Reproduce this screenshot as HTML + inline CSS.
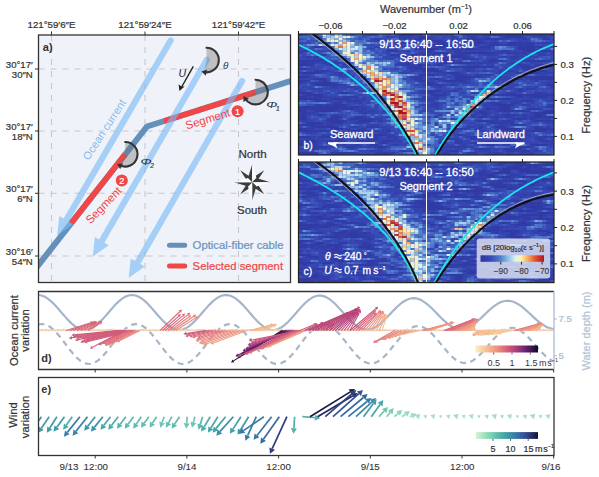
<!DOCTYPE html><html><head><meta charset="utf-8"><style>html,body{margin:0;padding:0;background:#fff;width:599px;height:477px;overflow:hidden}svg{display:block}text{font-family:"Liberation Sans",sans-serif}</style></head><body>
<svg width="599" height="477" viewBox="0 0 599 477">
<defs>
<clipPath id="clipA"><rect x="38.5" y="35.0" width="252.0" height="247.5"/></clipPath>
<clipPath id="clipB"><rect x="298.5" y="34.0" width="255.5" height="121.0"/></clipPath><clipPath id="clipC"><rect x="298.5" y="162.0" width="255.5" height="120.60000000000002"/></clipPath><clipPath id="clipD"><rect x="38.5" y="291.5" width="515.5" height="78.0"/></clipPath><clipPath id="clipE"><rect x="38.5" y="377.5" width="515.5" height="78.0"/></clipPath>
</defs>
<rect width="599" height="477" fill="#fff"/>
<rect x="38.5" y="35.0" width="252.0" height="247.5" fill="#eff2f8"/>
<g clip-path="url(#clipA)">
<line x1="51.5" y1="35.0" x2="51.5" y2="282.5" stroke="#c6c8cd" stroke-width="1.1" stroke-dasharray="6,6"/>
<line x1="145.0" y1="35.0" x2="145.0" y2="282.5" stroke="#c6c8cd" stroke-width="1.1" stroke-dasharray="6,6"/>
<line x1="238.5" y1="35.0" x2="238.5" y2="282.5" stroke="#c6c8cd" stroke-width="1.1" stroke-dasharray="6,6"/>
<line x1="38.5" y1="69.0" x2="290.5" y2="69.0" stroke="#c6c8cd" stroke-width="1.1" stroke-dasharray="6,6"/>
<line x1="38.5" y1="131.0" x2="290.5" y2="131.0" stroke="#c6c8cd" stroke-width="1.1" stroke-dasharray="6,6"/>
<line x1="38.5" y1="193.3" x2="290.5" y2="193.3" stroke="#c6c8cd" stroke-width="1.1" stroke-dasharray="6,6"/>
<line x1="38.5" y1="256.0" x2="290.5" y2="256.0" stroke="#c6c8cd" stroke-width="1.1" stroke-dasharray="6,6"/>
<polyline points="30,275.8 147,126.5 300,78" fill="none" stroke="#6590bb" stroke-width="6" stroke-linejoin="round"/>
<line x1="71" y1="223.3" x2="125.2" y2="154.3" stroke="#f04646" stroke-width="5.6"/>
<line x1="164" y1="121.1" x2="255.5" y2="92.1" stroke="#f04646" stroke-width="5.6"/>
<path d="M167.92,38.94 L63.56,218.58 L59.32,216.12 L57.20,235.70 L73.16,224.15 L68.92,221.69 L173.28,42.06 A3.1,3.1 0 0 0 167.92,38.94 Z" fill="rgba(120,185,245,0.62)"/>
<path d="M204.32,57.95 L99.04,239.57 L94.81,237.12 L92.70,256.70 L108.65,245.14 L104.41,242.68 L209.68,61.05 A3.1,3.1 0 0 0 204.32,57.95 Z" fill="rgba(120,185,245,0.62)"/>
<path d="M239.31,79.45 L134.99,260.85 L130.74,258.41 L128.70,278.00 L144.61,266.38 L140.36,263.94 L244.69,82.55 A3.1,3.1 0 0 0 239.31,79.45 Z" fill="rgba(120,185,245,0.62)"/>
<path d="M206.5,60.0 L206.50,47.70 A12.3,12.3 0 1 1 203.94,72.03 Z" fill="rgba(110,110,110,0.38)"/>
<path d="M206.50,47.70 A12.3,12.3 0 1 1 203.94,72.03" fill="none" stroke="#333" stroke-width="2.1" stroke-linecap="round"/>
<path d="M201.50,71.51 L207.05,69.42 L205.72,75.68 Z" fill="#333"/>
<path d="M255.5,92.1 L255.50,79.80 A12.3,12.3 0 1 1 244.85,98.25 Z" fill="rgba(110,110,110,0.38)"/>
<path d="M255.50,79.80 A12.3,12.3 0 1 1 244.85,98.25" fill="none" stroke="#333" stroke-width="2.1" stroke-linecap="round"/>
<path d="M243.60,96.08 L248.87,98.82 L243.33,102.02 Z" fill="#333"/>
<path d="M125.2,154.3 L125.20,142.00 A12.3,12.3 0 1 1 119.43,165.16 Z" fill="rgba(110,110,110,0.38)"/>
<path d="M125.20,142.00 A12.3,12.3 0 1 1 119.43,165.16" fill="none" stroke="#333" stroke-width="2.1" stroke-linecap="round"/>
<path d="M117.22,163.99 L123.14,163.51 L120.13,169.16 Z" fill="#333"/>
<line x1="193.3" y1="66.4" x2="180.5" y2="89" stroke="#222" stroke-width="1.4"/>
<path d="M179.4,91 L178.6,84.2 L181.3,86.4 L184.6,86.6 Z" fill="#222"/>
<text x="178.60" y="77.00" font-size="10.5" fill="#222" text-anchor="start" font-weight="normal" font-style="italic" stroke-width="0">U</text>
<text x="223.00" y="69.20" font-size="9.8" fill="#333" text-anchor="start" font-weight="normal" font-style="italic" stroke-width="0">θ</text>
<g transform="translate(266.3,108.3) scale(1.4,0.95)">
<text x="0.00" y="0.00" font-size="9.5" fill="#333" text-anchor="start" font-weight="normal" font-style="italic" stroke-width="0">Φ</text>
</g>
<text x="276.00" y="111.20" font-size="6.5" fill="#444" text-anchor="start" font-weight="normal" font-style="italic" stroke="#444" stroke-width="0.22">1</text>
<g transform="translate(140.6,164.6) scale(1.4,0.95)">
<text x="0.00" y="0.00" font-size="9.5" fill="#333" text-anchor="start" font-weight="normal" font-style="italic" stroke-width="0">Φ</text>
</g>
<text x="150.30" y="167.50" font-size="6.5" fill="#444" text-anchor="start" font-weight="normal" font-style="italic" stroke="#444" stroke-width="0.22">2</text>
<g transform="translate(186.8,129.5) rotate(-16.8)">
<text x="0.00" y="0.00" font-size="11.5" fill="#f04646" text-anchor="start" font-weight="normal" font-style="normal" stroke-width="0">Segment</text>
</g>
<circle cx="237.6" cy="111.3" r="6" fill="#f04646"/>
<text x="237.60" y="115.00" font-size="9" fill="#fff" text-anchor="middle" font-weight="normal" font-style="normal" stroke="#fff" stroke-width="0.22">1</text>
<g transform="translate(90.5,224.5) rotate(-46)">
<text x="0.00" y="0.00" font-size="11.5" fill="#f04646" text-anchor="start" font-weight="normal" font-style="normal" stroke-width="0">Segment</text>
</g>
<circle cx="121.8" cy="180.5" r="6" fill="#f04646"/>
<text x="121.80" y="184.20" font-size="9" fill="#fff" text-anchor="middle" font-weight="normal" font-style="normal" stroke="#fff" stroke-width="0.22">2</text>
<g transform="translate(88.5,161) rotate(-57)">
<text x="0.00" y="0.00" font-size="11.0" fill="#86bcef" text-anchor="start" font-weight="normal" font-style="normal" stroke-width="0">Ocean current</text>
</g>
<path d="M252.2,182.2 L254.18,176.75 L264.22,170.18 L257.65,180.22 Z" fill="#3d3d3d"/>
<path d="M252.2,182.2 L257.65,184.18 L264.22,194.22 L254.18,187.65 Z" fill="#3d3d3d"/>
<path d="M252.2,182.2 L250.22,187.65 L240.18,194.22 L246.75,184.18 Z" fill="#3d3d3d"/>
<path d="M252.2,182.2 L246.75,180.22 L240.18,170.18 L250.22,176.75 Z" fill="#3d3d3d"/>
<path d="M252.2,182.2 L247.96,177.96 L252.20,164.20 Z" fill="#3d3d3d"/>
<path d="M252.2,182.2 L256.44,177.96 L252.20,164.20 Z" fill="#ffffff"/>
<path d="M252.2,182.2 L256.44,177.96 L270.20,182.20 Z" fill="#3d3d3d"/>
<path d="M252.2,182.2 L256.44,186.44 L270.20,182.20 Z" fill="#ffffff"/>
<path d="M252.2,182.2 L256.44,186.44 L252.20,200.20 Z" fill="#3d3d3d"/>
<path d="M252.2,182.2 L247.96,186.44 L252.20,200.20 Z" fill="#ffffff"/>
<path d="M252.2,182.2 L247.96,186.44 L234.20,182.20 Z" fill="#3d3d3d"/>
<path d="M252.2,182.2 L247.96,177.96 L234.20,182.20 Z" fill="#ffffff"/>
<text x="252.60" y="158.40" font-size="11.6" fill="#333" text-anchor="middle" font-weight="normal" font-style="normal" stroke="#333" stroke-width="0.22">North</text>
<text x="252.00" y="213.70" font-size="11.4" fill="#333" text-anchor="middle" font-weight="normal" font-style="normal" stroke="#333" stroke-width="0.22">South</text>
<line x1="169.5" y1="245.2" x2="184.7" y2="245.2" stroke="#6590bb" stroke-width="5" stroke-linecap="round"/>
<line x1="169.5" y1="265.9" x2="184.7" y2="265.9" stroke="#f04646" stroke-width="5" stroke-linecap="round"/>
<text x="192.60" y="249.20" font-size="11.3" fill="#6a93bf" text-anchor="start" font-weight="normal" font-style="normal" stroke="#6a93bf" stroke-width="0.22">Optical-fiber cable</text>
<text x="192.60" y="269.80" font-size="11.3" fill="#f04646" text-anchor="start" font-weight="normal" font-style="normal" stroke="#f04646" stroke-width="0.22">Selected segment</text>
<text x="42.80" y="51.20" font-size="11" fill="#333" text-anchor="start" font-weight="bold" font-style="normal" >a)</text>
</g>
<rect x="38.5" y="35.0" width="252.0" height="247.5" fill="none" stroke="#333" stroke-width="1.3"/>
<line x1="51.5" y1="35.0" x2="51.5" y2="31.5" stroke="#333" stroke-width="1"/>
<text x="51.50" y="28.30" font-size="9.7" fill="#333" text-anchor="middle" font-weight="normal" font-style="normal" stroke="#333" stroke-width="0.22">121°59′6″E</text>
<line x1="145.0" y1="35.0" x2="145.0" y2="31.5" stroke="#333" stroke-width="1"/>
<text x="145.00" y="28.30" font-size="9.7" fill="#333" text-anchor="middle" font-weight="normal" font-style="normal" stroke="#333" stroke-width="0.22">121°59′24″E</text>
<line x1="238.5" y1="35.0" x2="238.5" y2="31.5" stroke="#333" stroke-width="1"/>
<text x="238.50" y="28.30" font-size="9.7" fill="#333" text-anchor="middle" font-weight="normal" font-style="normal" stroke="#333" stroke-width="0.22">121°59′42″E</text>
<line x1="38.5" y1="69.0" x2="35.0" y2="69.0" stroke="#333" stroke-width="1"/>
<text x="32.80" y="67.60" font-size="9.6" fill="#333" text-anchor="end" font-weight="normal" font-style="normal" stroke="#333" stroke-width="0.22">30°17′</text>
<text x="32.80" y="77.60" font-size="9.6" fill="#333" text-anchor="end" font-weight="normal" font-style="normal" stroke="#333" stroke-width="0.22">30″N</text>
<line x1="38.5" y1="131.0" x2="35.0" y2="131.0" stroke="#333" stroke-width="1"/>
<text x="32.80" y="129.60" font-size="9.6" fill="#333" text-anchor="end" font-weight="normal" font-style="normal" stroke="#333" stroke-width="0.22">30°17′</text>
<text x="32.80" y="139.60" font-size="9.6" fill="#333" text-anchor="end" font-weight="normal" font-style="normal" stroke="#333" stroke-width="0.22">18″N</text>
<line x1="38.5" y1="193.3" x2="35.0" y2="193.3" stroke="#333" stroke-width="1"/>
<text x="32.80" y="191.90" font-size="9.6" fill="#333" text-anchor="end" font-weight="normal" font-style="normal" stroke="#333" stroke-width="0.22">30°17′</text>
<text x="32.80" y="201.90" font-size="9.6" fill="#333" text-anchor="end" font-weight="normal" font-style="normal" stroke="#333" stroke-width="0.22">6″N</text>
<line x1="38.5" y1="256.0" x2="35.0" y2="256.0" stroke="#333" stroke-width="1"/>
<text x="32.80" y="254.60" font-size="9.6" fill="#333" text-anchor="end" font-weight="normal" font-style="normal" stroke="#333" stroke-width="0.22">30°16′</text>
<text x="32.80" y="264.60" font-size="9.6" fill="#333" text-anchor="end" font-weight="normal" font-style="normal" stroke="#333" stroke-width="0.22">54″N</text>
<g clip-path="url(#clipB)">
<rect x="298.5" y="34.0" width="255.5" height="121.0" fill="rgb(48, 57, 164)"/>
<g transform="translate(298.5,34.0)">
<path fill="#323ca7" d="M0 0m112 0h4v2h-4zm8 0h4v2h-4zm48 0h4v2h-4zm8 0h4v2h-4zm28 0h4v2h-4zm24 0h4v2h-4zm8 0h4v2h-4zm-44 4h4v2h-4zm52 0h4v2h-4zm-116 2h4v2h-4zm4 0h4v2h-4zm4 0h4v2h-4zm4 0h4v2h-4zm36 0h4v2h-4zm4 0h4v2h-4zm-68 2h4v2h-4zm28 0h4v2h-4zm8 0h4v2h-4zm36 0h4v2h-4zm24 0h4v2h-4zm16 0h4v2h-4zm4 0h4v2h-4zm20 0h4v2h-4zm-148 2h4v2h-4zm28 0h4v2h-4zm24 0h4v2h-4zm4 0h4v2h-4zm20 0h4v2h-4zm44 0h4v2h-4zm12 0h4v2h-4zm-212 2h4v2h-4zm68 0h4v2h-4zm4 0h4v2h-4zm52 0h4v2h-4zm36 0h4v2h-4zm-64 2h4v2h-4zm20 0h4v2h-4zm16 0h4v2h-4zm-120 2h4v2h-4zm56 0h4v2h-4zm4 0h4v2h-4zm4 0h4v2h-4zm12 0h4v2h-4zm20 0h4v2h-4zm4 0h4v2h-4zm72 0h4v2h-4zm20 0h4v2h-4zm-224 2h4v2h-4zm128 0h4v2h-4zm28 0h4v2h-4zm4 0h4v2h-4zm32 0h4v2h-4zm20 0h4v2h-4zm4 0h4v2h-4zm8 0h4v2h-4zm-200 2h4v2h-4zm68 0h4v2h-4zm4 0h4v2h-4zm28 0h4v2h-4zm24 0h4v2h-4zm8 0h4v2h-4zm-148 2h4v2h-4zm8 0h4v2h-4zm84 0h4v2h-4zm8 0h4v2h-4zm36 0h4v2h-4zm20 0h4v2h-4zm48 0h4v2h-4zm4 0h4v2h-4zm-196 2h4v2h-4zm88 0h4v2h-4zm8 0h4v2h-4zm16 0h4v2h-4zm4 0h4v2h-4zm28 0h4v2h-4zm4 0h4v2h-4zm-164 2h4v2h-4zm4 0h4v2h-4zm4 0h4v2h-4zm4 0h4v2h-4zm4 0h4v2h-4zm92 0h4v2h-4zm76 0h4v2h-4zm36 0h4v2h-4zm4 0h4v2h-4zm-220 2h4v2h-4zm4 0h4v2h-4zm12 0h4v2h-4zm8 0h4v2h-4zm4 0h4v2h-4zm68 0h4v2h-4zm4 0h4v2h-4zm44 0h4v2h-4zm4 0h4v2h-4zm8 0h4v2h-4zm8 0h4v2h-4zm8 0h4v2h-4zm32 0h4v2h-4zm-204 2h4v2h-4zm36 0h4v2h-4zm60 0h4v2h-4zm4 0h4v2h-4zm28 0h4v2h-4zm84 0h4v2h-4zm4 0h4v2h-4zm16 0h4v2h-4zm4 0h4v2h-4zm-132 2h4v2h-4zm4 0h4v2h-4zm40 0h4v2h-4zm36 0h4v2h-4zm32 0h4v2h-4zm4 0h4v2h-4zm4 0h4v2h-4zm4 0h4v2h-4zm-236 2h4v2h-4zm228 0h4v2h-4zm-208 2h4v2h-4zm4 0h4v2h-4zm88 0h4v2h-4zm28 0h4v2h-4zm60 0h4v2h-4zm4 0h4v2h-4zm8 0h4v2h-4zm28 0h4v2h-4zm-220 2h4v2h-4zm136 0h4v2h-4zm44 0h4v2h-4zm4 0h4v2h-4zm12 0h4v2h-4zm4 0h4v2h-4zm-180 2h4v2h-4zm80 0h4v2h-4zm36 0h4v2h-4zm4 0h4v2h-4zm16 0h4v2h-4zm4 0h4v2h-4zm4 0h4v2h-4zm4 0h4v2h-4zm-180 2h4v2h-4zm108 0h4v2h-4zm4 0h4v2h-4zm36 0h4v2h-4zm16 0h4v2h-4zm4 0h4v2h-4zm4 0h4v2h-4zm20 0h4v2h-4zm20 0h4v2h-4zm32 0h4v2h-4zm-236 2h4v2h-4zm8 0h4v2h-4zm92 0h4v2h-4zm4 0h4v2h-4zm36 0h4v2h-4zm4 0h4v2h-4zm8 0h4v2h-4zm44 0h4v2h-4zm4 0h4v2h-4zm4 0h4v2h-4zm12 0h4v2h-4zm4 0h4v2h-4zm-212 2h4v2h-4zm96 0h4v2h-4zm4 0h4v2h-4zm32 0h4v2h-4zm8 0h4v2h-4zm72 0h4v2h-4zm-204 2h4v2h-4zm132 0h4v2h-4zm4 0h4v2h-4zm-40 2h4v2h-4zm12 0h4v2h-4zm12 0h4v2h-4zm100 2h4v2h-4zm-196 2h4v2h-4zm144 0h4v2h-4zm20 0h4v2h-4zm8 0h4v2h-4zm4 0h4v2h-4zm-104 2h4v2h-4zm4 0h4v2h-4zm8 0h4v2h-4zm12 0h4v2h-4zm-112 2h4v2h-4zm8 0h4v2h-4zm80 0h4v2h-4zm16 0h4v2h-4zm64 0h4v2h-4zm28 0h4v2h-4zm4 0h4v2h-4zm-100 2h4v2h-4zm4 0h4v2h-4zm52 0h4v2h-4zm4 0h4v2h-4zm4 0h4v2h-4zm4 0h4v2h-4zm16 0h4v2h-4zm16 0h4v2h-4zm4 0h4v2h-4zm4 0h4v2h-4zm-244 2h4v2h-4zm44 0h4v2h-4zm4 0h4v2h-4zm84 0h4v2h-4zm96 0h4v2h-4zm12 0h4v2h-4zm-224 2h4v2h-4zm12 0h4v2h-4zm156 0h4v2h-4zm-172 2h4v2h-4zm32 0h4v2h-4zm4 0h4v2h-4zm4 0h4v2h-4zm72 0h4v2h-4zm96 0h4v2h-4zm-188 2h4v2h-4zm156 0h4v2h-4zm4 0h4v2h-4zm20 0h4v2h-4zm-196 2h4v2h-4zm116 0h4v2h-4zm56 0h4v2h-4zm20 0h4v2h-4zm12 0h4v2h-4zm-212 2h4v2h-4zm4 0h4v2h-4zm28 0h4v2h-4zm8 0h4v2h-4zm148 0h4v2h-4zm8 0h4v2h-4zm40 0h4v2h-4zm-240 2h4v2h-4zm8 0h4v2h-4zm48 0h4v2h-4zm128 0h4v2h-4zm8 0h4v2h-4zm28 0h4v2h-4zm-224 2h4v2h-4zm12 0h4v2h-4zm44 0h4v2h-4zm24 0h4v2h-4zm4 0h4v2h-4zm92 0h4v2h-4zm20 0h4v2h-4zm-20 2h4v2h-4zm4 0h4v2h-4zm-148 2h4v2h-4zm136 0h4v2h-4zm12 0h4v2h-4zm28 0h4v2h-4zm-212 2h4v2h-4zm32 0h4v2h-4zm8 0h4v2h-4zm96 0h4v2h-4zm36 0h4v2h-4zm12 0h4v2h-4zm40 0h4v2h-4zm8 0h4v2h-4zm12 0h4v2h-4zm-244 2h4v2h-4zm28 0h4v2h-4zm36 0h4v2h-4zm4 0h4v2h-4zm4 0h4v2h-4zm144 0h4v2h-4zm16 0h4v2h-4zm-188 2h4v2h-4zm28 0h4v2h-4zm8 0h4v2h-4zm112 0h4v2h-4zm12 0h4v2h-4zm40 0h4v2h-4zm8 0h4v2h-4zm-196 2h4v2h-4zm4 0h4v2h-4zm136 0h4v2h-4zm4 0h4v2h-4zm8 0h4v2h-4zm4 0h4v2h-4zm-208 2h4v2h-4zm4 0h4v2h-4zm12 0h4v2h-4zm8 0h4v2h-4zm184 0h4v2h-4zm-200 2h4v2h-4zm4 0h4v2h-4zm20 0h4v2h-4zm32 0h4v2h-4zm4 0h4v2h-4zm108 0h4v2h-4zm24 0h4v2h-4zm-172 2h4v2h-4zm32 0h4v2h-4zm92 0h4v2h-4zm4 0h4v2h-4zm4 0h4v2h-4zm84 0h4v2h-4zm-236 2h4v2h-4zm4 0h4v2h-4zm8 0h4v2h-4zm4 0h4v2h-4zm36 0h4v2h-4zm8 0h4v2h-4zm4 0h4v2h-4zm132 0h4v2h-4zm4 0h4v2h-4zm4 0h4v2h-4zm4 0h4v2h-4zm8 0h4v2h-4zm8 0h4v2h-4zm-200 2h4v2h-4zm12 0h4v2h-4zm16 0h4v2h-4zm4 0h4v2h-4zm128 0h4v2h-4zm20 0h4v2h-4zm-156 2h4v2h-4zm12 0h4v2h-4zm12 0h4v2h-4zm76 0h4v2h-4zm44 0h4v2h-4zm-196 2h4v2h-4zm16 0h4v2h-4zm40 0h4v2h-4zm4 0h4v2h-4zm4 0h4v2h-4zm4 0h4v2h-4zm12 0h4v2h-4zm100 0h4v2h-4zm4 0h4v2h-4zm52 0h4v2h-4zm8 0h4v2h-4zm-212 2h4v2h-4zm32 0h4v2h-4zm84 0h4v2h-4zm52 0h4v2h-4zm32 0h4v2h-4zm-240 2h4v2h-4zm16 0h4v2h-4zm12 0h4v2h-4zm4 0h4v2h-4zm4 0h4v2h-4zm36 0h4v2h-4zm12 0h4v2h-4zm8 0h4v2h-4zm68 0h4v2h-4zm40 0h4v2h-4zm8 0h4v2h-4zm32 0h4v2h-4zm8 0h4v2h-4zm-216 2h4v2h-4zm8 0h4v2h-4zm100 0h4v2h-4zm16 0h4v2h-4zm4 0h4v2h-4zm12 0h4v2h-4zm8 0h4v2h-4zm8 0h4v2h-4zm20 0h4v2h-4zm44 0h4v2h-4zm-244 2h4v2h-4zm4 0h4v2h-4zm4 0h4v2h-4zm28 0h4v2h-4zm12 0h4v2h-4zm20 0h4v2h-4zm20 0h4v2h-4zm96 0h4v2h-4zm12 0h4v2h-4zm28 0h4v2h-4zm-220 2h4v2h-4zm4 0h4v2h-4zm32 0h4v2h-4zm104 0h4v2h-4zm4 0h4v2h-4zm8 0h4v2h-4zm-156 2h4v2h-4zm8 0h4v2h-4zm124 0h4v2h-4zm36 0h4v2h-4zm12 0h4v2h-4zm16 0h4v2h-4zm12 0h4v2h-4zm4 0h4v2h-4zm-116 2h4v2h-4zm44 0h4v2h-4zm60 0h4v2h-4zm12 0h4v2h-4zm8 0h4v2h-4zm-212 2h4v2h-4zm16 0h4v2h-4zm44 0h4v2h-4zm12 0h4v2h-4zm4 0h4v2h-4zm52 0h4v2h-4zm24 0h4v2h-4zm8 0h4v2h-4zm20 0h4v2h-4zm-184 2h4v2h-4zm76 0h4v2h-4zm56 0h4v2h-4zm4 0h4v2h-4zm48 0h4v2h-4zm8 0h4v2h-4z"/>
<path fill="#333faa" d="M0 0m12 0h4v2h-4zm172 0h4v2h-4zm40 0h4v2h-4zm20 0h4v2h-4zm4 0h4v2h-4zm-148 2h4v2h-4zm4 0h4v2h-4zm4 0h4v2h-4zm44 0h4v2h-4zm88 0h4v2h-4zm-164 2h4v2h-4zm28 0h4v2h-4zm76 0h4v2h-4zm4 0h4v2h-4zm16 0h4v2h-4zm-124 2h4v2h-4zm4 0h4v2h-4zm84 0h4v2h-4zm4 0h4v2h-4zm-72 2h4v2h-4zm20 0h4v2h-4zm40 0h4v2h-4zm16 0h4v2h-4zm20 0h4v2h-4zm40 0h4v2h-4zm12 0h4v2h-4zm-244 2h4v2h-4zm172 0h4v2h-4zm16 0h4v2h-4zm12 0h4v2h-4zm4 0h4v2h-4zm12 0h4v2h-4zm8 0h4v2h-4zm-148 2h4v2h-4zm8 0h4v2h-4zm12 0h4v2h-4zm16 0h4v2h-4zm48 0h4v2h-4zm76 0h4v2h-4zm-144 2h4v2h-4zm64 0h4v2h-4zm20 0h4v2h-4zm8 0h4v2h-4zm4 0h4v2h-4zm-188 2h4v2h-4zm4 0h4v2h-4zm152 0h4v2h-4zm4 0h4v2h-4zm20 0h4v2h-4zm28 0h4v2h-4zm44 0h4v2h-4zm-128 2h4v2h-4zm8 0h4v2h-4zm16 0h4v2h-4zm52 0h4v2h-4zm32 0h4v2h-4zm-132 2h4v2h-4zm28 0h4v2h-4zm4 0h4v2h-4zm20 0h4v2h-4zm12 0h4v2h-4zm24 0h4v2h-4zm4 0h4v2h-4zm4 0h4v2h-4zm32 0h4v2h-4zm12 0h4v2h-4zm4 0h4v2h-4zm-132 2h4v2h-4zm56 0h4v2h-4zm36 0h4v2h-4zm32 0h4v2h-4zm-220 2h4v2h-4zm8 0h4v2h-4zm124 0h4v2h-4zm44 0h4v2h-4zm20 0h4v2h-4zm4 0h4v2h-4zm-76 2h4v2h-4zm64 0h4v2h-4zm44 0h4v2h-4zm-248 2h4v2h-4zm40 0h4v2h-4zm8 0h4v2h-4zm52 0h4v2h-4zm40 0h4v2h-4zm44 0h4v2h-4zm4 0h4v2h-4zm4 0h4v2h-4zm-180 2h4v2h-4zm16 0h4v2h-4zm68 0h4v2h-4zm4 0h4v2h-4zm16 0h4v2h-4zm8 0h4v2h-4zm4 0h4v2h-4zm84 0h4v2h-4zm24 0h4v2h-4zm-128 2h4v2h-4zm52 0h4v2h-4zm60 0h4v2h-4zm20 0h4v2h-4zm-128 2h4v2h-4zm24 0h4v2h-4zm32 0h4v2h-4zm4 0h4v2h-4zm36 0h4v2h-4zm16 0h4v2h-4zm-196 2h4v2h-4zm140 0h4v2h-4zm4 0h4v2h-4zm12 0h4v2h-4zm24 0h4v2h-4zm24 0h4v2h-4zm-232 2h4v2h-4zm36 0h4v2h-4zm4 0h4v2h-4zm8 0h4v2h-4zm92 0h4v2h-4zm4 0h4v2h-4zm16 0h4v2h-4zm80 0h4v2h-4zm4 0h4v2h-4zm4 0h4v2h-4zm-112 2h4v2h-4zm28 0h4v2h-4zm-52 2h4v2h-4zm20 2h4v2h-4zm8 0h4v2h-4zm60 0h4v2h-4zm28 0h4v2h-4zm-220 2h4v2h-4zm132 0h4v2h-4zm-128 2h4v2h-4zm176 0h4v2h-4zm60 0h4v2h-4zm-208 2h4v2h-4zm4 0h4v2h-4zm80 0h4v2h-4zm20 0h4v2h-4zm64 0h4v2h-4zm8 0h4v2h-4zm-184 2h4v2h-4zm16 0h4v2h-4zm4 0h4v2h-4zm88 0h4v2h-4zm96 0h4v2h-4zm-224 2h4v2h-4zm148 0h4v2h-4zm20 0h4v2h-4zm-160 2h4v2h-4zm40 0h4v2h-4zm8 0h4v2h-4zm56 0h4v2h-4zm32 0h4v2h-4zm60 0h4v2h-4zm8 0h4v2h-4zm-100 2h4v2h-4zm48 0h4v2h-4zm4 0h4v2h-4zm36 0h4v2h-4zm-208 2h4v2h-4zm128 0h4v2h-4zm60 0h4v2h-4zm-184 2h4v2h-4zm16 0h4v2h-4zm20 0h4v2h-4zm12 0h4v2h-4zm68 0h4v2h-4zm28 0h4v2h-4zm64 0h4v2h-4zm-168 2h4v2h-4zm8 0h4v2h-4zm8 0h4v2h-4zm60 0h4v2h-4zm4 0h4v2h-4zm4 0h4v2h-4zm80 0h4v2h-4zm40 0h4v2h-4zm-212 2h4v2h-4zm20 0h4v2h-4zm156 0h4v2h-4zm4 0h4v2h-4zm28 0h4v2h-4zm-208 2h4v2h-4zm20 0h4v2h-4zm76 0h4v2h-4zm52 0h4v2h-4zm12 0h4v2h-4zm12 0h4v2h-4zm-196 2h4v2h-4zm12 0h4v2h-4zm4 0h4v2h-4zm100 0h4v2h-4zm52 0h4v2h-4zm44 0h4v2h-4zm-180 2h4v2h-4zm12 0h4v2h-4zm76 0h4v2h-4zm52 0h4v2h-4zm-148 2h4v2h-4zm16 0h4v2h-4zm140 0h4v2h-4zm44 0h4v2h-4zm-204 2h4v2h-4zm32 0h4v2h-4zm4 0h4v2h-4zm112 0h4v2h-4zm12 0h4v2h-4zm32 0h4v2h-4zm16 0h4v2h-4zm-244 2h4v2h-4zm8 0h4v2h-4zm4 0h4v2h-4zm52 0h4v2h-4zm112 0h4v2h-4zm12 0h4v2h-4zm44 0h4v2h-4zm-232 2h4v2h-4zm140 0h4v2h-4zm36 0h4v2h-4zm40 0h4v2h-4zm8 0h4v2h-4zm-160 2h4v2h-4zm128 0h4v2h-4zm8 0h4v2h-4zm4 0h4v2h-4zm8 0h4v2h-4zm16 0h4v2h-4zm-152 2h4v2h-4zm4 0h4v2h-4zm72 0h4v2h-4zm44 0h4v2h-4zm16 0h4v2h-4zm-208 2h4v2h-4zm172 0h4v2h-4zm20 0h4v2h-4zm16 0h4v2h-4zm20 0h4v2h-4zm-44 2h4v2h-4zm16 0h4v2h-4zm44 0h4v2h-4zm-248 2h4v2h-4zm16 0h4v2h-4zm16 0h4v2h-4zm40 0h4v2h-4zm4 0h4v2h-4zm124 0h4v2h-4zm4 0h4v2h-4zm20 0h4v2h-4zm-172 2h4v2h-4zm4 0h4v2h-4zm20 0h4v2h-4zm8 0h4v2h-4zm88 0h4v2h-4zm68 0h4v2h-4zm8 0h4v2h-4zm-240 2h4v2h-4zm4 0h4v2h-4zm32 0h4v2h-4zm16 0h4v2h-4zm28 0h4v2h-4zm88 0h4v2h-4zm4 0h4v2h-4zm-112 2h4v2h-4zm16 0h4v2h-4zm96 0h4v2h-4zm4 0h4v2h-4zm68 0h4v2h-4zm-244 2h4v2h-4zm4 0h4v2h-4zm68 0h4v2h-4zm4 0h4v2h-4zm64 0h4v2h-4zm60 0h4v2h-4zm4 0h4v2h-4zm12 0h4v2h-4zm-200 2h4v2h-4zm4 0h4v2h-4zm4 0h4v2h-4zm56 0h4v2h-4zm4 0h4v2h-4zm64 0h4v2h-4zm32 0h4v2h-4zm40 0h4v2h-4zm-208 2h4v2h-4zm16 0h4v2h-4zm56 0h4v2h-4zm76 0h4v2h-4zm16 0h4v2h-4zm52 0h4v2h-4zm4 0h4v2h-4zm8 0h4v2h-4zm-240 2h4v2h-4zm28 0h4v2h-4zm20 0h4v2h-4zm12 0h4v2h-4zm28 0h4v2h-4zm52 0h4v2h-4zm4 0h4v2h-4zm52 0h4v2h-4zm8 0h4v2h-4zm4 0h4v2h-4zm8 0h4v2h-4zm12 0h4v2h-4zm-212 2h4v2h-4zm32 0h4v2h-4zm24 0h4v2h-4zm20 0h4v2h-4zm56 0h4v2h-4zm48 0h4v2h-4zm16 0h4v2h-4zm-204 2h4v2h-4zm64 0h4v2h-4zm28 0h4v2h-4zm-76 2h4v2h-4zm132 0h4v2h-4zm20 0h4v2h-4zm24 0h4v2h-4zm40 0h4v2h-4zm-220 2h4v2h-4zm28 0h4v2h-4zm4 0h4v2h-4zm8 0h4v2h-4zm8 0h4v2h-4zm68 0h4v2h-4zm4 0h4v2h-4zm12 0h4v2h-4zm12 0h4v2h-4zm-120 2h4v2h-4zm84 0h4v2h-4zm24 0h4v2h-4zm-88 2h4v2h-4zm8 0h4v2h-4zm100 0h4v2h-4zm4 0h4v2h-4zm4 0h4v2h-4zm28 0h4v2h-4zm20 0h4v2h-4zm-180 2h4v2h-4zm92 0h4v2h-4zm40 0h4v2h-4zm12 0h4v2h-4zm8 0h4v2h-4zm12 0h4v2h-4zm4 0h4v2h-4zm4 0h4v2h-4zm4 0h4v2h-4zm-212 2h4v2h-4zm8 0h4v2h-4zm16 0h4v2h-4zm120 0h4v2h-4zm28 0h4v2h-4zm8 0h4v2h-4zm8 0h4v2h-4zm12 0h4v2h-4zm4 0h4v2h-4zm4 0h4v2h-4zm4 0h4v2h-4z"/>
<path fill="#3443ae" d="M0 0m0 0h4v2h-4zm68 0h4v2h-4zm4 0h4v2h-4zm44 0h4v2h-4zm24 0h4v2h-4zm24 0h4v2h-4zm8 0h4v2h-4zm60 0h4v2h-4zm-144 2h4v2h-4zm4 0h4v2h-4zm20 0h4v2h-4zm16 0h4v2h-4zm4 0h4v2h-4zm36 0h4v2h-4zm8 0h4v2h-4zm8 0h4v2h-4zm4 0h4v2h-4zm48 0h4v2h-4zm-164 2h4v2h-4zm8 0h4v2h-4zm32 0h4v2h-4zm20 0h4v2h-4zm20 0h4v2h-4zm52 0h4v2h-4zm4 0h4v2h-4zm12 0h4v2h-4zm8 0h4v2h-4zm-32 2h4v2h-4zm24 0h4v2h-4zm4 0h4v2h-4zm-88 2h4v2h-4zm52 0h4v2h-4zm12 0h4v2h-4zm40 0h4v2h-4zm12 0h4v2h-4zm-240 4h4v2h-4zm16 0h4v2h-4zm52 0h4v2h-4zm36 0h4v2h-4zm20 0h4v2h-4zm80 0h4v2h-4zm-144 2h4v2h-4zm24 0h4v2h-4zm48 0h4v2h-4zm4 0h4v2h-4zm32 0h4v2h-4zm36 0h4v2h-4zm20 0h4v2h-4zm-132 2h4v2h-4zm68 0h4v2h-4zm24 0h4v2h-4zm4 0h4v2h-4zm-184 2h4v2h-4zm104 0h4v2h-4zm76 0h4v2h-4zm8 0h4v2h-4zm16 0h4v2h-4zm8 0h4v2h-4zm12 0h4v2h-4zm4 0h4v2h-4zm8 0h4v2h-4zm-116 2h4v2h-4zm80 0h4v2h-4zm8 0h4v2h-4zm-220 2h4v2h-4zm92 0h4v2h-4zm104 0h4v2h-4zm8 0h4v2h-4zm12 0h4v2h-4zm4 0h4v2h-4zm4 0h4v2h-4zm-220 2h4v2h-4zm4 0h4v2h-4zm80 0h4v2h-4zm12 0h4v2h-4zm20 0h4v2h-4zm52 0h4v2h-4zm12 0h4v2h-4zm8 0h4v2h-4zm28 0h4v2h-4zm4 0h4v2h-4zm-192 2h4v2h-4zm80 0h4v2h-4zm8 0h4v2h-4zm8 0h4v2h-4zm24 0h4v2h-4zm-128 2h4v2h-4zm148 0h4v2h-4zm32 0h4v2h-4zm8 0h4v2h-4zm16 0h4v2h-4zm-120 2h4v2h-4zm64 0h4v2h-4zm12 0h4v2h-4zm4 0h4v2h-4zm24 0h4v2h-4zm12 0h4v2h-4zm20 0h4v2h-4zm-100 2h4v2h-4zm48 0h4v2h-4zm20 0h4v2h-4zm-208 2h4v2h-4zm28 0h4v2h-4zm60 0h4v2h-4zm68 0h4v2h-4zm68 0h4v2h-4zm-44 2h4v2h-4zm4 0h4v2h-4zm36 0h4v2h-4zm8 0h4v2h-4zm12 0h4v2h-4zm-144 2h4v2h-4zm20 0h4v2h-4zm72 0h4v2h-4zm12 0h4v2h-4zm44 0h4v2h-4zm-216 2h4v2h-4zm8 0h4v2h-4zm100 0h4v2h-4zm8 0h4v2h-4zm40 0h4v2h-4zm48 0h4v2h-4zm4 0h4v2h-4zm-204 2h4v2h-4zm108 0h4v2h-4zm56 0h4v2h-4zm4 0h4v2h-4zm-208 2h4v2h-4zm12 0h4v2h-4zm100 0h4v2h-4zm92 0h4v2h-4zm4 0h4v2h-4zm-188 2h4v2h-4zm96 0h4v2h-4zm12 0h4v2h-4zm4 0h4v2h-4zm36 0h4v2h-4zm64 0h4v2h-4zm20 0h4v2h-4zm-100 2h4v2h-4zm52 0h4v2h-4zm40 0h4v2h-4zm-128 2h4v2h-4zm40 0h4v2h-4zm48 0h4v2h-4zm8 0h4v2h-4zm-176 2h4v2h-4zm4 0h4v2h-4zm4 0h4v2h-4zm12 0h4v2h-4zm4 0h4v2h-4zm76 0h4v2h-4zm76 0h4v2h-4zm-196 2h4v2h-4zm20 0h4v2h-4zm148 0h4v2h-4zm20 0h4v2h-4zm4 0h4v2h-4zm4 0h4v2h-4zm12 0h4v2h-4zm-224 2h4v2h-4zm120 0h4v2h-4zm28 0h4v2h-4zm-136 2h4v2h-4zm108 0h4v2h-4zm28 0h4v2h-4zm16 0h4v2h-4zm80 0h4v2h-4zm-220 2h4v2h-4zm-12 2h4v2h-4zm16 0h4v2h-4zm8 0h4v2h-4zm136 0h4v2h-4zm52 0h4v2h-4zm4 0h4v2h-4zm20 0h4v2h-4zm-220 2h4v2h-4zm32 0h4v2h-4zm12 0h4v2h-4zm8 0h4v2h-4zm36 0h4v2h-4zm20 0h4v2h-4zm80 0h4v2h-4zm12 0h4v2h-4zm16 0h4v2h-4zm-216 2h4v2h-4zm36 0h4v2h-4zm60 0h4v2h-4zm8 0h4v2h-4zm36 0h4v2h-4zm44 0h4v2h-4zm40 0h4v2h-4zm-196 2h4v2h-4zm12 0h4v2h-4zm64 0h4v2h-4zm8 0h4v2h-4zm64 0h4v2h-4zm16 0h4v2h-4zm12 0h4v2h-4zm-208 2h4v2h-4zm100 0h4v2h-4zm4 0h4v2h-4zm120 0h4v2h-4zm-172 2h4v2h-4zm52 0h4v2h-4zm4 0h4v2h-4zm60 0h4v2h-4zm4 0h4v2h-4zm-12 2h4v2h-4zm-128 2h4v2h-4zm8 0h4v2h-4zm64 0h4v2h-4zm48 0h4v2h-4zm12 0h4v2h-4zm-172 2h4v2h-4zm44 0h4v2h-4zm8 0h4v2h-4zm4 0h4v2h-4zm4 0h4v2h-4zm-68 2h4v2h-4zm8 0h4v2h-4zm8 0h4v2h-4zm8 0h4v2h-4zm156 0h4v2h-4zm12 0h4v2h-4zm20 0h4v2h-4zm12 0h4v2h-4zm12 0h4v2h-4zm-160 2h4v2h-4zm44 0h4v2h-4zm48 0h4v2h-4zm-168 2h4v2h-4zm220 0h4v2h-4zm8 0h4v2h-4zm8 0h4v2h-4zm4 0h4v2h-4zm-248 2h4v2h-4zm52 0h4v2h-4zm32 0h4v2h-4zm116 0h4v2h-4zm-176 2h4v2h-4zm4 0h4v2h-4zm16 0h4v2h-4zm20 0h4v2h-4zm108 0h4v2h-4zm80 0h4v2h-4zm-76 2h4v2h-4zm32 0h4v2h-4zm-128 2h4v2h-4zm88 0h4v2h-4zm64 0h4v2h-4zm-184 2h4v2h-4zm36 0h4v2h-4zm84 0h4v2h-4zm32 0h4v2h-4zm20 0h4v2h-4zm12 0h4v2h-4zm-152 2h4v2h-4zm124 0h4v2h-4zm44 0h4v2h-4zm-188 2h4v2h-4zm92 0h4v2h-4zm76 0h4v2h-4zm20 0h4v2h-4zm-84 2h4v2h-4zm20 0h4v2h-4zm28 0h4v2h-4zm12 0h4v2h-4zm-212 2h4v2h-4zm28 0h4v2h-4zm8 0h4v2h-4zm48 0h4v2h-4zm100 0h4v2h-4zm32 0h4v2h-4zm-216 2h4v2h-4zm8 0h4v2h-4zm24 0h4v2h-4zm8 0h4v2h-4zm32 0h4v2h-4zm4 0h4v2h-4zm156 0h4v2h-4zm8 0h4v2h-4zm-232 2h4v2h-4zm24 0h4v2h-4zm52 0h4v2h-4zm44 0h4v2h-4zm28 0h4v2h-4zm16 0h4v2h-4zm44 0h4v2h-4zm-200 2h4v2h-4zm20 0h4v2h-4zm20 0h4v2h-4zm76 0h4v2h-4zm20 0h4v2h-4zm4 0h4v2h-4zm16 0h4v2h-4zm48 0h4v2h-4zm4 0h4v2h-4zm12 0h4v2h-4zm-208 2h4v2h-4zm12 0h4v2h-4zm8 0h4v2h-4zm8 0h4v2h-4zm24 0h4v2h-4zm12 0h4v2h-4zm44 0h4v2h-4zm48 0h4v2h-4zm-188 2h4v2h-4zm24 0h4v2h-4zm32 0h4v2h-4zm8 0h4v2h-4zm96 0h4v2h-4zm44 0h4v2h-4zm20 0h4v2h-4zm20 0h4v2h-4zm-228 2h4v2h-4zm56 0h4v2h-4zm64 0h4v2h-4zm12 0h4v2h-4zm40 0h4v2h-4zm40 0h4v2h-4zm-160 2h4v2h-4zm24 0h4v2h-4zm12 0h4v2h-4zm28 0h4v2h-4zm4 0h4v2h-4zm32 0h4v2h-4zm64 0h4v2h-4zm-48 2h4v2h-4zm-160 2h4v2h-4zm8 0h4v2h-4zm16 0h4v2h-4zm84 0h4v2h-4zm12 0h4v2h-4zm60 0h4v2h-4z"/>
<path fill="#3546b1" d="M0 0m64 0h4v2h-4zm68 0h4v2h-4zm4 0h4v2h-4zm12 0h4v2h-4zm4 0h4v2h-4zm28 0h4v2h-4zm-64 2h4v2h-4zm28 0h4v2h-4zm12 0h4v2h-4zm68 0h4v2h-4zm8 0h4v2h-4zm16 0h4v2h-4zm-148 2h4v2h-4zm8 0h4v2h-4zm28 0h4v2h-4zm4 0h4v2h-4zm16 0h4v2h-4zm8 0h4v2h-4zm52 0h4v2h-4zm-144 2h4v2h-4zm12 0h4v2h-4zm32 0h4v2h-4zm4 0h4v2h-4zm4 0h4v2h-4zm20 0h4v2h-4zm12 0h4v2h-4zm16 0h4v2h-4zm12 0h4v2h-4zm8 0h4v2h-4zm36 0h4v2h-4zm-228 2h4v2h-4zm8 0h4v2h-4zm228 0h4v2h-4zm-68 2h4v2h-4zm76 0h4v2h-4zm-244 2h4v2h-4zm104 0h4v2h-4zm4 0h4v2h-4zm12 0h4v2h-4zm12 0h4v2h-4zm60 0h4v2h-4zm52 0h4v2h-4zm8 0h4v2h-4zm-252 2h4v2h-4zm140 0h4v2h-4zm52 0h4v2h-4zm-180 2h4v2h-4zm8 0h4v2h-4zm8 0h4v2h-4zm72 0h4v2h-4zm52 0h4v2h-4zm16 0h4v2h-4zm8 0h4v2h-4zm8 0h4v2h-4zm4 0h4v2h-4zm28 0h4v2h-4zm4 0h4v2h-4zm-132 2h4v2h-4zm16 0h4v2h-4zm-84 2h4v2h-4zm68 0h4v2h-4zm16 0h4v2h-4zm4 0h4v2h-4zm32 0h4v2h-4zm4 0h4v2h-4zm24 0h4v2h-4zm16 0h4v2h-4zm36 0h4v2h-4zm32 0h4v2h-4zm-240 2h4v2h-4zm72 0h4v2h-4zm4 0h4v2h-4zm4 0h4v2h-4zm48 0h4v2h-4zm92 0h4v2h-4zm-188 2h4v2h-4zm44 0h4v2h-4zm32 0h4v2h-4zm40 0h4v2h-4zm60 0h4v2h-4zm32 0h4v2h-4zm-228 2h4v2h-4zm8 0h4v2h-4zm104 0h4v2h-4zm24 0h4v2h-4zm24 0h4v2h-4zm28 0h4v2h-4zm-196 2h4v2h-4zm4 0h4v2h-4zm92 0h4v2h-4zm24 0h4v2h-4zm84 0h4v2h-4zm16 0h4v2h-4zm4 0h4v2h-4zm-204 2h4v2h-4zm108 0h4v2h-4zm24 0h4v2h-4zm12 0h4v2h-4zm28 0h4v2h-4zm44 0h4v2h-4zm-240 2h4v2h-4zm32 0h4v2h-4zm8 0h4v2h-4zm152 0h4v2h-4zm40 0h4v2h-4zm4 0h4v2h-4zm-236 2h4v2h-4zm96 0h4v2h-4zm88 0h4v2h-4zm8 0h4v2h-4zm12 0h4v2h-4zm-204 2h4v2h-4zm20 0h4v2h-4zm16 0h4v2h-4zm56 0h4v2h-4zm4 0h4v2h-4zm8 0h4v2h-4zm48 0h4v2h-4zm12 0h4v2h-4zm40 0h4v2h-4zm-192 2h4v2h-4zm8 0h4v2h-4zm68 0h4v2h-4zm8 0h4v2h-4zm28 0h4v2h-4zm-132 2h4v2h-4zm4 0h4v2h-4zm24 0h4v2h-4zm16 0h4v2h-4zm120 0h4v2h-4zm36 0h4v2h-4zm8 0h4v2h-4zm-168 2h4v2h-4zm4 0h4v2h-4zm12 0h4v2h-4zm64 0h4v2h-4zm60 0h4v2h-4zm-180 2h4v2h-4zm48 0h4v2h-4zm72 0h4v2h-4zm4 0h4v2h-4zm16 0h4v2h-4zm52 0h4v2h-4zm28 0h4v2h-4zm-196 2h4v2h-4zm168 0h4v2h-4zm8 0h4v2h-4zm4 0h4v2h-4zm16 0h4v2h-4zm24 0h4v2h-4zm-244 2h4v2h-4zm32 0h4v2h-4zm88 0h4v2h-4zm32 0h4v2h-4zm4 0h4v2h-4zm36 0h4v2h-4zm12 0h4v2h-4zm4 0h4v2h-4zm16 0h4v2h-4zm24 0h4v2h-4zm-240 2h4v2h-4zm136 0h4v2h-4zm96 0h4v2h-4zm-240 2h4v2h-4zm4 0h4v2h-4zm200 0h4v2h-4zm20 0h4v2h-4zm-228 2h4v2h-4zm8 0h4v2h-4zm12 0h4v2h-4zm4 0h4v2h-4zm4 0h4v2h-4zm4 0h4v2h-4zm12 0h4v2h-4zm16 0h4v2h-4zm80 0h4v2h-4zm4 0h4v2h-4zm12 0h4v2h-4zm60 0h4v2h-4zm20 0h4v2h-4zm12 0h4v2h-4zm4 0h4v2h-4zm-248 2h4v2h-4zm140 0h4v2h-4zm-116 2h4v2h-4zm24 0h4v2h-4zm64 0h4v2h-4zm20 0h4v2h-4zm68 0h4v2h-4zm12 0h4v2h-4zm4 0h4v2h-4zm32 0h4v2h-4zm-192 2h4v2h-4zm-28 2h4v2h-4zm32 0h4v2h-4zm8 0h4v2h-4zm56 0h4v2h-4zm4 0h4v2h-4zm8 0h4v2h-4zm4 0h4v2h-4zm20 0h4v2h-4zm88 0h4v2h-4zm-228 2h4v2h-4zm96 0h4v2h-4zm104 0h4v2h-4zm8 0h4v2h-4zm4 0h4v2h-4zm-204 2h4v2h-4zm4 0h4v2h-4zm8 0h4v2h-4zm108 0h4v2h-4zm-120 2h4v2h-4zm16 0h4v2h-4zm96 0h4v2h-4zm-96 2h4v2h-4zm28 0h4v2h-4zm64 0h4v2h-4zm48 0h4v2h-4zm28 0h4v2h-4zm4 0h4v2h-4zm-156 2h4v2h-4zm4 0h4v2h-4zm116 0h4v2h-4zm28 0h4v2h-4zm20 0h4v2h-4zm-172 2h4v2h-4zm12 0h4v2h-4zm64 0h4v2h-4zm4 0h4v2h-4zm8 0h4v2h-4zm-140 2h4v2h-4zm4 0h4v2h-4zm28 0h4v2h-4zm36 0h4v2h-4zm48 0h4v2h-4zm8 0h4v2h-4zm-48 2h4v2h-4zm64 0h4v2h-4zm44 0h4v2h-4zm4 0h4v2h-4zm12 0h4v2h-4zm-168 2h4v2h-4zm156 0h4v2h-4zm32 0h4v2h-4zm-152 2h4v2h-4zm4 0h4v2h-4zm8 0h4v2h-4zm100 0h4v2h-4zm32 0h4v2h-4zm-180 2h4v2h-4zm8 0h4v2h-4zm192 0h4v2h-4zm-232 2h4v2h-4zm4 0h4v2h-4zm12 0h4v2h-4zm24 0h4v2h-4zm8 0h4v2h-4zm20 0h4v2h-4zm88 0h4v2h-4zm-112 2h4v2h-4zm16 0h4v2h-4zm60 0h4v2h-4zm8 0h4v2h-4zm92 0h4v2h-4zm16 0h4v2h-4zm-220 2h4v2h-4zm12 0h4v2h-4zm4 0h4v2h-4zm28 0h4v2h-4zm68 0h4v2h-4zm12 0h4v2h-4zm20 0h4v2h-4zm12 0h4v2h-4zm-180 2h4v2h-4zm8 0h4v2h-4zm40 0h4v2h-4zm12 0h4v2h-4zm28 0h4v2h-4zm4 0h4v2h-4zm84 0h4v2h-4zm8 0h4v2h-4zm60 0h4v2h-4zm8 0h4v2h-4zm-232 2h4v2h-4zm4 0h4v2h-4zm124 0h4v2h-4zm48 0h4v2h-4zm32 0h4v2h-4zm-136 2h4v2h-4zm64 0h4v2h-4zm-152 2h4v2h-4zm12 0h4v2h-4zm16 0h4v2h-4zm20 0h4v2h-4zm20 0h4v2h-4zm16 0h4v2h-4zm8 0h4v2h-4zm96 0h4v2h-4zm-60 2h4v2h-4zm68 0h4v2h-4zm8 0h4v2h-4zm-192 2h4v2h-4zm28 0h4v2h-4zm36 0h4v2h-4zm56 0h4v2h-4zm20 0h4v2h-4zm52 0h4v2h-4zm12 0h4v2h-4zm-220 2h4v2h-4zm4 0h4v2h-4zm76 0h4v2h-4zm12 0h4v2h-4zm68 0h4v2h-4zm32 0h4v2h-4zm8 0h4v2h-4zm-124 2h4v2h-4zm88 0h4v2h-4zm16 0h4v2h-4zm44 0h4v2h-4zm28 0h4v2h-4zm-232 2h4v2h-4zm16 0h4v2h-4zm8 0h4v2h-4zm20 0h4v2h-4zm24 0h4v2h-4zm8 0h4v2h-4zm4 0h4v2h-4zm128 0h4v2h-4zm16 0h4v2h-4zm-196 2h4v2h-4zm52 0h4v2h-4zm52 0h4v2h-4zm8 0h4v2h-4zm16 0h4v2h-4zm76 0h4v2h-4zm-208 2h4v2h-4zm44 0h4v2h-4zm52 0h4v2h-4zm-140 2h4v2h-4zm148 0h4v2h-4zm44 0h4v2h-4zm32 0h4v2h-4zm8 0h4v2h-4zm-172 2h4v2h-4zm4 0h4v2h-4zm4 0h4v2h-4zm40 0h4v2h-4zm84 0h4v2h-4zm4 0h4v2h-4zm8 0h4v2h-4zm28 0h4v2h-4zm-164 2h4v2h-4zm28 0h4v2h-4zm44 0h4v2h-4zm16 0h4v2h-4zm28 0h4v2h-4zm28 0h4v2h-4zm-188 2h4v2h-4zm144 0h4v2h-4zm20 0h4v2h-4z"/>
<path fill="#364ab5" d="M0 0m4 0h4v2h-4zm72 0h4v2h-4zm68 0h4v2h-4zm-124 2h4v2h-4zm44 0h4v2h-4zm20 0h4v2h-4zm116 0h4v2h-4zm-200 2h4v2h-4zm20 0h4v2h-4zm64 0h4v2h-4zm4 0h4v2h-4zm56 0h4v2h-4zm16 0h4v2h-4zm92 0h4v2h-4zm-184 2h4v2h-4zm80 0h4v2h-4zm104 0h4v2h-4zm-248 2h4v2h-4zm24 0h4v2h-4zm64 0h4v2h-4zm32 0h4v2h-4zm36 0h4v2h-4zm44 0h4v2h-4zm-132 2h4v2h-4zm24 0h4v2h-4zm8 0h4v2h-4zm76 0h4v2h-4zm4 0h4v2h-4zm-84 2h4v2h-4zm24 0h4v2h-4zm4 0h4v2h-4zm36 0h4v2h-4zm-160 2h4v2h-4zm4 0h4v2h-4zm4 0h4v2h-4zm76 0h4v2h-4zm152 0h4v2h-4zm-224 2h4v2h-4zm8 0h4v2h-4zm96 0h4v2h-4zm4 0h4v2h-4zm24 0h4v2h-4zm16 0h4v2h-4zm48 0h4v2h-4zm-208 2h4v2h-4zm8 0h4v2h-4zm72 0h4v2h-4zm16 0h4v2h-4zm8 0h4v2h-4zm44 0h4v2h-4zm-148 2h4v2h-4zm176 0h4v2h-4zm68 0h4v2h-4zm-60 2h4v2h-4zm4 0h4v2h-4zm60 0h4v2h-4zm-252 2h4v2h-4zm4 0h4v2h-4zm148 0h4v2h-4zm28 0h4v2h-4zm52 0h4v2h-4zm-124 2h4v2h-4zm12 0h4v2h-4zm56 0h4v2h-4zm32 0h4v2h-4zm8 0h4v2h-4zm4 0h4v2h-4zm32 0h4v2h-4zm-208 2h4v2h-4zm72 0h4v2h-4zm8 0h4v2h-4zm72 0h4v2h-4zm-172 2h4v2h-4zm108 0h4v2h-4zm40 0h4v2h-4zm32 0h4v2h-4zm-204 2h4v2h-4zm20 0h4v2h-4zm16 0h4v2h-4zm12 0h4v2h-4zm160 0h4v2h-4zm44 0h4v2h-4zm-236 2h4v2h-4zm24 0h4v2h-4zm44 0h4v2h-4zm8 0h4v2h-4zm52 0h4v2h-4zm4 0h4v2h-4zm-140 2h4v2h-4zm112 0h4v2h-4zm40 0h4v2h-4zm20 0h4v2h-4zm16 0h4v2h-4zm28 0h4v2h-4zm-180 2h4v2h-4zm84 0h4v2h-4zm36 0h4v2h-4zm48 0h4v2h-4zm-200 2h4v2h-4zm40 0h4v2h-4zm88 0h4v2h-4zm68 0h4v2h-4zm-196 2h4v2h-4zm52 0h4v2h-4zm88 0h4v2h-4zm-144 2h4v2h-4zm96 0h4v2h-4zm48 0h4v2h-4zm20 0h4v2h-4zm-36 2h4v2h-4zm64 0h4v2h-4zm40 0h4v2h-4zm-104 2h4v2h-4zm12 0h4v2h-4zm24 0h4v2h-4zm20 0h4v2h-4zm-128 2h4v2h-4zm108 0h4v2h-4zm4 0h4v2h-4zm24 0h4v2h-4zm40 0h4v2h-4zm-228 2h4v2h-4zm16 0h4v2h-4zm116 0h4v2h-4zm88 0h4v2h-4zm-192 2h4v2h-4zm12 0h4v2h-4zm120 0h4v2h-4zm68 0h4v2h-4zm-224 2h4v2h-4zm16 0h4v2h-4zm8 0h4v2h-4zm156 0h4v2h-4zm40 0h4v2h-4zm8 0h4v2h-4zm8 0h4v2h-4zm-228 2h4v2h-4zm12 0h4v2h-4zm76 0h4v2h-4zm28 0h4v2h-4zm20 0h4v2h-4zm72 0h4v2h-4zm16 0h4v2h-4zm-216 2h4v2h-4zm4 0h4v2h-4zm20 0h4v2h-4zm20 0h4v2h-4zm72 0h4v2h-4zm-108 2h4v2h-4zm40 0h4v2h-4zm88 0h4v2h-4zm-116 2h4v2h-4zm16 0h4v2h-4zm104 0h4v2h-4zm48 0h4v2h-4zm28 0h4v2h-4zm-236 2h4v2h-4zm56 0h4v2h-4zm136 0h4v2h-4zm4 0h4v2h-4zm-156 2h4v2h-4zm132 0h4v2h-4zm44 0h4v2h-4zm-164 2h4v2h-4zm56 0h4v2h-4zm36 0h4v2h-4zm80 0h4v2h-4zm-120 2h4v2h-4zm24 0h4v2h-4zm76 0h4v2h-4zm12 0h4v2h-4zm12 0h4v2h-4zm4 0h4v2h-4zm-176 2h4v2h-4zm8 0h4v2h-4zm52 0h4v2h-4zm24 0h4v2h-4zm60 0h4v2h-4zm40 0h4v2h-4zm-80 2h4v2h-4zm20 0h4v2h-4zm-112 2h4v2h-4zm52 0h4v2h-4zm4 0h4v2h-4zm68 0h4v2h-4zm24 0h4v2h-4zm-216 2h4v2h-4zm32 0h4v2h-4zm108 0h4v2h-4zm28 0h4v2h-4zm-172 2h4v2h-4zm12 0h4v2h-4zm4 0h4v2h-4zm20 0h4v2h-4zm8 0h4v2h-4zm16 0h4v2h-4zm24 0h4v2h-4zm124 0h4v2h-4zm-200 2h4v2h-4zm128 0h4v2h-4zm12 0h4v2h-4zm24 0h4v2h-4zm12 0h4v2h-4zm16 0h4v2h-4zm-120 2h4v2h-4zm80 0h4v2h-4zm52 0h4v2h-4zm-216 2h4v2h-4zm44 0h4v2h-4zm32 0h4v2h-4zm84 0h4v2h-4zm4 0h4v2h-4zm64 0h4v2h-4zm-152 2h4v2h-4zm8 0h4v2h-4zm96 0h4v2h-4zm4 0h4v2h-4zm8 0h4v2h-4zm52 0h4v2h-4zm4 0h4v2h-4zm-188 2h4v2h-4zm76 0h4v2h-4zm24 0h4v2h-4zm28 0h4v2h-4zm16 0h4v2h-4zm-192 2h4v2h-4zm36 0h4v2h-4zm4 0h4v2h-4zm44 0h4v2h-4zm124 0h4v2h-4zm-180 2h4v2h-4zm56 0h4v2h-4zm76 0h4v2h-4zm48 0h4v2h-4zm-68 2h4v2h-4zm12 0h4v2h-4zm16 0h4v2h-4zm16 0h4v2h-4zm4 0h4v2h-4zm48 0h4v2h-4zm-204 2h4v2h-4zm48 0h4v2h-4zm72 0h4v2h-4zm64 0h4v2h-4zm-68 2h4v2h-4zm36 0h4v2h-4zm4 0h4v2h-4zm28 0h4v2h-4zm-216 2h4v2h-4zm8 0h4v2h-4zm8 0h4v2h-4zm16 0h4v2h-4zm96 0h4v2h-4zm40 0h4v2h-4zm44 0h4v2h-4zm8 2h4v2h-4zm-184 2h4v2h-4zm20 0h4v2h-4zm20 0h4v2h-4zm120 0h4v2h-4zm4 0h4v2h-4zm4 0h4v2h-4zm4 0h4v2h-4zm-204 2h4v2h-4zm60 0h4v2h-4zm8 0h4v2h-4zm40 0h4v2h-4zm40 0h4v2h-4zm12 0h4v2h-4zm20 0h4v2h-4zm-180 4h4v2h-4zm8 0h4v2h-4zm20 0h4v2h-4zm28 0h4v2h-4zm8 0h4v2h-4zm80 0h4v2h-4zm8 0h4v2h-4zm28 0h4v2h-4zm-200 2h4v2h-4zm4 0h4v2h-4zm4 0h4v2h-4zm4 0h4v2h-4zm24 0h4v2h-4zm48 0h4v2h-4zm4 0h4v2h-4zm-24 2h4v2h-4zm8 0h4v2h-4zm64 0h4v2h-4zm16 0h4v2h-4zm28 0h4v2h-4zm24 0h4v2h-4zm32 0h4v2h-4zm-200 2h4v2h-4zm120 0h4v2h-4zm4 0h4v2h-4zm84 0h4v2h-4z"/>
<path fill="#384db8" d="M0 0m16 0h4v2h-4zm72 0h4v2h-4zm8 0h4v2h-4zm0 2h4v2h-4zm40 0h4v2h-4zm12 0h4v2h-4zm16 0h4v2h-4zm16 0h4v2h-4zm72 0h4v2h-4zm-192 2h4v2h-4zm152 0h4v2h-4zm-204 2h4v2h-4zm4 0h4v2h-4zm4 0h4v2h-4zm136 0h4v2h-4zm8 0h4v2h-4zm28 0h4v2h-4zm28 0h4v2h-4zm-196 2h4v2h-4zm68 0h4v2h-4zm76 0h4v2h-4zm-100 2h4v2h-4zm4 0h4v2h-4zm12 0h4v2h-4zm44 0h4v2h-4zm36 0h4v2h-4zm76 0h4v2h-4zm4 0h4v2h-4zm8 0h4v2h-4zm4 0h4v2h-4zm-228 2h4v2h-4zm44 0h4v2h-4zm4 0h4v2h-4zm104 0h4v2h-4zm72 0h4v2h-4zm-180 2h4v2h-4zm12 0h4v2h-4zm168 0h4v2h-4zm-164 2h4v2h-4zm32 0h4v2h-4zm76 0h4v2h-4zm-172 2h4v2h-4zm16 0h4v2h-4zm40 0h4v2h-4zm40 0h4v2h-4zm132 0h4v2h-4zm-168 2h4v2h-4zm128 0h4v2h-4zm4 0h4v2h-4zm20 0h4v2h-4zm4 0h4v2h-4zm-236 2h4v2h-4zm172 0h4v2h-4zm8 0h4v2h-4zm16 0h4v2h-4zm44 0h4v2h-4zm-164 2h4v2h-4zm4 0h4v2h-4zm4 0h4v2h-4zm16 0h4v2h-4zm108 0h4v2h-4zm40 0h4v2h-4zm-220 2h4v2h-4zm76 0h4v2h-4zm-8 2h4v2h-4zm132 0h4v2h-4zm16 0h4v2h-4zm4 0h4v2h-4zm-228 2h4v2h-4zm28 0h4v2h-4zm152 0h4v2h-4zm32 0h4v2h-4zm-216 2h4v2h-4zm16 0h4v2h-4zm8 0h4v2h-4zm84 0h4v2h-4zm88 0h4v2h-4zm-192 2h4v2h-4zm8 0h4v2h-4zm128 0h4v2h-4zm20 0h4v2h-4zm8 0h4v2h-4zm16 0h4v2h-4zm12 0h4v2h-4zm8 0h4v2h-4zm32 0h4v2h-4zm-252 2h4v2h-4zm52 0h4v2h-4zm92 0h4v2h-4zm12 0h4v2h-4zm96 0h4v2h-4zm-224 2h4v2h-4zm28 0h4v2h-4zm56 0h4v2h-4zm8 0h4v2h-4zm12 0h4v2h-4zm-132 2h4v2h-4zm28 0h4v2h-4zm144 0h4v2h-4zm28 0h4v2h-4zm36 0h4v2h-4zm12 0h4v2h-4zm4 0h4v2h-4zm-236 2h4v2h-4zm92 0h4v2h-4zm36 0h4v2h-4zm44 0h4v2h-4zm8 0h4v2h-4zm-168 2h4v2h-4zm80 0h4v2h-4zm-56 2h4v2h-4zm56 0h4v2h-4zm4 0h4v2h-4zm60 0h4v2h-4zm20 0h4v2h-4zm20 0h4v2h-4zm4 0h4v2h-4zm4 0h4v2h-4zm8 0h4v2h-4zm16 0h4v2h-4zm-236 2h4v2h-4zm48 0h4v2h-4zm4 0h4v2h-4zm60 0h4v2h-4zm56 0h4v2h-4zm8 0h4v2h-4zm16 0h4v2h-4zm32 0h4v2h-4zm8 0h4v2h-4zm-240 2h4v2h-4zm4 0h4v2h-4zm116 0h4v2h-4zm44 0h4v2h-4zm20 0h4v2h-4zm-184 2h4v2h-4zm24 0h4v2h-4zm96 0h4v2h-4zm4 0h4v2h-4zm8 0h4v2h-4zm92 0h4v2h-4zm24 0h4v2h-4zm-244 2h4v2h-4zm60 0h4v2h-4zm72 0h4v2h-4zm12 0h4v2h-4zm20 0h4v2h-4zm76 0h4v2h-4zm-232 2h4v2h-4zm24 0h4v2h-4zm16 0h4v2h-4zm108 0h4v2h-4zm4 0h4v2h-4zm40 0h4v2h-4zm8 0h4v2h-4zm16 0h4v2h-4zm-208 2h4v2h-4zm36 0h4v2h-4zm144 0h4v2h-4zm28 0h4v2h-4zm-228 2h4v2h-4zm28 0h4v2h-4zm36 0h4v2h-4zm8 0h4v2h-4zm88 0h4v2h-4zm4 0h4v2h-4zm-96 2h4v2h-4zm144 0h4v2h-4zm-72 2h4v2h-4zm4 0h4v2h-4zm16 0h4v2h-4zm80 0h4v2h-4zm-240 2h4v2h-4zm4 0h4v2h-4zm116 0h4v2h-4zm80 0h4v2h-4zm36 0h4v2h-4zm8 0h4v2h-4zm-180 2h4v2h-4zm64 0h4v2h-4zm28 0h4v2h-4zm52 0h4v2h-4zm28 0h4v2h-4zm4 0h4v2h-4zm-232 2h4v2h-4zm4 0h4v2h-4zm40 0h4v2h-4zm8 0h4v2h-4zm172 0h4v2h-4zm4 2h4v2h-4zm-112 2h4v2h-4zm8 0h4v2h-4zm-52 2h4v2h-4zm40 0h4v2h-4zm120 0h4v2h-4zm-200 2h4v2h-4zm8 0h4v2h-4zm72 0h4v2h-4zm20 0h4v2h-4zm84 0h4v2h-4zm-160 2h4v2h-4zm8 0h4v2h-4zm64 0h4v2h-4zm-124 4h4v2h-4zm72 0h4v2h-4zm56 0h4v2h-4zm36 0h4v2h-4zm76 0h4v2h-4zm-236 2h4v2h-4zm160 2h4v2h-4zm60 0h4v2h-4zm-188 2h4v2h-4zm12 0h4v2h-4zm112 0h4v2h-4zm56 0h4v2h-4zm0 2h4v2h-4zm-160 2h4v2h-4zm24 0h4v2h-4zm92 0h4v2h-4zm4 0h4v2h-4zm-156 2h4v2h-4zm64 0h4v2h-4zm56 0h4v2h-4zm8 0h4v2h-4zm28 0h4v2h-4zm8 0h4v2h-4zm4 0h4v2h-4zm-172 2h4v2h-4zm28 0h4v2h-4zm20 0h4v2h-4zm56 0h4v2h-4zm40 0h4v2h-4zm60 0h4v2h-4zm12 0h4v2h-4zm-232 2h4v2h-4zm4 0h4v2h-4zm4 0h4v2h-4zm36 0h4v2h-4zm88 0h4v2h-4zm8 0h4v2h-4zm20 0h4v2h-4zm20 0h4v2h-4zm4 0h4v2h-4zm20 0h4v2h-4zm4 0h4v2h-4zm16 0h4v2h-4zm-152 2h4v2h-4zm16 0h4v2h-4zm40 0h4v2h-4zm76 0h4v2h-4zm8 0h4v2h-4zm-196 2h4v2h-4zm36 0h4v2h-4zm36 0h4v2h-4zm4 0h4v2h-4zm36 0h4v2h-4zm28 0h4v2h-4zm64 0h4v2h-4zm-180 2h4v2h-4zm180 0h4v2h-4zm-128 2h4v2h-4zm44 0h4v2h-4zm4 0h4v2h-4zm88 0h4v2h-4zm-96 2h4v2h-4zm84 0h4v2h-4zm-228 2h4v2h-4zm192 0h4v2h-4zm56 0h4v2h-4zm-192 2h4v2h-4zm96 0h4v2h-4zm96 0h4v2h-4zm-216 2h4v2h-4zm60 0h4v2h-4zm68 0h4v2h-4zm88 0h4v2h-4zm-188 2h4v2h-4zm104 0h4v2h-4zm52 0h4v2h-4zm24 0h4v2h-4zm4 0h4v2h-4zm-192 2h4v2h-4zm84 0h4v2h-4zm80 0h4v2h-4zm20 0h4v2h-4zm4 0h4v2h-4zm8 0h4v2h-4z"/>
<path fill="#3b55bc" d="M0 0m8 0h4v2h-4zm44 0h4v2h-4zm72 0h4v2h-4zm4 0h4v2h-4zm-68 2h4v2h-4zm80 0h4v2h-4zm88 0h4v2h-4zm-224 2h4v2h-4zm8 0h4v2h-4zm136 0h4v2h-4zm92 0h4v2h-4zm-152 2h4v2h-4zm4 0h4v2h-4zm20 0h4v2h-4zm92 0h4v2h-4zm8 0h4v2h-4zm36 0h4v2h-4zm-236 2h4v2h-4zm108 0h4v2h-4zm12 0h4v2h-4zm-56 2h4v2h-4zm12 0h4v2h-4zm-84 2h4v2h-4zm208 0h4v2h-4zm-188 2h4v2h-4zm4 0h4v2h-4zm56 0h4v2h-4zm28 0h4v2h-4zm132 0h4v2h-4zm-172 2h4v2h-4zm4 0h4v2h-4zm36 0h4v2h-4zm-32 2h4v2h-4zm16 0h4v2h-4zm-96 2h4v2h-4zm28 0h4v2h-4zm44 0h4v2h-4zm104 0h4v2h-4zm24 0h4v2h-4zm-180 2h4v2h-4zm8 0h4v2h-4zm88 0h4v2h-4zm4 0h4v2h-4zm4 0h4v2h-4zm4 0h4v2h-4zm8 0h4v2h-4zm108 0h4v2h-4zm-60 2h4v2h-4zm60 0h4v2h-4zm-148 2h4v2h-4zm76 0h4v2h-4zm8 0h4v2h-4zm-52 2h4v2h-4zm4 0h4v2h-4zm92 0h4v2h-4zm-208 2h4v2h-4zm24 0h4v2h-4zm108 0h4v2h-4zm16 0h4v2h-4zm20 0h4v2h-4zm-176 2h4v2h-4zm16 0h4v2h-4zm4 0h4v2h-4zm76 0h4v2h-4zm40 0h4v2h-4zm-112 2h4v2h-4zm56 0h4v2h-4zm12 0h4v2h-4zm40 0h4v2h-4zm12 0h4v2h-4zm8 0h4v2h-4zm20 0h4v2h-4zm12 0h4v2h-4zm56 0h4v2h-4zm-212 2h4v2h-4zm56 0h4v2h-4zm4 0h4v2h-4zm-44 2h4v2h-4zm64 0h4v2h-4zm56 0h4v2h-4zm4 0h4v2h-4zm16 0h4v2h-4zm-136 2h4v2h-4zm92 0h4v2h-4zm-124 2h4v2h-4zm4 0h4v2h-4zm188 0h4v2h-4zm-172 2h4v2h-4zm12 0h4v2h-4zm136 0h4v2h-4zm-176 2h4v2h-4zm40 0h4v2h-4zm4 0h4v2h-4zm48 2h4v2h-4zm4 0h4v2h-4zm32 0h4v2h-4zm72 0h4v2h-4zm8 0h4v2h-4zm-176 2h4v2h-4zm64 0h4v2h-4zm48 0h4v2h-4zm8 0h4v2h-4zm28 0h4v2h-4zm24 0h4v2h-4zm12 0h4v2h-4zm4 0h4v2h-4zm-120 2h4v2h-4zm40 0h4v2h-4zm4 0h4v2h-4zm44 0h4v2h-4zm-156 2h4v2h-4zm20 0h4v2h-4zm44 0h4v2h-4zm40 0h4v2h-4zm12 0h4v2h-4zm24 0h4v2h-4zm8 0h4v2h-4zm-172 2h4v2h-4zm24 0h4v2h-4zm24 0h4v2h-4zm44 0h4v2h-4zm84 0h4v2h-4zm32 0h4v2h-4zm8 0h4v2h-4zm8 0h4v2h-4zm-232 2h4v2h-4zm52 2h4v2h-4zm40 0h4v2h-4zm12 0h4v2h-4zm4 0h4v2h-4zm4 0h4v2h-4zm40 0h4v2h-4zm20 0h4v2h-4zm-128 2h4v2h-4zm16 0h4v2h-4zm132 0h4v2h-4zm-124 2h4v2h-4zm28 0h4v2h-4zm-32 2h4v2h-4zm56 0h4v2h-4zm-92 2h4v2h-4zm28 0h4v2h-4zm12 0h4v2h-4zm84 0h4v2h-4zm12 0h4v2h-4zm68 0h4v2h-4zm4 0h4v2h-4zm-196 2h4v2h-4zm88 0h4v2h-4zm36 0h4v2h-4zm60 0h4v2h-4zm-120 2h4v2h-4zm4 0h4v2h-4zm20 0h4v2h-4zm-64 2h4v2h-4zm96 0h4v2h-4zm4 0h4v2h-4zm44 0h4v2h-4zm20 0h4v2h-4zm4 0h4v2h-4zm-196 2h4v2h-4zm-32 2h4v2h-4zm4 0h4v2h-4zm20 0h4v2h-4zm12 0h4v2h-4zm32 0h4v2h-4zm40 0h4v2h-4zm16 0h4v2h-4zm12 0h4v2h-4zm16 0h4v2h-4zm28 0h4v2h-4zm16 0h4v2h-4zm-188 2h4v2h-4zm20 0h4v2h-4zm32 0h4v2h-4zm112 0h4v2h-4zm-176 2h4v2h-4zm12 0h4v2h-4zm20 0h4v2h-4zm84 0h4v2h-4zm-108 2h4v2h-4zm104 0h4v2h-4zm72 0h4v2h-4zm-180 2h4v2h-4zm152 0h4v2h-4zm44 0h4v2h-4zm12 0h4v2h-4zm-152 2h4v2h-4zm8 0h4v2h-4zm40 0h4v2h-4zm56 0h4v2h-4zm36 0h4v2h-4zm8 0h4v2h-4zm-180 2h4v2h-4zm40 0h4v2h-4zm-44 2h4v2h-4zm108 0h4v2h-4zm-120 2h4v2h-4zm44 0h4v2h-4zm8 0h4v2h-4zm16 0h4v2h-4zm76 0h4v2h-4zm20 0h4v2h-4zm-152 2h4v2h-4zm-20 2h4v2h-4zm80 0h4v2h-4zm-92 2h4v2h-4zm128 0h4v2h-4zm108 0h4v2h-4zm-136 2h4v2h-4zm36 0h4v2h-4zm4 0h4v2h-4zm4 0h4v2h-4zm-92 2h4v2h-4zm128 0h4v2h-4zm8 0h4v2h-4zm52 0h4v2h-4zm-200 2h4v2h-4zm56 0h4v2h-4zm72 0h4v2h-4zm-152 2h4v2h-4zm36 0h4v2h-4zm16 0h4v2h-4zm-48 2h4v2h-4zm36 0h4v2h-4zm108 0h4v2h-4zm-136 2h4v2h-4zm100 0h4v2h-4zm40 0h4v2h-4zm12 0h4v2h-4zm-156 2h4v2h-4zm56 0h4v2h-4zm20 0h4v2h-4zm144 0h4v2h-4zm-156 2h4v2h-4zm40 0h4v2h-4zm64 0h4v2h-4zm52 0h4v2h-4zm-224 2h4v2h-4zm72 0h4v2h-4zm152 0h4v2h-4zm-204 2h4v2h-4zm44 0h4v2h-4zm80 0h4v2h-4zm4 0h4v2h-4zm8 0h4v2h-4z"/>
<path fill="#405fbf" d="M0 0m84 0h4v2h-4zm-72 2h4v2h-4zm56 0h4v2h-4zm8 0h4v2h-4zm-20 2h4v2h-4zm12 0h4v2h-4zm-68 2h4v2h-4zm52 0h4v2h-4zm180 0h4v2h-4zm12 0h4v2h-4zm-220 2h4v2h-4zm56 0h4v2h-4zm4 0h4v2h-4zm84 0h4v2h-4zm-164 2h4v2h-4zm88 0h4v2h-4zm72 0h4v2h-4zm-156 2h4v2h-4zm200 0h4v2h-4zm-176 2h4v2h-4zm32 0h4v2h-4zm12 0h4v2h-4zm4 2h4v2h-4zm56 0h4v2h-4zm8 0h4v2h-4zm-52 2h4v2h-4zm-84 2h4v2h-4zm76 0h4v2h-4zm88 0h4v2h-4zm-148 2h4v2h-4zm8 0h4v2h-4zm4 0h4v2h-4zm96 0h4v2h-4zm44 0h4v2h-4zm8 0h4v2h-4zm64 0h4v2h-4zm-220 2h4v2h-4zm12 0h4v2h-4zm56 0h4v2h-4zm60 0h4v2h-4zm80 0h4v2h-4zm-156 2h4v2h-4zm20 0h4v2h-4zm28 0h4v2h-4zm-76 2h4v2h-4zm68 0h4v2h-4zm84 0h4v2h-4zm-44 2h4v2h-4zm-64 2h4v2h-4zm36 0h4v2h-4zm8 0h4v2h-4zm60 0h4v2h-4zm-176 2h4v2h-4zm80 0h4v2h-4zm-4 2h4v2h-4zm52 0h4v2h-4zm68 0h4v2h-4zm-40 2h4v2h-4zm4 0h4v2h-4zm-160 2h4v2h-4zm92 0h4v2h-4zm100 0h4v2h-4zm-196 2h4v2h-4zm36 0h4v2h-4zm72 0h4v2h-4zm4 0h4v2h-4zm60 0h4v2h-4zm20 0h4v2h-4zm-172 2h4v2h-4zm28 0h4v2h-4zm80 0h4v2h-4zm36 0h4v2h-4zm-172 2h4v2h-4zm164 0h4v2h-4zm-136 2h4v2h-4zm-32 2h4v2h-4zm60 0h4v2h-4zm160 0h4v2h-4zm-164 2h4v2h-4zm48 0h4v2h-4zm36 0h4v2h-4zm68 0h4v2h-4zm24 0h4v2h-4zm-168 2h4v2h-4zm28 0h4v2h-4zm4 0h4v2h-4zm20 0h4v2h-4zm68 0h4v2h-4zm-184 2h4v2h-4zm20 0h4v2h-4zm16 0h4v2h-4zm-12 2h4v2h-4zm28 0h4v2h-4zm48 0h4v2h-4zm72 0h4v2h-4zm16 0h4v2h-4zm-144 2h4v2h-4zm68 2h4v2h-4zm28 0h4v2h-4zm8 0h4v2h-4zm32 0h4v2h-4zm16 0h4v2h-4zm-128 2h4v2h-4zm76 0h4v2h-4zm-144 2h4v2h-4zm76 0h4v2h-4zm108 0h4v2h-4zm-164 2h4v2h-4zm196 0h4v2h-4zm-224 2h4v2h-4zm4 0h4v2h-4zm64 0h4v2h-4zm12 0h4v2h-4zm72 0h4v2h-4zm-80 2h4v2h-4zm8 0h4v2h-4zm144 0h4v2h-4zm-80 2h4v2h-4zm-100 2h4v2h-4zm188 0h4v2h-4zm-204 2h4v2h-4zm24 0h4v2h-4zm160 0h4v2h-4zm-152 2h4v2h-4zm84 0h4v2h-4zm-132 2h4v2h-4zm112 0h4v2h-4zm16 0h4v2h-4zm28 0h4v2h-4zm-4 2h4v2h-4zm4 0h4v2h-4zm20 0h4v2h-4zm16 0h4v2h-4zm-76 2h4v2h-4zm96 0h4v2h-4zm-152 2h4v2h-4zm112 0h4v2h-4zm56 0h4v2h-4zm-184 2h4v2h-4zm8 0h4v2h-4zm92 0h4v2h-4zm8 0h4v2h-4zm28 0h4v2h-4zm40 0h4v2h-4zm4 0h4v2h-4zm8 0h4v2h-4zm-32 2h4v2h-4zm-60 2h4v2h-4zm-152 4h4v2h-4zm24 0h4v2h-4zm120 0h4v2h-4zm16 0h4v2h-4zm4 0h4v2h-4zm16 0h4v2h-4zm8 0h4v2h-4zm52 0h4v2h-4zm-188 2h4v2h-4zm96 0h4v2h-4zm32 0h4v2h-4zm68 0h4v2h-4zm-88 2h4v2h-4zm4 2h4v2h-4zm-28 2h4v2h-4zm16 0h4v2h-4zm20 0h4v2h-4zm-36 2h4v2h-4zm0 2h4v2h-4zm20 0h4v2h-4zm-152 2h4v2h-4zm36 0h4v2h-4zm52 0h4v2h-4zm4 0h4v2h-4zm4 0h4v2h-4zm4 0h4v2h-4zm104 0h4v2h-4zm28 0h4v2h-4zm-200 2h4v2h-4zm32 0h4v2h-4zm4 0h4v2h-4zm156 0h4v2h-4zm16 0h4v2h-4zm-216 2h4v2h-4zm28 0h4v2h-4zm116 0h4v2h-4zm-152 2h4v2h-4zm228 0h4v2h-4zm-148 2h4v2h-4zm4 0h4v2h-4zm8 0h4v2h-4zm4 0h4v2h-4zm16 0h4v2h-4z"/>
<path fill="#4468c3" d="M0 0m56 0h4v2h-4zm4 0h4v2h-4zm32 0h4v2h-4zm68 0h4v2h-4zm-160 2h4v2h-4zm4 0h4v2h-4zm4 0h4v2h-4zm8 0h4v2h-4zm64 0h4v2h-4zm116 0h4v2h-4zm-144 2h4v2h-4zm12 0h4v2h-4zm28 0h4v2h-4zm4 0h4v2h-4zm-92 2h4v2h-4zm56 0h4v2h-4zm48 0h4v2h-4zm92 0h4v2h-4zm-116 4h4v2h-4zm28 0h4v2h-4zm8 0h4v2h-4zm-88 2h4v2h-4zm-12 2h4v2h-4zm80 0h4v2h-4zm-36 2h4v2h-4zm-40 2h4v2h-4zm88 0h4v2h-4zm-96 2h4v2h-4zm60 0h4v2h-4zm128 0h4v2h-4zm-164 2h4v2h-4zm36 0h4v2h-4zm-44 2h4v2h-4zm4 0h4v2h-4zm12 0h4v2h-4zm16 4h4v2h-4zm132 2h4v2h-4zm-192 2h4v2h-4zm52 0h4v2h-4zm28 0h4v2h-4zm4 0h4v2h-4zm4 0h4v2h-4zm36 0h4v2h-4zm-72 2h4v2h-4zm4 0h4v2h-4zm128 0h4v2h-4zm48 0h4v2h-4zm8 0h4v2h-4zm-240 2h4v2h-4zm164 2h4v2h-4zm28 2h4v2h-4zm32 0h4v2h-4zm-192 2h4v2h-4zm104 0h4v2h-4zm-92 2h4v2h-4zm12 0h4v2h-4zm4 0h4v2h-4zm116 0h4v2h-4zm-40 4h4v2h-4zm40 0h4v2h-4zm56 0h4v2h-4zm-176 2h4v2h-4zm120 0h4v2h-4zm-160 2h4v2h-4zm48 0h4v2h-4zm96 0h4v2h-4zm12 0h4v2h-4zm4 0h4v2h-4zm-72 2h4v2h-4zm8 0h4v2h-4zm4 0h4v2h-4zm8 0h4v2h-4zm4 0h4v2h-4zm-76 2h4v2h-4zm124 0h4v2h-4zm12 0h4v2h-4zm-36 2h4v2h-4zm12 0h4v2h-4zm24 0h4v2h-4zm-148 2h4v2h-4zm68 0h4v2h-4zm60 0h4v2h-4zm20 2h4v2h-4zm8 0h4v2h-4zm-52 4h4v2h-4zm92 0h4v2h-4zm-232 2h4v2h-4zm68 0h4v2h-4zm48 0h4v2h-4zm36 0h4v2h-4zm0 2h4v2h-4zm84 0h4v2h-4zm-128 4h4v2h-4zm4 0h4v2h-4zm44 2h4v2h-4zm72 0h4v2h-4zm-200 2h4v2h-4zm184 0h4v2h-4zm-164 2h4v2h-4zm12 0h4v2h-4zm60 0h4v2h-4zm4 0h4v2h-4zm-12 2h4v2h-4zm-100 2h4v2h-4zm24 0h4v2h-4zm52 2h4v2h-4zm20 0h4v2h-4zm44 0h4v2h-4zm-160 2h4v2h-4zm4 4h4v2h-4zm40 0h4v2h-4zm116 0h4v2h-4zm-36 4h4v2h-4zm68 0h4v2h-4zm-100 2h4v2h-4zm48 0h4v2h-4zm36 0h4v2h-4zm-172 2h4v2h-4zm100 2h4v2h-4zm-80 8h4v2h-4zm60 0h4v2h-4zm24 0h4v2h-4zm24 0h4v2h-4zm80 0h4v2h-4zm4 0h4v2h-4zm-84 2h4v2h-4zm52 0h4v2h-4zm16 0h4v2h-4zm4 0h4v2h-4zm-36 2h4v2h-4zm-128 2h4v2h-4zm204 0h4v2h-4zm-140 2h4v2h-4zm56 0h4v2h-4zm-64 2h4v2h-4z"/>
<path fill="#4871c7" d="M0 0m48 0h4v2h-4zm32 0h4v2h-4zm76 0h4v2h-4zm-100 2h4v2h-4zm16 0h4v2h-4zm88 0h4v2h-4zm32 0h4v2h-4zm-184 2h4v2h-4zm228 0h4v2h-4zm-136 2h4v2h-4zm108 0h4v2h-4zm28 0h4v2h-4zm4 0h4v2h-4zm-224 2h4v2h-4zm60 0h4v2h-4zm52 0h4v2h-4zm-20 2h4v2h-4zm64 2h4v2h-4zm-156 2h4v2h-4zm180 0h4v2h-4zm8 0h4v2h-4zm4 0h4v2h-4zm4 0h4v2h-4zm-72 2h4v2h-4zm-132 2h4v2h-4zm24 0h4v2h-4zm32 0h4v2h-4zm4 0h4v2h-4zm-24 4h4v2h-4zm36 0h4v2h-4zm-8 2h4v2h-4zm128 0h4v2h-4zm40 0h4v2h-4zm-200 2h4v2h-4zm8 0h4v2h-4zm36 0h4v2h-4zm8 0h4v2h-4zm72 0h4v2h-4zm88 2h4v2h-4zm-96 2h4v2h-4zm-20 2h4v2h-4zm-88 2h4v2h-4zm4 0h4v2h-4zm-12 2h4v2h-4zm40 0h4v2h-4zm4 0h4v2h-4zm4 0h4v2h-4zm100 2h4v2h-4zm-172 2h4v2h-4zm4 0h4v2h-4zm212 0h4v2h-4zm-196 4h4v2h-4zm8 2h4v2h-4zm4 0h4v2h-4zm56 0h4v2h-4zm116 2h4v2h-4zm-32 2h4v2h-4zm4 0h4v2h-4zm-40 2h4v2h-4zm32 0h4v2h-4zm36 0h4v2h-4zm24 0h4v2h-4zm-60 4h4v2h-4zm24 0h4v2h-4zm-56 2h4v2h-4zm72 0h4v2h-4zm-176 2h4v2h-4zm68 0h4v2h-4zm40 0h4v2h-4zm20 0h4v2h-4zm-16 2h4v2h-4zm8 2h4v2h-4zm-92 2h4v2h-4zm40 0h4v2h-4zm44 0h4v2h-4zm36 0h4v2h-4zm-184 2h4v2h-4zm4 0h4v2h-4zm64 0h4v2h-4zm40 0h4v2h-4zm-48 2h4v2h-4zm76 0h4v2h-4zm-60 2h4v2h-4zm64 0h4v2h-4zm68 0h4v2h-4zm-136 2h4v2h-4zm-36 2h4v2h-4zm44 0h4v2h-4zm-60 2h4v2h-4zm92 0h4v2h-4zm-72 2h4v2h-4zm24 0h4v2h-4zm-4 2h4v2h-4zm16 2h4v2h-4zm72 0h4v2h-4zm12 0h4v2h-4zm12 0h4v2h-4zm-24 4h4v2h-4zm-68 2h4v2h-4zm96 2h4v2h-4zm-152 4h4v2h-4zm112 0h4v2h-4zm16 0h4v2h-4zm8 0h4v2h-4zm-44 4h4v2h-4zm124 0h4v2h-4zm-40 2h4v2h-4zm-104 2h4v2h-4zm40 2h4v2h-4zm-24 4h4v2h-4zm16 0h4v2h-4zm104 2h4v2h-4zm-200 2h4v2h-4zm16 0h4v2h-4zm32 0h4v2h-4zm20 0h4v2h-4zm128 0h4v2h-4zm-224 2h4v2h-4zm8 0h4v2h-4zm92 2h4v2h-4zm16 0h4v2h-4z"/>
<path fill="#4d7bca" d="M0 0m20 0h4v2h-4zm24 0h4v2h-4zm-28 4h4v2h-4zm8 0h4v2h-4zm24 0h4v2h-4zm184 0h4v2h-4zm-176 2h4v2h-4zm8 0h4v2h-4zm32 0h4v2h-4zm-60 2h4v2h-4zm20 0h4v2h-4zm4 0h4v2h-4zm4 0h4v2h-4zm8 0h4v2h-4zm-56 2h4v2h-4zm100 0h4v2h-4zm80 2h4v2h-4zm-160 4h4v2h-4zm16 2h4v2h-4zm-40 2h4v2h-4zm192 4h4v2h-4zm-160 2h4v2h-4zm24 0h4v2h-4zm4 0h4v2h-4zm16 0h4v2h-4zm80 0h4v2h-4zm-76 2h4v2h-4zm108 0h4v2h-4zm-124 2h4v2h-4zm16 0h4v2h-4zm-12 2h4v2h-4zm20 0h4v2h-4zm140 2h4v2h-4zm-196 2h4v2h-4zm12 0h4v2h-4zm92 0h4v2h-4zm-56 2h4v2h-4zm4 0h4v2h-4zm-36 2h4v2h-4zm164 0h4v2h-4zm-120 2h4v2h-4zm32 0h4v2h-4zm-104 2h4v2h-4zm144 0h4v2h-4zm-144 2h4v2h-4zm4 0h4v2h-4zm32 0h4v2h-4zm-24 2h4v2h-4zm20 0h4v2h-4zm8 0h4v2h-4zm44 0h4v2h-4zm-60 2h4v2h-4zm168 0h4v2h-4zm-116 2h4v2h-4zm20 0h4v2h-4zm44 0h4v2h-4zm4 2h4v2h-4zm-64 2h4v2h-4zm-72 4h4v2h-4zm112 0h4v2h-4zm-4 4h4v2h-4zm8 0h4v2h-4zm-16 2h4v2h-4zm4 0h4v2h-4zm44 0h4v2h-4zm-184 2h4v2h-4zm144 0h4v2h-4zm16 0h4v2h-4zm80 0h4v2h-4zm-132 2h4v2h-4zm-28 2h4v2h-4zm96 0h4v2h-4zm-20 2h4v2h-4zm-4 2h4v2h-4zm-72 4h4v2h-4zm4 0h4v2h-4zm4 0h4v2h-4zm156 0h4v2h-4zm-96 2h4v2h-4zm12 0h4v2h-4zm-40 2h4v2h-4zm8 0h4v2h-4zm16 0h4v2h-4zm-24 2h4v2h-4zm-36 2h4v2h-4zm20 0h4v2h-4zm-56 2h4v2h-4zm72 0h4v2h-4zm4 0h4v2h-4zm12 0h4v2h-4zm20 0h4v2h-4zm80 0h4v2h-4zm-112 2h4v2h-4zm4 0h4v2h-4zm92 0h4v2h-4zm-148 2h4v2h-4zm52 0h4v2h-4zm8 0h4v2h-4zm100 4h4v2h-4zm-236 2h4v2h-4zm140 0h4v2h-4zm36 0h4v2h-4zm64 0h4v2h-4zm-132 6h4v2h-4zm-52 2h4v2h-4zm164 2h4v2h-4zm4 0h4v2h-4zm-96 2h4v2h-4zm52 0h4v2h-4zm16 0h4v2h-4zm-132 2h4v2h-4zm32 0h4v2h-4zm4 0h4v2h-4zm-80 2h4v2h-4zm24 0h4v2h-4zm-20 2h4v2h-4zm84 0h4v2h-4zm4 0h4v2h-4zm-4 2h4v2h-4zm72 0h4v2h-4z"/>
<path fill="#5385ce" d="M0 0m104 6h4v2h-4zm-48 4h4v2h-4zm148 2h4v2h-4zm-96 2h4v2h-4zm92 0h4v2h-4zm52 0h4v2h-4zm-184 2h4v2h-4zm-28 2h4v2h-4zm32 0h4v2h-4zm-40 2h4v2h-4zm44 6h4v2h-4zm-24 4h4v2h-4zm36 0h4v2h-4zm0 12h4v2h-4zm12 2h4v2h-4zm88 0h4v2h-4zm-148 2h4v2h-4zm24 0h4v2h-4zm124 0h4v2h-4zm-136 2h4v2h-4zm48 0h4v2h-4zm8 2h4v2h-4zm-92 2h4v2h-4zm56 0h4v2h-4zm32 0h4v2h-4zm-28 4h4v2h-4zm92 0h4v2h-4zm-84 6h4v2h-4zm32 0h4v2h-4zm80 0h4v2h-4zm-88 2h4v2h-4zm56 0h4v2h-4zm-92 2h4v2h-4zm40 0h4v2h-4zm44 0h4v2h-4zm8 0h4v2h-4zm20 0h4v2h-4zm-184 2h4v2h-4zm20 0h4v2h-4zm4 0h4v2h-4zm128 0h4v2h-4zm-68 2h4v2h-4zm32 0h4v2h-4zm-28 4h4v2h-4zm132 0h4v2h-4zm-84 2h4v2h-4zm-20 2h4v2h-4zm52 2h4v2h-4zm84 0h4v2h-4zm-140 2h4v2h-4zm4 0h4v2h-4zm40 0h4v2h-4zm-64 4h4v2h-4zm28 0h4v2h-4zm12 0h4v2h-4zm4 0h4v2h-4zm-4 2h4v2h-4zm12 0h4v2h-4zm76 0h4v2h-4zm-124 2h4v2h-4zm20 4h4v2h-4zm12 2h4v2h-4zm40 0h4v2h-4zm-48 2h4v2h-4zm16 0h4v2h-4zm-8 4h4v2h-4zm4 0h4v2h-4zm4 2h4v2h-4zm-8 4h4v2h-4zm4 0h4v2h-4zm108 4h4v2h-4zm-200 2h4v2h-4zm92 0h4v2h-4zm-84 2h4v2h-4zm4 0h4v2h-4zm80 0h4v2h-4zm32 0h4v2h-4zm4 0h4v2h-4zm84 4h4v2h-4z"/>
<path fill="#6092d3" d="M0 0m32 0h4v2h-4zm-8 6h4v2h-4zm-16 4h4v2h-4zm20 0h4v2h-4zm172 2h4v2h-4zm-160 4h4v2h-4zm16 0h4v2h-4zm-28 2h4v2h-4zm36 2h4v2h-4zm4 4h4v2h-4zm-4 2h4v2h-4zm-4 2h4v2h-4zm20 2h4v2h-4zm72 0h4v2h-4zm-72 4h4v2h-4zm24 6h4v2h-4zm8 0h4v2h-4zm108 0h4v2h-4zm-188 2h4v2h-4zm68 4h4v2h-4zm4 2h4v2h-4zm-32 2h4v2h-4zm32 0h4v2h-4zm64 2h4v2h-4zm24 0h4v2h-4zm-8 6h4v2h-4zm-4 2h4v2h-4zm-68 2h4v2h-4zm72 2h4v2h-4zm-68 4h4v2h-4zm56 0h4v2h-4zm-8 2h4v2h-4zm-8 2h4v2h-4zm4 0h4v2h-4zm56 2h4v2h-4zm-100 2h4v2h-4zm24 0h4v2h-4zm4 0h4v2h-4zm4 0h4v2h-4zm-24 4h4v2h-4zm20 2h4v2h-4zm-52 2h4v2h-4zm56 4h4v2h-4zm-28 2h4v2h-4zm12 0h4v2h-4zm20 0h4v2h-4zm-52 2h4v2h-4zm52 0h4v2h-4zm64 0h4v2h-4zm4 0h4v2h-4zm-100 2h4v2h-4zm24 0h4v2h-4zm-20 4h4v2h-4zm4 0h4v2h-4zm-28 2h4v2h-4zm32 4h4v2h-4zm-12 2h4v2h-4zm8 0h4v2h-4zm4 0h4v2h-4zm12 0h4v2h-4zm-40 8h4v2h-4z"/>
<path fill="#6ea0d8" d="M0 0m44 4h4v2h-4zm-24 2h4v2h-4zm28 0h4v2h-4zm-16 2h4v2h-4zm36 0h4v2h-4zm-56 2h4v2h-4zm48 0h4v2h-4zm108 2h4v2h-4zm-64 2h4v2h-4zm-68 6h4v2h-4zm36 8h4v2h-4zm-8 12h4v2h-4zm36 0h4v2h-4zm-52 8h4v2h-4zm20 0h4v2h-4zm132 4h4v2h-4zm-96 4h4v2h-4zm4 0h4v2h-4zm-44 2h4v2h-4zm112 4h4v2h-4zm-68 4h4v2h-4zm64 8h4v2h-4zm-12 6h4v2h-4zm-12 2h4v2h-4zm-12 2h4v2h-4zm20 2h4v2h-4zm-64 2h4v2h-4zm28 0h4v2h-4zm20 0h4v2h-4zm-44 4h4v2h-4zm24 0h4v2h-4zm-16 2h4v2h-4zm36 0h4v2h-4zm-28 14h4v2h-4zm16 10h4v2h-4z"/>
<path fill="#7badde" d="M0 0m52 2h4v2h-4zm-16 2h4v2h-4zm-12 6h4v2h-4zm28 2h4v2h-4zm12 0h4v2h-4zm-28 2h4v2h-4zm8 20h4v2h-4zm32 0h4v2h-4zm12 6h4v2h-4zm20 0h4v2h-4zm-16 2h4v2h-4zm92 4h4v2h-4zm-92 2h4v2h-4zm-40 2h4v2h-4zm136 2h4v2h-4zm-112 2h4v2h-4zm28 4h4v2h-4zm44 14h4v2h-4zm-36 2h4v2h-4zm56 2h4v2h-4zm-72 6h4v2h-4zm56 4h4v2h-4zm-56 2h4v2h-4zm20 2h4v2h-4zm0 2h4v2h-4zm-12 4h4v2h-4zm16 0h4v2h-4zm-16 4h4v2h-4zm20 2h4v2h-4zm0 2h4v2h-4zm0 4h4v2h-4zm0 4h4v2h-4zm-8 4h4v2h-4zm12 0h4v2h-4zm-8 2h4v2h-4z"/>
<path fill="#89bbe3" d="M0 0m28 0h4v2h-4zm0 2h4v2h-4zm12 4h4v2h-4zm0 4h4v2h-4zm12 6h4v2h-4zm8 2h4v2h-4zm-20 2h4v2h-4zm28 0h4v2h-4zm-20 2h4v2h-4zm24 0h4v2h-4zm8 6h4v2h-4zm-16 2h4v2h-4zm20 0h4v2h-4zm-24 6h4v2h-4zm40 6h4v2h-4zm-8 2h4v2h-4zm0 2h4v2h-4zm88 0h4v2h-4zm-92 6h4v2h-4zm12 0h4v2h-4zm0 4h4v2h-4zm-4 2h4v2h-4zm84 8h4v2h-4zm-68 6h4v2h-4zm56 0h4v2h-4zm-8 4h4v2h-4zm-8 2h4v2h-4zm8 4h4v2h-4zm-64 2h4v2h-4zm60 8h4v2h-4zm-32 2h4v2h-4zm8 0h4v2h-4zm4 2h4v2h-4zm-12 4h4v2h-4zm-12 2h4v2h-4zm0 2h4v2h-4zm4 0h4v2h-4zm4 0h4v2h-4zm4 10h4v2h-4z"/>
<path fill="#96c8e8" d="M0 0m40 0h4v2h-4zm-16 2h4v2h-4zm8 0h4v2h-4zm12 4h4v2h-4zm8 4h4v2h-4zm8 2h4v2h-4zm0 2h4v2h-4zm0 2h4v2h-4zm16 12h4v2h-4zm8 0h4v2h-4zm-16 2h4v2h-4zm16 10h4v2h-4zm12 0h4v2h-4zm-20 2h4v2h-4zm-4 16h4v2h-4zm36 4h4v2h-4zm-4 4h4v2h-4zm8 2h4v2h-4zm-24 2h4v2h-4zm12 0h4v2h-4zm76 0h4v2h-4zm-12 2h4v2h-4zm-8 2h4v2h-4zm-4 2h4v2h-4zm-40 4h4v2h-4zm4 0h4v2h-4zm48 0h4v2h-4zm-44 4h4v2h-4zm24 6h4v2h-4zm-32 2h4v2h-4zm12 0h4v2h-4zm20 0h4v2h-4zm-12 4h4v2h-4zm-28 2h4v2h-4zm8 8h4v2h-4zm12 0h4v2h-4zm-12 4h4v2h-4zm-4 2h4v2h-4zm20 2h4v2h-4zm-8 6h4v2h-4zm8 0h4v2h-4z"/>
<path fill="#a7d2ea" d="M0 0m40 2h4v2h-4zm-8 2h4v2h-4zm12 12h4v2h-4zm0 4h4v2h-4zm12 2h4v2h-4zm8 2h4v2h-4zm4 4h4v2h-4zm20 0h4v2h-4zm-4 10h4v2h-4zm12 6h4v2h-4zm0 4h4v2h-4zm0 2h4v2h-4zm100 2h4v2h-4zm-104 2h4v2h-4zm84 2h4v2h-4zm-100 2h4v2h-4zm4 2h4v2h-4zm8 4h4v2h-4zm20 10h4v2h-4zm4 2h4v2h-4zm-20 2h4v2h-4zm76 0h4v2h-4zm-48 2h4v2h-4zm28 0h4v2h-4zm8 0h4v2h-4zm-56 6h4v2h-4zm44 0h4v2h-4zm-32 26h4v2h-4z"/>
<path fill="#b8dcec" d="M0 0m36 0h4v2h-4zm-16 10h4v2h-4zm24 4h4v2h-4zm12 4h4v2h-4zm12 4h4v2h-4zm-8 4h4v2h-4zm-4 4h4v2h-4zm16 0h4v2h-4zm0 6h4v2h-4zm4 0h4v2h-4zm-16 2h4v2h-4zm32 2h4v2h-4zm-24 2h4v2h-4zm28 0h4v2h-4zm0 4h4v2h-4zm-20 6h4v2h-4zm96 4h4v2h-4zm0 10h4v2h-4zm-60 12h4v2h-4zm48 0h4v2h-4zm4 0h4v2h-4zm-60 8h4v2h-4zm32 6h4v2h-4zm-28 2h4v2h-4zm20 10h4v2h-4zm-8 12h4v2h-4z"/>
<path fill="#c9e5ed" d="M0 0m24 0h4v2h-4zm4 4h4v2h-4zm8 6h4v2h-4zm16 4h4v2h-4zm4 0h4v2h-4zm20 18h4v2h-4zm-12 2h4v2h-4zm24 4h4v2h-4zm-20 2h4v2h-4zm12 0h4v2h-4zm-4 10h4v2h-4zm24 0h4v2h-4zm-4 2h4v2h-4zm92 4h4v2h-4zm-120 2h4v2h-4zm36 2h4v2h-4zm0 4h4v2h-4zm76 0h4v2h-4zm-4 2h4v2h-4zm-68 2h4v2h-4zm68 0h4v2h-4zm-8 2h4v2h-4zm-76 2h4v2h-4zm20 12h4v2h-4zm36 2h4v2h-4zm-48 2h4v2h-4zm16 0h4v2h-4zm-8 2h4v2h-4zm-4 2h4v2h-4zm36 4h4v2h-4zm-20 4h4v2h-4zm0 2h4v2h-4z"/>
<path fill="#daefef" d="M0 0m44 2h4v2h-4zm-12 8h4v2h-4zm16 2h4v2h-4zm-8 2h4v2h-4zm8 0h4v2h-4zm4 8h4v2h-4zm8 10h4v2h-4zm24 10h4v2h-4zm-4 6h4v2h-4zm12 4h4v2h-4zm8 8h4v2h-4zm76 4h4v2h-4zm-84 10h4v2h-4zm16 10h4v2h-4zm8 0h4v2h-4zm24 2h4v2h-4zm4 10h4v2h-4zm-28 4h4v2h-4zm0 10h4v2h-4z"/>
<path fill="#e6f2e3" d="M0 0m48 2h4v2h-4zm-8 2h4v2h-4zm12 4h4v2h-4zm-4 2h4v2h-4zm8 2h4v2h-4zm-4 14h4v2h-4zm16 10h4v2h-4zm8 2h4v2h-4zm-4 8h4v2h-4zm24 8h4v2h-4zm-8 8h4v2h-4zm92 0h4v2h-4zm4 0h4v2h-4zm-76 10h4v2h-4zm68 0h4v2h-4zm-80 2h4v2h-4zm56 14h4v2h-4zm4 0h4v2h-4zm-36 22h4v2h-4zm4 8h4v2h-4zm0 2h4v2h-4z"/>
<path fill="#eff2cd" d="M0 0m36 2h4v2h-4zm-4 4h4v2h-4zm8 2h4v2h-4zm8 8h4v2h-4zm-4 2h4v2h-4zm4 0h4v2h-4zm12 2h4v2h-4zm4 2h4v2h-4zm-8 4h4v2h-4zm0 2h4v2h-4zm16 4h4v2h-4zm12 18h4v2h-4zm8 6h4v2h-4zm-12 2h4v2h-4zm24 4h4v2h-4zm-16 4h4v2h-4zm24 20h4v2h-4zm-12 4h4v2h-4zm16 8h4v2h-4zm0 8h4v2h-4zm0 6h4v2h-4zm0 2h4v2h-4z"/>
<path fill="#f9f1b7" d="M0 0m36 6h4v2h-4zm12 2h4v2h-4zm12 14h4v2h-4zm-8 2h4v2h-4zm12 8h4v2h-4zm8 2h4v2h-4zm12 12h4v2h-4zm8 4h4v2h-4zm-12 2h4v2h-4zm8 2h4v2h-4zm-8 2h4v2h-4zm28 14h4v2h-4zm-12 8h4v2h-4zm8 10h4v2h-4zm8 0h4v2h-4zm0 2h4v2h-4z"/>
<path fill="#feeaa2" d="M0 0m28 6h4v2h-4zm16 4h4v2h-4zm4 10h4v2h-4zm4 0h4v2h-4zm8 4h4v2h-4zm0 6h4v2h-4zm24 18h4v2h-4zm16 10h4v2h-4zm-8 4h4v2h-4zm-4 6h4v2h-4zm76 6h4v2h-4zm-56 6h4v2h-4zm0 18h4v2h-4z"/>
<path fill="#fdd990" d="M0 0m80 38h4v2h-4zm-8 4h4v2h-4zm16 6h4v2h-4zm12 16h4v2h-4zm0 10h4v2h-4zm8 18h4v2h-4zm4 2h4v2h-4zm4 2h4v2h-4zm-4 2h4v2h-4z"/>
<path fill="#fcc97d" d="M0 0m36 12h4v2h-4zm8 0h4v2h-4zm20 26h4v2h-4zm24 8h4v2h-4zm-12 2h4v2h-4zm4 6h4v2h-4zm8 2h4v2h-4zm20 44h4v2h-4zm12 12h4v2h-4zm4 4h4v2h-4z"/>
<path fill="#fbb96a" d="M0 0m56 20h4v2h-4zm12 18h4v2h-4zm8 2h4v2h-4zm4 2h4v2h-4zm16 14h4v2h-4zm92 2h4v2h-4zm-4 2h4v2h-4zm-88 6h4v2h-4zm4 2h4v2h-4zm4 4h4v2h-4zm4 6h4v2h-4zm-12 2h4v2h-4zm12 2h4v2h-4zm0 4h4v2h-4zm12 22h4v2h-4z"/>
<path fill="#f8a75b" d="M0 0m56 24h4v2h-4zm8 12h4v2h-4zm8 2h4v2h-4zm0 2h4v2h-4zm0 4h4v2h-4zm8 0h4v2h-4zm0 6h4v2h-4zm8 0h4v2h-4zm-4 4h4v2h-4zm12 10h4v2h-4zm8 12h4v2h-4z"/>
<path fill="#f49352" d="M0 0m44 8h4v2h-4zm44 36h4v2h-4zm-4 8h4v2h-4zm4 8h4v2h-4zm4 10h4v2h-4zm80 0h4v2h-4zm-64 6h4v2h-4zm-4 14h4v2h-4zm12 12h4v2h-4z"/>
<path fill="#f07f48" d="M0 0m68 32h4v2h-4zm0 2h4v2h-4zm16 10h4v2h-4zm12 16h4v2h-4zm72 14h4v2h-4zm-68 6h4v2h-4zm0 4h4v2h-4z"/>
<path fill="#ec6c3f" d="M0 0m40 12h4v2h-4zm52 46h4v2h-4zm12 12h4v2h-4zm-8 6h4v2h-4zm4 6h4v2h-4zm12 18h4v2h-4zm4 8h4v2h-4z"/>
<path fill="#e85836" d="M0 0m76 44h4v2h-4zm8 14h4v2h-4zm12 4h4v2h-4zm-4 4h4v2h-4zm12 14h4v2h-4z"/>
<path fill="#e04a30" d="M0 0m104 74h4v2h-4zm0 8h4v2h-4zm4 14h4v2h-4zm4 0h4v2h-4z"/>
<path fill="#d63f2e" d="M0 0m80 46h4v2h-4zm4 14h4v2h-4zm16 6h4v2h-4zm4 2h4v2h-4zm16 46h4v2h-4z"/>
<path fill="#cc342b" d="M0 0m96 72h4v2h-4zm8 12h4v2h-4z"/>
<path fill="#c32928" d="M0 0m88 58h4v2h-4zm8 12h4v2h-4z"/>
<path fill="#b91f26" d="M0 0m100 62h4v2h-4zm-8 2h4v2h-4zm80 8h4v2h-4z"/>
<path fill="#af1423" d="M0 0m76 46h4v2h-4zm8 10h4v2h-4zm8 4h4v2h-4zm0 8h4v2h-4zm4 0h4v2h-4zm4 4h4v2h-4zm0 4h4v2h-4zm0 2h4v2h-4zm4 0h4v2h-4z"/>
</g>
<line x1="426.5" y1="34.0" x2="426.5" y2="155.0" stroke="#fff" stroke-width="1"/>
<polyline points="562.0,60.6 559.9,61.1 557.7,61.6 555.6,62.1 553.5,62.6 551.4,63.2 549.3,63.8 547.2,64.4 545.1,65.0 543.1,65.6 541.0,66.3 539.0,67.0 536.9,67.7 534.9,68.5 532.9,69.2 530.9,70.0 528.9,70.8 526.9,71.7 524.9,72.5 523.0,73.4 521.0,74.3 519.1,75.2 517.1,76.2 515.2,77.1 513.3,78.1 511.4,79.1 509.6,80.1 507.7,81.2 505.9,82.3 504.0,83.4 502.2,84.5 500.4,85.6 498.6,86.7 496.8,87.9 495.0,89.1 493.3,90.3 491.5,91.6 489.8,92.8 488.1,94.1 486.4,95.4 484.7,96.7 483.0,98.0 481.4,99.4 479.7,100.7 478.1,102.1 476.5,103.5 474.9,104.9 473.3,106.4 471.8,107.8 470.2,109.3 468.7,110.8 467.2,112.3 465.7,113.8 464.2,115.4 462.7,116.9 461.3,118.5 459.8,120.1 458.4,121.7 457.0,123.3 455.6,125.0 454.3,126.6 452.9,128.3 451.6,130.0 450.3,131.7 449.0,133.4 447.7,135.2 446.5,136.9 445.2,138.7 444.0,140.5 442.8,142.3 441.7,144.1 440.5,145.9 439.4,147.8 438.2,149.6 437.1,151.5 436.1,153.4 435.0,155.3 434.0,157.2 432.9,159.1 431.9,161.1" fill="none" stroke="#a8a8b8" stroke-width="1.0" stroke-linejoin="round"/>
<polyline points="304.3,29.9 306.1,31.2 308.0,32.6 309.9,33.9 311.7,35.3 313.5,36.6 315.4,38.0 317.2,39.4 319.0,40.8 320.8,42.2 322.6,43.6 324.4,45.0 326.2,46.4 328.0,47.8 329.8,49.2 331.5,50.7 333.3,52.1 335.0,53.6 336.8,55.1 338.5,56.5 340.2,58.0 341.9,59.5 343.6,61.0 345.3,62.5 347.0,64.1 348.7,65.6 350.3,67.2 352.0,68.7 353.6,70.3 355.2,71.8 356.8,73.4 358.4,75.0 360.0,76.6 361.6,78.3 363.2,79.9 364.7,81.5 366.3,83.2 367.8,84.8 369.3,86.5 370.8,88.2 372.3,89.9 373.8,91.6 375.2,93.3 376.7,95.0 378.1,96.8 379.5,98.5 380.9,100.3 382.3,102.1 383.7,103.8 385.1,105.6 386.4,107.4 387.8,109.3 389.1,111.1 390.4,112.9 391.7,114.8 393.0,116.6 394.3,118.5 395.5,120.4 396.8,122.3 398.0,124.2 399.2,126.1 400.4,128.0 401.6,129.9 402.8,131.9 404.0,133.8 405.2,135.8 406.3,137.7 407.5,139.7 408.6,141.7 409.7,143.7 410.8,145.7 411.9,147.7 413.0,149.7 414.1,151.7 415.1,153.8 416.2,155.8 417.2,157.8 418.2,159.9 419.3,162.0 420.3,164.0" fill="none" stroke="#a8a8b8" stroke-width="1.0" stroke-linejoin="round"/>
<polyline points="290.1,41.0 292.3,41.9 294.4,42.9 296.5,43.9 298.7,44.8 300.8,45.8 302.9,46.9 305.0,47.9 307.1,48.9 309.1,50.0 311.2,51.1 313.3,52.2 315.3,53.3 317.3,54.4 319.3,55.6 321.4,56.8 323.4,57.9 325.3,59.1 327.3,60.4 329.3,61.6 331.2,62.8 333.2,64.1 335.1,65.4 337.0,66.7 338.9,68.0 340.8,69.3 342.7,70.7 344.5,72.0 346.4,73.4 348.2,74.8 350.1,76.2 351.9,77.6 353.7,79.0 355.5,80.5 357.2,82.0 359.0,83.5 360.7,85.0 362.5,86.5 364.2,88.0 365.9,89.5 367.6,91.1 369.3,92.7 370.9,94.3 372.6,95.9 374.2,97.5 375.8,99.1 377.4,100.8 379.0,102.5 380.6,104.1 382.1,105.8 383.7,107.6 385.2,109.3 386.7,111.0 388.2,112.8 389.7,114.5 391.1,116.3 392.6,118.1 394.0,119.9 395.4,121.8 396.8,123.6 398.2,125.5 399.6,127.3 400.9,129.2 402.2,131.1 403.6,133.0 404.9,135.0 406.1,136.9 407.4,138.9 408.6,140.8 409.9,142.8 411.1,144.8 412.3,146.8 413.4,148.9 414.6,150.9 415.7,153.0 416.8,155.0 417.9,157.1 419.0,159.2 420.1,161.3 421.1,163.4" fill="none" stroke="#16e6ee" stroke-width="1.8" stroke-linejoin="round"/>
<polyline points="562.3,41.4 560.0,42.1 557.7,42.9 555.5,43.6 553.3,44.4 551.1,45.2 548.9,46.1 546.7,47.0 544.6,47.9 542.4,48.8 540.3,49.8 538.2,50.8 536.1,51.8 534.0,52.9 532.0,53.9 529.9,55.0 527.9,56.2 525.9,57.3 523.9,58.5 521.9,59.7 520.0,60.9 518.0,62.2 516.1,63.4 514.2,64.7 512.3,66.1 510.4,67.4 508.5,68.8 506.7,70.2 504.8,71.6 503.0,73.0 501.2,74.4 499.4,75.9 497.6,77.4 495.9,78.9 494.1,80.4 492.4,82.0 490.7,83.5 489.0,85.1 487.3,86.7 485.6,88.3 484.0,90.0 482.3,91.6 480.7,93.3 479.1,95.0 477.5,96.7 475.9,98.4 474.3,100.1 472.8,101.9 471.3,103.6 469.7,105.4 468.2,107.2 466.7,109.0 465.2,110.8 463.8,112.6 462.3,114.4 460.9,116.3 459.5,118.1 458.1,120.0 456.7,121.9 455.3,123.7 453.9,125.6 452.6,127.5 451.2,129.4 449.9,131.4 448.6,133.3 447.3,135.2 446.0,137.2 444.8,139.1 443.5,141.1 442.3,143.0 441.0,145.0 439.8,146.9 438.6,148.9 437.4,150.9 436.3,152.9 435.1,154.9 434.0,156.9 432.8,158.9 431.7,160.9 430.6,162.9" fill="none" stroke="#16e6ee" stroke-width="1.8" stroke-linejoin="round"/>
<polyline points="306.3,29.3 308.1,30.6 310.0,32.0 311.9,33.3 313.7,34.7 315.5,36.0 317.4,37.4 319.2,38.8 321.0,40.2 322.8,41.6 324.6,43.0 326.4,44.4 328.2,45.8 330.0,47.2 331.8,48.6 333.5,50.1 335.3,51.5 337.0,53.0 338.8,54.5 340.5,55.9 342.2,57.4 343.9,58.9 345.6,60.4 347.3,61.9 349.0,63.5 350.7,65.0 352.3,66.6 354.0,68.1 355.6,69.7 357.2,71.2 358.8,72.8 360.4,74.4 362.0,76.0 363.6,77.7 365.2,79.3 366.7,80.9 368.3,82.6 369.8,84.2 371.3,85.9 372.8,87.6 374.3,89.3 375.8,91.0 377.2,92.7 378.7,94.4 380.1,96.2 381.5,97.9 382.9,99.7 384.3,101.5 385.7,103.2 387.1,105.0 388.4,106.8 389.8,108.7 391.1,110.5 392.4,112.3 393.7,114.2 395.0,116.0 396.3,117.9 397.5,119.8 398.8,121.7 400.0,123.6 401.2,125.5 402.4,127.4 403.6,129.3 404.8,131.3 406.0,133.2 407.2,135.2 408.3,137.1 409.5,139.1 410.6,141.1 411.7,143.1 412.8,145.1 413.9,147.1 415.0,149.1 416.1,151.1 417.1,153.2 418.2,155.2 419.2,157.2 420.2,159.3 421.3,161.4 422.3,163.4" fill="none" stroke="#111" stroke-width="2.0" stroke-linejoin="round"/>
<polyline points="562.6,62.6 560.5,63.1 558.3,63.6 556.2,64.1 554.1,64.6 552.0,65.2 549.9,65.8 547.8,66.4 545.7,67.0 543.7,67.6 541.6,68.3 539.6,69.0 537.5,69.7 535.5,70.5 533.5,71.2 531.5,72.0 529.5,72.8 527.5,73.7 525.5,74.5 523.6,75.4 521.6,76.3 519.7,77.2 517.7,78.2 515.8,79.1 513.9,80.1 512.0,81.1 510.2,82.1 508.3,83.2 506.5,84.3 504.6,85.4 502.8,86.5 501.0,87.6 499.2,88.7 497.4,89.9 495.6,91.1 493.9,92.3 492.1,93.6 490.4,94.8 488.7,96.1 487.0,97.4 485.3,98.7 483.6,100.0 482.0,101.4 480.3,102.7 478.7,104.1 477.1,105.5 475.5,106.9 473.9,108.4 472.4,109.8 470.8,111.3 469.3,112.8 467.8,114.3 466.3,115.8 464.8,117.4 463.3,118.9 461.9,120.5 460.4,122.1 459.0,123.7 457.6,125.3 456.2,127.0 454.9,128.6 453.5,130.3 452.2,132.0 450.9,133.7 449.6,135.4 448.3,137.2 447.1,138.9 445.8,140.7 444.6,142.5 443.4,144.3 442.3,146.1 441.1,147.9 440.0,149.8 438.8,151.6 437.7,153.5 436.7,155.4 435.6,157.3 434.6,159.2 433.5,161.1 432.5,163.1" fill="none" stroke="#111" stroke-width="2.0" stroke-linejoin="round"/>
<text x="426.50" y="48.40" font-size="11.2" fill="#fff" text-anchor="middle" font-weight="normal" font-style="normal" stroke="#fff" stroke-width="0.3">9/13 16:40 -- 16:50</text>
<text x="426.00" y="62.00" font-size="11" fill="#fff" text-anchor="middle" font-weight="normal" font-style="normal" stroke="#fff" stroke-width="0.3">Segment 1</text>
<text x="303.50" y="148.80" font-size="10.5" fill="#fff" text-anchor="start" font-weight="normal" font-style="normal" stroke="#fff" stroke-width="0.3">b)</text>
<text x="330.00" y="138.00" font-size="11" fill="#fff" text-anchor="start" font-weight="normal" font-style="normal" stroke="#fff" stroke-width="0.3">Seaward</text>
<line x1="334" y1="143" x2="375" y2="143" stroke="#fff" stroke-width="1.7"/>
<path d="M328,142.2 L338,142.2 L336.2,144.1 Q336,146 337.6,148.4 Q333,145.2 328,143.9 Z" fill="#fff"/>
<text x="476.50" y="138.40" font-size="11" fill="#fff" text-anchor="start" font-weight="normal" font-style="normal" stroke="#fff" stroke-width="0.3">Landward</text>
<line x1="477" y1="143" x2="518" y2="143" stroke="#fff" stroke-width="1.7"/>
<path d="M524.5,142.2 L514.5,142.2 L516.3,144.1 Q516.5,146 514.9,148.4 Q519.5,145.2 524.5,143.9 Z" fill="#fff"/>
</g>
<g clip-path="url(#clipC)">
<rect x="298.5" y="162.0" width="255.5" height="120.60000000000002" fill="rgb(48, 57, 164)"/>
<g transform="translate(298.5,162.0)">
<path fill="#323ca7" d="M0 0m76 0h4v2h-4zm4 0h4v2h-4zm4 0h4v2h-4zm32 0h4v2h-4zm4 0h4v2h-4zm80 0h4v2h-4zm24 0h4v2h-4zm-136 2h4v2h-4zm8 0h4v2h-4zm12 0h4v2h-4zm92 0h4v2h-4zm-184 2h4v2h-4zm68 0h4v2h-4zm4 0h4v2h-4zm56 0h4v2h-4zm64 0h4v2h-4zm12 0h4v2h-4zm12 0h4v2h-4zm-144 2h4v2h-4zm68 0h4v2h-4zm80 0h4v2h-4zm8 0h4v2h-4zm-144 2h4v2h-4zm4 0h4v2h-4zm8 0h4v2h-4zm12 0h4v2h-4zm24 0h4v2h-4zm8 0h4v2h-4zm-140 2h4v2h-4zm68 0h4v2h-4zm12 0h4v2h-4zm16 0h4v2h-4zm72 0h4v2h-4zm20 0h4v2h-4zm36 0h4v2h-4zm-96 2h4v2h-4zm4 0h4v2h-4zm20 0h4v2h-4zm4 0h4v2h-4zm8 0h4v2h-4zm4 0h4v2h-4zm28 0h4v2h-4zm4 0h4v2h-4zm-108 2h4v2h-4zm8 0h4v2h-4zm64 0h4v2h-4zm40 0h4v2h-4zm8 0h4v2h-4zm-208 2h4v2h-4zm72 0h4v2h-4zm32 0h4v2h-4zm60 0h4v2h-4zm60 0h4v2h-4zm-244 2h4v2h-4zm4 0h4v2h-4zm4 0h4v2h-4zm100 0h4v2h-4zm12 0h4v2h-4zm48 0h4v2h-4zm4 0h4v2h-4zm12 0h4v2h-4zm16 0h4v2h-4zm4 0h4v2h-4zm20 0h4v2h-4zm8 0h4v2h-4zm12 0h4v2h-4zm-144 2h4v2h-4zm4 0h4v2h-4zm4 0h4v2h-4zm28 0h4v2h-4zm56 0h4v2h-4zm8 0h4v2h-4zm24 0h4v2h-4zm12 0h4v2h-4zm-236 2h4v2h-4zm4 0h4v2h-4zm96 0h4v2h-4zm88 0h4v2h-4zm16 0h4v2h-4zm20 0h4v2h-4zm-208 2h4v2h-4zm8 0h4v2h-4zm20 0h4v2h-4zm56 0h4v2h-4zm48 0h4v2h-4zm8 0h4v2h-4zm56 0h4v2h-4zm12 0h4v2h-4zm24 0h4v2h-4zm4 0h4v2h-4zm-248 2h4v2h-4zm16 0h4v2h-4zm4 0h4v2h-4zm24 0h4v2h-4zm92 0h4v2h-4zm72 0h4v2h-4zm8 0h4v2h-4zm28 0h4v2h-4zm-224 2h4v2h-4zm96 0h4v2h-4zm40 0h4v2h-4zm-148 2h4v2h-4zm20 0h4v2h-4zm72 0h4v2h-4zm4 0h4v2h-4zm20 0h4v2h-4zm40 0h4v2h-4zm12 0h4v2h-4zm52 0h4v2h-4zm-224 2h4v2h-4zm4 0h4v2h-4zm4 0h4v2h-4zm148 0h4v2h-4zm12 0h4v2h-4zm48 0h4v2h-4zm8 0h4v2h-4zm4 0h4v2h-4zm4 0h4v2h-4zm4 0h4v2h-4zm-124 2h4v2h-4zm24 0h4v2h-4zm4 0h4v2h-4zm8 0h4v2h-4zm24 0h4v2h-4zm4 0h4v2h-4zm52 0h4v2h-4zm12 0h4v2h-4zm4 0h4v2h-4zm-72 2h4v2h-4zm52 0h4v2h-4zm8 0h4v2h-4zm12 0h4v2h-4zm-224 2h4v2h-4zm24 0h4v2h-4zm68 0h4v2h-4zm48 0h4v2h-4zm28 0h4v2h-4zm4 0h4v2h-4zm16 0h4v2h-4zm-100 2h4v2h-4zm4 0h4v2h-4zm28 0h4v2h-4zm76 0h4v2h-4zm4 0h4v2h-4zm-196 2h4v2h-4zm16 0h4v2h-4zm72 0h4v2h-4zm100 0h4v2h-4zm16 0h4v2h-4zm8 0h4v2h-4zm-244 2h4v2h-4zm28 0h4v2h-4zm8 0h4v2h-4zm80 0h4v2h-4zm4 0h4v2h-4zm52 0h4v2h-4zm4 0h4v2h-4zm40 0h4v2h-4zm-80 2h4v2h-4zm8 0h4v2h-4zm68 0h4v2h-4zm4 0h4v2h-4zm-92 2h4v2h-4zm88 0h4v2h-4zm4 0h4v2h-4zm-160 2h4v2h-4zm76 0h4v2h-4zm120 0h4v2h-4zm-228 2h4v2h-4zm132 0h4v2h-4zm12 0h4v2h-4zm32 0h4v2h-4zm4 0h4v2h-4zm4 0h4v2h-4zm20 0h4v2h-4zm8 0h4v2h-4zm8 0h4v2h-4zm-244 2h4v2h-4zm36 0h4v2h-4zm4 0h4v2h-4zm84 0h4v2h-4zm4 0h4v2h-4zm4 0h4v2h-4zm4 0h4v2h-4zm4 0h4v2h-4zm64 0h4v2h-4zm4 0h4v2h-4zm16 0h4v2h-4zm-224 2h4v2h-4zm16 0h4v2h-4zm16 0h4v2h-4zm104 0h4v2h-4zm4 0h4v2h-4zm4 0h4v2h-4zm52 0h4v2h-4zm4 0h4v2h-4zm4 0h4v2h-4zm8 0h4v2h-4zm4 0h4v2h-4zm8 0h4v2h-4zm16 0h4v2h-4zm4 0h4v2h-4zm-232 2h4v2h-4zm32 0h4v2h-4zm28 0h4v2h-4zm180 0h4v2h-4zm-224 2h4v2h-4zm16 0h4v2h-4zm4 0h4v2h-4zm4 0h4v2h-4zm4 0h4v2h-4zm148 0h4v2h-4zm-180 2h4v2h-4zm12 0h4v2h-4zm24 0h4v2h-4zm4 0h4v2h-4zm76 0h4v2h-4zm76 0h4v2h-4zm-216 2h4v2h-4zm4 0h4v2h-4zm4 0h4v2h-4zm4 0h4v2h-4zm16 0h4v2h-4zm12 0h4v2h-4zm8 0h4v2h-4zm148 0h4v2h-4zm-188 2h4v2h-4zm52 0h4v2h-4zm132 0h4v2h-4zm4 0h4v2h-4zm-144 2h4v2h-4zm4 0h4v2h-4zm128 0h4v2h-4zm8 0h4v2h-4zm4 0h4v2h-4zm52 0h4v2h-4zm-236 2h4v2h-4zm4 0h4v2h-4zm32 0h4v2h-4zm8 0h4v2h-4zm12 0h4v2h-4zm12 0h4v2h-4zm156 0h4v2h-4zm16 0h4v2h-4zm-212 2h4v2h-4zm20 0h4v2h-4zm4 0h4v2h-4zm-28 2h4v2h-4zm4 0h4v2h-4zm4 0h4v2h-4zm8 0h4v2h-4zm4 0h4v2h-4zm4 0h4v2h-4zm4 0h4v2h-4zm4 0h4v2h-4zm140 0h4v2h-4zm12 0h4v2h-4zm-152 2h4v2h-4zm4 0h4v2h-4zm128 0h4v2h-4zm44 0h4v2h-4zm-240 2h4v2h-4zm4 0h4v2h-4zm224 0h4v2h-4zm-232 2h4v2h-4zm40 0h4v2h-4zm24 0h4v2h-4zm116 0h4v2h-4zm32 0h4v2h-4zm-208 2h4v2h-4zm8 0h4v2h-4zm4 0h4v2h-4zm16 0h4v2h-4zm36 0h4v2h-4zm132 0h4v2h-4zm4 0h4v2h-4zm-200 2h4v2h-4zm8 0h4v2h-4zm8 0h4v2h-4zm4 0h4v2h-4zm4 0h4v2h-4zm12 0h4v2h-4zm132 0h4v2h-4zm4 0h4v2h-4zm32 0h4v2h-4zm4 0h4v2h-4zm4 0h4v2h-4zm12 0h4v2h-4zm-196 2h4v2h-4zm176 0h4v2h-4zm-208 2h4v2h-4zm48 0h4v2h-4zm172 0h4v2h-4zm8 0h4v2h-4zm4 0h4v2h-4zm4 0h4v2h-4zm12 0h4v2h-4zm-180 2h4v2h-4zm104 0h4v2h-4zm4 0h4v2h-4zm40 0h4v2h-4zm20 0h4v2h-4zm-180 2h4v2h-4zm8 0h4v2h-4zm4 0h4v2h-4zm32 0h4v2h-4zm128 0h4v2h-4zm8 0h4v2h-4zm12 0h4v2h-4zm-192 2h4v2h-4zm12 0h4v2h-4zm96 0h4v2h-4zm20 0h4v2h-4zm24 0h4v2h-4zm20 0h4v2h-4zm20 0h4v2h-4zm4 0h4v2h-4zm-252 2h4v2h-4zm84 0h4v2h-4zm76 0h4v2h-4zm8 0h4v2h-4zm44 0h4v2h-4zm8 0h4v2h-4zm4 0h4v2h-4zm-224 2h4v2h-4zm36 0h4v2h-4zm40 0h4v2h-4zm4 0h4v2h-4zm4 0h4v2h-4zm72 0h4v2h-4zm20 0h4v2h-4zm8 0h4v2h-4zm16 0h4v2h-4zm-200 2h4v2h-4zm12 0h4v2h-4zm56 0h4v2h-4zm96 0h4v2h-4zm4 0h4v2h-4zm36 0h4v2h-4zm36 0h4v2h-4zm-164 2h4v2h-4zm72 0h4v2h-4zm4 0h4v2h-4zm4 0h4v2h-4zm4 0h4v2h-4zm4 0h4v2h-4zm4 0h4v2h-4zm4 0h4v2h-4zm8 0h4v2h-4zm-140 2h4v2h-4zm52 0h4v2h-4zm60 0h4v2h-4zm84 0h4v2h-4zm8 0h4v2h-4zm-244 2h4v2h-4zm16 0h4v2h-4zm36 0h4v2h-4zm12 0h4v2h-4zm120 0h4v2h-4zm60 0h4v2h-4zm-240 2h4v2h-4zm20 0h4v2h-4zm4 0h4v2h-4zm4 0h4v2h-4zm40 0h4v2h-4zm8 0h4v2h-4zm84 0h4v2h-4zm12 0h4v2h-4zm12 0h4v2h-4zm28 0h4v2h-4zm-212 2h4v2h-4zm52 0h4v2h-4zm124 0h4v2h-4zm20 0h4v2h-4zm-140 2h4v2h-4zm4 0h4v2h-4zm16 0h4v2h-4zm16 0h4v2h-4zm88 0h4v2h-4zm4 0h4v2h-4zm4 0h4v2h-4zm4 0h4v2h-4zm16 0h4v2h-4zm4 0h4v2h-4zm8 0h4v2h-4zm20 0h4v2h-4zm4 0h4v2h-4zm4 0h4v2h-4zm-232 2h4v2h-4zm4 0h4v2h-4zm192 0h4v2h-4zm24 0h4v2h-4zm8 0h4v2h-4zm-248 2h4v2h-4zm4 0h4v2h-4zm4 0h4v2h-4zm20 0h4v2h-4zm112 0h4v2h-4zm-140 2h4v2h-4zm20 0h4v2h-4zm4 0h4v2h-4zm8 0h4v2h-4zm8 0h4v2h-4zm40 0h4v2h-4zm8 0h4v2h-4zm8 0h4v2h-4zm52 0h4v2h-4zm48 0h4v2h-4zm40 0h4v2h-4zm4 0h4v2h-4zm4 0h4v2h-4zm-8 2h4v2h-4z"/>
<path fill="#333faa" d="M0 0m124 0h4v2h-4zm48 0h4v2h-4zm40 0h4v2h-4zm36 0h4v2h-4zm-236 2h4v2h-4zm4 0h4v2h-4zm68 0h4v2h-4zm20 0h4v2h-4zm60 0h4v2h-4zm4 0h4v2h-4zm28 0h4v2h-4zm-124 2h4v2h-4zm4 0h4v2h-4zm4 0h4v2h-4zm56 0h4v2h-4zm4 0h4v2h-4zm16 0h4v2h-4zm84 0h4v2h-4zm-112 2h4v2h-4zm32 0h4v2h-4zm36 0h4v2h-4zm36 0h4v2h-4zm-224 2h4v2h-4zm4 0h4v2h-4zm84 0h4v2h-4zm56 0h4v2h-4zm32 0h4v2h-4zm16 0h4v2h-4zm-196 2h4v2h-4zm24 0h4v2h-4zm72 0h4v2h-4zm16 0h4v2h-4zm8 0h4v2h-4zm28 0h4v2h-4zm24 0h4v2h-4zm16 0h4v2h-4zm28 0h4v2h-4zm-80 2h4v2h-4zm-40 2h4v2h-4zm28 0h4v2h-4zm44 0h4v2h-4zm24 0h4v2h-4zm4 0h4v2h-4zm12 0h4v2h-4zm28 0h4v2h-4zm-224 2h4v2h-4zm128 0h4v2h-4zm36 0h4v2h-4zm-76 2h4v2h-4zm20 0h4v2h-4zm24 0h4v2h-4zm48 0h4v2h-4zm12 0h4v2h-4zm28 0h4v2h-4zm4 0h4v2h-4zm12 0h4v2h-4zm-216 2h4v2h-4zm52 0h4v2h-4zm56 0h4v2h-4zm52 0h4v2h-4zm32 0h4v2h-4zm-136 2h4v2h-4zm20 0h4v2h-4zm96 0h4v2h-4zm32 0h4v2h-4zm-228 2h4v2h-4zm8 0h4v2h-4zm16 0h4v2h-4zm60 0h4v2h-4zm8 0h4v2h-4zm24 0h4v2h-4zm4 0h4v2h-4zm4 0h4v2h-4zm16 0h4v2h-4zm56 0h4v2h-4zm8 0h4v2h-4zm4 0h4v2h-4zm-176 2h4v2h-4zm44 0h4v2h-4zm48 0h4v2h-4zm80 0h4v2h-4zm8 0h4v2h-4zm20 0h4v2h-4zm-236 2h4v2h-4zm12 0h4v2h-4zm124 0h4v2h-4zm52 0h4v2h-4zm-160 2h4v2h-4zm60 0h4v2h-4zm60 0h4v2h-4zm16 0h4v2h-4zm44 0h4v2h-4zm36 0h4v2h-4zm-116 2h4v2h-4zm16 0h4v2h-4zm64 0h4v2h-4zm-208 2h4v2h-4zm104 0h4v2h-4zm16 0h4v2h-4zm12 0h4v2h-4zm12 0h4v2h-4zm8 0h4v2h-4zm60 0h4v2h-4zm4 0h4v2h-4zm-180 2h4v2h-4zm132 0h4v2h-4zm12 0h4v2h-4zm48 0h4v2h-4zm8 0h4v2h-4zm-224 2h4v2h-4zm4 0h4v2h-4zm92 0h4v2h-4zm8 0h4v2h-4zm36 0h4v2h-4zm52 0h4v2h-4zm8 0h4v2h-4zm4 0h4v2h-4zm16 0h4v2h-4zm-200 2h4v2h-4zm8 0h4v2h-4zm64 0h4v2h-4zm28 0h4v2h-4zm28 0h4v2h-4zm4 0h4v2h-4zm8 0h4v2h-4zm24 0h4v2h-4zm16 0h4v2h-4zm-196 2h4v2h-4zm12 0h4v2h-4zm24 0h4v2h-4zm76 0h4v2h-4zm4 0h4v2h-4zm88 0h4v2h-4zm12 0h4v2h-4zm8 0h4v2h-4zm-208 2h4v2h-4zm72 0h4v2h-4zm32 0h4v2h-4zm20 0h4v2h-4zm4 0h4v2h-4zm44 0h4v2h-4zm-200 2h4v2h-4zm8 0h4v2h-4zm44 0h4v2h-4zm60 0h4v2h-4zm96 0h4v2h-4zm12 0h4v2h-4zm-232 2h4v2h-4zm8 0h4v2h-4zm108 0h4v2h-4zm16 0h4v2h-4zm104 0h4v2h-4zm-192 2h4v2h-4zm4 0h4v2h-4zm88 0h4v2h-4zm48 0h4v2h-4zm52 0h4v2h-4zm-192 2h4v2h-4zm104 0h4v2h-4zm4 0h4v2h-4zm68 0h4v2h-4zm-212 2h4v2h-4zm16 0h4v2h-4zm8 0h4v2h-4zm112 0h4v2h-4zm56 0h4v2h-4zm28 0h4v2h-4zm-216 2h4v2h-4zm136 0h4v2h-4zm84 0h4v2h-4zm4 0h4v2h-4zm-228 2h4v2h-4zm8 0h4v2h-4zm208 0h4v2h-4zm-192 2h4v2h-4zm28 0h4v2h-4zm4 0h4v2h-4zm64 0h4v2h-4zm72 0h4v2h-4zm8 0h4v2h-4zm20 0h4v2h-4zm16 0h4v2h-4zm-224 2h4v2h-4zm192 0h4v2h-4zm-196 2h4v2h-4zm28 0h4v2h-4zm148 0h4v2h-4zm8 0h4v2h-4zm4 0h4v2h-4zm12 0h4v2h-4zm-200 2h4v2h-4zm168 0h4v2h-4zm4 0h4v2h-4zm12 0h4v2h-4zm-152 2h4v2h-4zm108 0h4v2h-4zm64 0h4v2h-4zm12 0h4v2h-4zm4 0h4v2h-4zm-204 2h4v2h-4zm28 0h4v2h-4zm-16 2h4v2h-4zm164 0h4v2h-4zm36 0h4v2h-4zm-224 2h4v2h-4zm28 0h4v2h-4zm-8 2h4v2h-4zm140 0h4v2h-4zm72 0h4v2h-4zm-240 2h4v2h-4zm16 0h4v2h-4zm28 0h4v2h-4zm24 0h4v2h-4zm100 0h4v2h-4zm12 0h4v2h-4zm-168 2h4v2h-4zm44 0h4v2h-4zm124 0h4v2h-4zm36 0h4v2h-4zm-228 2h4v2h-4zm8 0h4v2h-4zm12 0h4v2h-4zm20 0h4v2h-4zm32 0h4v2h-4zm64 0h4v2h-4zm-128 2h4v2h-4zm64 0h4v2h-4zm64 0h4v2h-4zm32 0h4v2h-4zm24 0h4v2h-4zm4 0h4v2h-4zm8 0h4v2h-4zm40 0h4v2h-4zm4 0h4v2h-4zm-232 2h4v2h-4zm8 0h4v2h-4zm52 0h4v2h-4zm108 0h4v2h-4zm8 0h4v2h-4zm32 0h4v2h-4zm20 0h4v2h-4zm8 0h4v2h-4zm-244 2h4v2h-4zm24 0h4v2h-4zm176 0h4v2h-4zm-164 2h4v2h-4zm124 0h4v2h-4zm-96 2h4v2h-4zm-28 2h4v2h-4zm28 0h4v2h-4zm4 0h4v2h-4zm84 0h4v2h-4zm8 0h4v2h-4zm20 0h4v2h-4zm8 0h4v2h-4zm4 0h4v2h-4zm-196 2h4v2h-4zm12 0h4v2h-4zm8 0h4v2h-4zm56 0h4v2h-4zm84 0h4v2h-4zm52 0h4v2h-4zm24 0h4v2h-4zm-208 2h4v2h-4zm20 0h4v2h-4zm36 0h4v2h-4zm60 0h4v2h-4zm56 0h4v2h-4zm4 0h4v2h-4zm8 0h4v2h-4zm4 0h4v2h-4zm20 0h4v2h-4zm8 0h4v2h-4zm4 0h4v2h-4zm-220 2h4v2h-4zm8 0h4v2h-4zm36 0h4v2h-4zm104 0h4v2h-4zm4 0h4v2h-4zm4 0h4v2h-4zm4 0h4v2h-4zm20 0h4v2h-4zm-128 2h4v2h-4zm112 0h4v2h-4zm36 0h4v2h-4zm4 0h4v2h-4zm-204 2h4v2h-4zm132 0h4v2h-4zm-152 2h4v2h-4zm16 0h4v2h-4zm16 0h4v2h-4zm48 0h4v2h-4zm4 0h4v2h-4zm72 0h4v2h-4zm36 0h4v2h-4zm4 0h4v2h-4zm20 0h4v2h-4zm20 0h4v2h-4zm-184 2h4v2h-4zm4 0h4v2h-4zm100 0h4v2h-4zm12 0h4v2h-4zm4 0h4v2h-4zm16 0h4v2h-4zm52 0h4v2h-4zm-244 2h4v2h-4zm4 0h4v2h-4zm4 0h4v2h-4zm28 0h4v2h-4zm28 0h4v2h-4zm8 0h4v2h-4zm20 0h4v2h-4zm92 0h4v2h-4zm20 0h4v2h-4zm40 0h4v2h-4zm-232 2h4v2h-4zm32 0h4v2h-4zm4 0h4v2h-4zm88 0h4v2h-4zm4 0h4v2h-4zm16 0h4v2h-4zm44 0h4v2h-4zm-200 2h4v2h-4zm20 0h4v2h-4zm32 0h4v2h-4zm120 0h4v2h-4zm20 0h4v2h-4zm24 0h4v2h-4zm-212 2h4v2h-4zm4 0h4v2h-4zm4 0h4v2h-4zm20 0h4v2h-4zm8 0h4v2h-4zm4 0h4v2h-4zm12 0h4v2h-4zm8 0h4v2h-4zm8 0h4v2h-4zm144 0h4v2h-4zm16 0h4v2h-4zm-224 2h4v2h-4zm12 0h4v2h-4zm24 0h4v2h-4zm152 0h4v2h-4zm4 0h4v2h-4zm40 0h4v2h-4zm-212 2h4v2h-4zm4 0h4v2h-4zm28 0h4v2h-4zm4 0h4v2h-4zm72 0h4v2h-4zm4 0h4v2h-4zm8 0h4v2h-4zm20 0h4v2h-4zm8 0h4v2h-4zm16 0h4v2h-4zm32 0h4v2h-4zm20 0h4v2h-4z"/>
<path fill="#3443ae" d="M0 0m72 0h4v2h-4zm60 0h4v2h-4zm16 0h4v2h-4zm28 0h4v2h-4zm4 0h4v2h-4zm28 0h4v2h-4zm-208 2h4v2h-4zm112 0h4v2h-4zm40 0h4v2h-4zm60 0h4v2h-4zm-120 2h4v2h-4zm16 0h4v2h-4zm-108 2h4v2h-4zm8 0h4v2h-4zm92 0h4v2h-4zm20 0h4v2h-4zm48 0h4v2h-4zm-168 2h4v2h-4zm4 0h4v2h-4zm72 0h4v2h-4zm4 0h4v2h-4zm100 0h4v2h-4zm8 0h4v2h-4zm-180 2h4v2h-4zm84 0h4v2h-4zm12 0h4v2h-4zm4 0h4v2h-4zm12 0h4v2h-4zm12 0h4v2h-4zm56 0h4v2h-4zm24 0h4v2h-4zm12 0h4v2h-4zm-224 2h4v2h-4zm4 0h4v2h-4zm84 0h4v2h-4zm4 0h4v2h-4zm68 0h4v2h-4zm16 0h4v2h-4zm44 0h4v2h-4zm-220 2h4v2h-4zm96 0h4v2h-4zm16 0h4v2h-4zm36 0h4v2h-4zm4 0h4v2h-4zm4 0h4v2h-4zm28 0h4v2h-4zm-180 2h4v2h-4zm92 0h4v2h-4zm4 0h4v2h-4zm28 0h4v2h-4zm8 0h4v2h-4zm4 0h4v2h-4zm24 0h4v2h-4zm40 0h4v2h-4zm4 0h4v2h-4zm24 0h4v2h-4zm8 0h4v2h-4zm-144 2h4v2h-4zm64 0h4v2h-4zm20 0h4v2h-4zm12 0h4v2h-4zm56 0h4v2h-4zm-156 2h4v2h-4zm4 0h4v2h-4zm44 0h4v2h-4zm32 0h4v2h-4zm60 0h4v2h-4zm-224 2h4v2h-4zm88 0h4v2h-4zm8 0h4v2h-4zm28 0h4v2h-4zm52 0h4v2h-4zm28 0h4v2h-4zm4 0h4v2h-4zm20 0h4v2h-4zm-232 2h4v2h-4zm24 0h4v2h-4zm92 0h4v2h-4zm60 0h4v2h-4zm48 0h4v2h-4zm-196 2h4v2h-4zm4 0h4v2h-4zm4 0h4v2h-4zm52 0h4v2h-4zm4 0h4v2h-4zm12 0h4v2h-4zm16 0h4v2h-4zm20 0h4v2h-4zm4 0h4v2h-4zm52 0h4v2h-4zm36 0h4v2h-4zm-208 2h4v2h-4zm56 0h4v2h-4zm8 0h4v2h-4zm4 0h4v2h-4zm28 0h4v2h-4zm-124 2h4v2h-4zm16 0h4v2h-4zm24 0h4v2h-4zm60 0h4v2h-4zm44 0h4v2h-4zm8 0h4v2h-4zm12 0h4v2h-4zm60 0h4v2h-4zm12 0h4v2h-4zm4 0h4v2h-4zm-212 2h4v2h-4zm8 0h4v2h-4zm4 0h4v2h-4zm4 0h4v2h-4zm48 0h4v2h-4zm28 0h4v2h-4zm60 0h4v2h-4zm32 0h4v2h-4zm8 0h4v2h-4zm8 0h4v2h-4zm-228 2h4v2h-4zm12 0h4v2h-4zm188 0h4v2h-4zm12 2h4v2h-4zm4 0h4v2h-4zm-156 2h4v2h-4zm92 0h4v2h-4zm4 0h4v2h-4zm36 0h4v2h-4zm16 0h4v2h-4zm-184 2h4v2h-4zm12 0h4v2h-4zm72 0h4v2h-4zm36 0h4v2h-4zm16 0h4v2h-4zm56 0h4v2h-4zm-204 2h4v2h-4zm28 0h4v2h-4zm16 0h4v2h-4zm60 0h4v2h-4zm72 0h4v2h-4zm-80 2h4v2h-4zm52 0h4v2h-4zm48 0h4v2h-4zm12 0h4v2h-4zm-220 2h4v2h-4zm24 0h4v2h-4zm92 0h4v2h-4zm36 0h4v2h-4zm-24 2h4v2h-4zm80 0h4v2h-4zm44 0h4v2h-4zm-224 2h4v2h-4zm24 0h4v2h-4zm16 0h4v2h-4zm40 0h4v2h-4zm20 0h4v2h-4zm-108 2h4v2h-4zm192 0h4v2h-4zm40 0h4v2h-4zm-248 2h4v2h-4zm64 0h4v2h-4zm52 0h4v2h-4zm116 0h4v2h-4zm8 0h4v2h-4zm-240 2h4v2h-4zm4 0h4v2h-4zm52 0h4v2h-4zm4 0h4v2h-4zm4 0h4v2h-4zm152 0h4v2h-4zm-152 2h4v2h-4zm56 0h4v2h-4zm52 0h4v2h-4zm44 0h4v2h-4zm-216 2h4v2h-4zm12 0h4v2h-4zm108 0h4v2h-4zm8 0h4v2h-4zm100 0h4v2h-4zm-192 2h4v2h-4zm96 0h4v2h-4zm116 0h4v2h-4zm-112 2h4v2h-4zm68 0h4v2h-4zm44 0h4v2h-4zm-200 2h4v2h-4zm12 0h4v2h-4zm12 0h4v2h-4zm148 0h4v2h-4zm16 0h4v2h-4zm12 0h4v2h-4zm-232 2h4v2h-4zm12 0h4v2h-4zm8 0h4v2h-4zm20 0h4v2h-4zm72 0h4v2h-4zm32 0h4v2h-4zm36 0h4v2h-4zm24 0h4v2h-4zm-224 2h4v2h-4zm24 0h4v2h-4zm120 0h4v2h-4zm48 0h4v2h-4zm8 0h4v2h-4zm4 0h4v2h-4zm16 0h4v2h-4zm20 0h4v2h-4zm4 0h4v2h-4zm-176 2h4v2h-4zm16 0h4v2h-4zm132 0h4v2h-4zm32 0h4v2h-4zm-240 2h4v2h-4zm64 0h4v2h-4zm60 0h4v2h-4zm92 0h4v2h-4zm4 0h4v2h-4zm-208 2h4v2h-4zm156 0h4v2h-4zm8 0h4v2h-4zm12 0h4v2h-4zm20 0h4v2h-4zm-156 2h4v2h-4zm8 0h4v2h-4zm120 0h4v2h-4zm8 0h4v2h-4zm8 0h4v2h-4zm32 0h4v2h-4zm-176 2h4v2h-4zm24 0h4v2h-4zm92 0h4v2h-4zm32 0h4v2h-4zm32 0h4v2h-4zm4 0h4v2h-4zm-184 2h4v2h-4zm176 0h4v2h-4zm-220 2h4v2h-4zm16 0h4v2h-4zm208 0h4v2h-4zm-228 2h4v2h-4zm8 0h4v2h-4zm20 0h4v2h-4zm20 0h4v2h-4zm4 0h4v2h-4zm124 0h4v2h-4zm28 0h4v2h-4zm16 0h4v2h-4zm8 0h4v2h-4zm-220 2h4v2h-4zm4 0h4v2h-4zm136 0h4v2h-4zm12 0h4v2h-4zm4 0h4v2h-4zm4 0h4v2h-4zm24 0h4v2h-4zm8 0h4v2h-4zm-192 2h4v2h-4zm32 0h4v2h-4zm12 0h4v2h-4zm32 0h4v2h-4zm84 0h4v2h-4zm4 0h4v2h-4zm16 0h4v2h-4zm12 0h4v2h-4zm28 0h4v2h-4zm4 0h4v2h-4zm-224 2h4v2h-4zm12 0h4v2h-4zm64 0h4v2h-4zm80 0h4v2h-4zm36 0h4v2h-4zm-192 2h4v2h-4zm16 0h4v2h-4zm4 0h4v2h-4zm56 0h4v2h-4zm56 0h4v2h-4zm4 0h4v2h-4zm-144 2h4v2h-4zm8 0h4v2h-4zm20 0h4v2h-4zm36 0h4v2h-4zm24 0h4v2h-4zm80 0h4v2h-4zm-176 2h4v2h-4zm56 0h4v2h-4zm4 0h4v2h-4zm104 0h4v2h-4zm-8 2h4v2h-4zm12 0h4v2h-4zm36 0h4v2h-4zm-208 2h4v2h-4zm8 0h4v2h-4zm32 0h4v2h-4zm12 0h4v2h-4zm88 0h4v2h-4zm108 0h4v2h-4zm-160 2h4v2h-4zm60 0h4v2h-4zm8 0h4v2h-4zm32 0h4v2h-4zm-184 2h4v2h-4zm4 0h4v2h-4zm24 0h4v2h-4zm16 0h4v2h-4zm92 0h4v2h-4zm36 0h4v2h-4zm12 0h4v2h-4zm24 0h4v2h-4zm12 0h4v2h-4zm28 0h4v2h-4zm-252 2h4v2h-4zm16 0h4v2h-4zm204 0h4v2h-4zm16 0h4v2h-4zm-176 2h4v2h-4zm144 0h4v2h-4zm-200 2h4v2h-4zm24 0h4v2h-4zm4 0h4v2h-4zm12 0h4v2h-4zm32 0h4v2h-4zm96 0h4v2h-4zm8 0h4v2h-4zm52 0h4v2h-4zm-168 2h4v2h-4zm8 0h4v2h-4zm92 0h4v2h-4zm12 0h4v2h-4zm8 0h4v2h-4zm-48 2h4v2h-4zm16 0h4v2h-4zm12 0h4v2h-4zm56 0h4v2h-4zm-172 2h4v2h-4zm8 0h4v2h-4zm20 0h4v2h-4zm24 0h4v2h-4zm80 0h4v2h-4zm4 0h4v2h-4zm28 0h4v2h-4zm-208 2h4v2h-4zm28 0h4v2h-4zm32 0h4v2h-4zm76 0h4v2h-4zm20 0h4v2h-4zm8 0h4v2h-4zm4 0h4v2h-4zm40 0h4v2h-4zm12 0h4v2h-4z"/>
<path fill="#3546b1" d="M0 0m12 0h4v2h-4zm116 0h4v2h-4zm8 0h4v2h-4zm4 0h4v2h-4zm12 0h4v2h-4zm92 0h4v2h-4zm-188 2h4v2h-4zm12 0h4v2h-4zm4 0h4v2h-4zm48 0h4v2h-4zm4 0h4v2h-4zm32 0h4v2h-4zm16 0h4v2h-4zm8 0h4v2h-4zm24 0h4v2h-4zm4 0h4v2h-4zm-140 2h4v2h-4zm28 0h4v2h-4zm4 0h4v2h-4zm12 0h4v2h-4zm4 0h4v2h-4zm68 0h4v2h-4zm40 0h4v2h-4zm-220 2h4v2h-4zm144 0h4v2h-4zm4 0h4v2h-4zm12 0h4v2h-4zm8 0h4v2h-4zm12 0h4v2h-4zm8 0h4v2h-4zm8 0h4v2h-4zm-184 2h4v2h-4zm124 0h4v2h-4zm-128 2h4v2h-4zm128 0h4v2h-4zm4 0h4v2h-4zm24 0h4v2h-4zm-144 2h4v2h-4zm140 0h4v2h-4zm32 0h4v2h-4zm12 0h4v2h-4zm40 0h4v2h-4zm-160 2h4v2h-4zm80 0h4v2h-4zm8 0h4v2h-4zm40 0h4v2h-4zm36 0h4v2h-4zm-244 2h4v2h-4zm68 0h4v2h-4zm56 0h4v2h-4zm24 0h4v2h-4zm56 0h4v2h-4zm-128 2h4v2h-4zm16 0h4v2h-4zm36 0h4v2h-4zm40 0h4v2h-4zm12 0h4v2h-4zm40 0h4v2h-4zm-216 2h4v2h-4zm4 0h4v2h-4zm172 0h4v2h-4zm56 0h4v2h-4zm8 0h4v2h-4zm-252 4h4v2h-4zm192 0h4v2h-4zm40 0h4v2h-4zm12 0h4v2h-4zm-164 2h4v2h-4zm108 0h4v2h-4zm8 0h4v2h-4zm32 0h4v2h-4zm4 0h4v2h-4zm-220 2h4v2h-4zm88 0h4v2h-4zm100 0h4v2h-4zm24 0h4v2h-4zm24 0h4v2h-4zm4 0h4v2h-4zm-40 2h4v2h-4zm8 0h4v2h-4zm8 0h4v2h-4zm20 0h4v2h-4zm-228 2h4v2h-4zm12 0h4v2h-4zm64 0h4v2h-4zm152 0h4v2h-4zm-232 2h4v2h-4zm76 0h4v2h-4zm16 0h4v2h-4zm24 0h4v2h-4zm112 0h4v2h-4zm-240 2h4v2h-4zm12 0h4v2h-4zm40 0h4v2h-4zm72 0h4v2h-4zm56 0h4v2h-4zm44 0h4v2h-4zm-220 2h4v2h-4zm8 0h4v2h-4zm220 0h4v2h-4zm-180 2h4v2h-4zm144 0h4v2h-4zm-36 2h4v2h-4zm48 0h4v2h-4zm-192 2h4v2h-4zm24 0h4v2h-4zm60 0h4v2h-4zm44 0h4v2h-4zm76 0h4v2h-4zm20 0h4v2h-4zm-216 2h4v2h-4zm92 0h4v2h-4zm36 0h4v2h-4zm72 0h4v2h-4zm-224 2h4v2h-4zm116 0h4v2h-4zm16 0h4v2h-4zm-116 2h4v2h-4zm4 0h4v2h-4zm96 0h4v2h-4zm44 0h4v2h-4zm40 0h4v2h-4zm24 0h4v2h-4zm4 0h4v2h-4zm-220 2h4v2h-4zm16 0h4v2h-4zm8 0h4v2h-4zm16 0h4v2h-4zm4 0h4v2h-4zm8 0h4v2h-4zm184 0h4v2h-4zm-220 2h4v2h-4zm24 0h4v2h-4zm180 0h4v2h-4zm-180 2h4v2h-4zm4 0h4v2h-4zm60 0h4v2h-4zm36 0h4v2h-4zm-120 2h4v2h-4zm20 0h4v2h-4zm8 0h4v2h-4zm20 0h4v2h-4zm168 0h4v2h-4zm-224 2h4v2h-4zm32 2h4v2h-4zm88 0h4v2h-4zm104 0h4v2h-4zm-216 2h4v2h-4zm4 0h4v2h-4zm176 0h4v2h-4zm-200 2h4v2h-4zm8 0h4v2h-4zm36 0h4v2h-4zm12 0h4v2h-4zm140 0h4v2h-4zm4 0h4v2h-4zm36 0h4v2h-4zm-224 2h4v2h-4zm4 0h4v2h-4zm124 0h4v2h-4zm100 0h4v2h-4zm-248 2h4v2h-4zm204 0h4v2h-4zm24 0h4v2h-4zm-200 2h4v2h-4zm40 0h4v2h-4zm168 0h4v2h-4zm-236 2h4v2h-4zm8 0h4v2h-4zm68 0h4v2h-4zm80 0h4v2h-4zm20 0h4v2h-4zm20 0h4v2h-4zm4 0h4v2h-4zm-168 2h4v2h-4zm28 0h4v2h-4zm92 0h4v2h-4zm36 0h4v2h-4zm48 0h4v2h-4zm-208 2h4v2h-4zm4 0h4v2h-4zm28 0h4v2h-4zm8 0h4v2h-4zm4 0h4v2h-4zm108 0h4v2h-4zm24 0h4v2h-4zm-196 2h4v2h-4zm36 0h4v2h-4zm4 0h4v2h-4zm4 0h4v2h-4zm144 0h4v2h-4zm-176 2h4v2h-4zm52 0h4v2h-4zm176 0h4v2h-4zm-208 2h4v2h-4zm12 0h4v2h-4zm144 0h4v2h-4zm32 0h4v2h-4zm-232 2h4v2h-4zm4 0h4v2h-4zm24 0h4v2h-4zm104 0h4v2h-4zm104 0h4v2h-4zm-152 2h4v2h-4zm84 0h4v2h-4zm24 0h4v2h-4zm24 0h4v2h-4zm-216 2h4v2h-4zm48 0h4v2h-4zm88 0h4v2h-4zm8 0h4v2h-4zm20 0h4v2h-4zm40 0h4v2h-4zm-192 2h4v2h-4zm16 0h4v2h-4zm152 0h4v2h-4zm20 0h4v2h-4zm24 0h4v2h-4zm-200 2h4v2h-4zm8 0h4v2h-4zm20 0h4v2h-4zm140 0h4v2h-4zm52 0h4v2h-4zm-236 2h4v2h-4zm236 0h4v2h-4zm-236 2h4v2h-4zm16 0h4v2h-4zm120 0h4v2h-4zm8 0h4v2h-4zm36 0h4v2h-4zm8 0h4v2h-4zm-180 2h4v2h-4zm4 0h4v2h-4zm72 0h4v2h-4zm64 0h4v2h-4zm76 0h4v2h-4zm-216 2h4v2h-4zm8 0h4v2h-4zm24 0h4v2h-4zm8 0h4v2h-4zm24 0h4v2h-4zm-80 2h4v2h-4zm4 0h4v2h-4zm8 0h4v2h-4zm4 0h4v2h-4zm20 0h4v2h-4zm12 0h4v2h-4zm20 0h4v2h-4zm76 0h4v2h-4zm16 0h4v2h-4zm8 0h4v2h-4zm64 0h4v2h-4zm-196 2h4v2h-4zm44 0h4v2h-4zm24 0h4v2h-4zm112 0h4v2h-4zm4 0h4v2h-4zm16 0h4v2h-4zm4 0h4v2h-4zm-192 2h4v2h-4zm112 0h4v2h-4zm44 0h4v2h-4zm4 0h4v2h-4zm16 0h4v2h-4zm8 0h4v2h-4zm-212 2h4v2h-4zm84 0h4v2h-4zm32 0h4v2h-4zm28 0h4v2h-4zm32 0h4v2h-4zm44 0h4v2h-4zm-240 2h4v2h-4zm200 0h4v2h-4zm28 0h4v2h-4zm-180 2h4v2h-4zm40 0h4v2h-4zm64 0h4v2h-4zm100 0h4v2h-4zm-192 2h4v2h-4zm8 0h4v2h-4zm16 0h4v2h-4zm132 0h4v2h-4zm12 0h4v2h-4zm4 0h4v2h-4zm-124 2h4v2h-4zm56 0h4v2h-4zm28 0h4v2h-4zm-192 2h4v2h-4zm80 0h4v2h-4zm72 0h4v2h-4zm12 0h4v2h-4zm16 0h4v2h-4zm24 0h4v2h-4zm16 0h4v2h-4z"/>
<path fill="#364ab5" d="M0 0m0 0h4v2h-4zm4 0h4v2h-4zm4 0h4v2h-4zm60 0h4v2h-4zm76 0h4v2h-4zm24 0h4v2h-4zm28 0h4v2h-4zm-132 2h4v2h-4zm12 0h4v2h-4zm4 0h4v2h-4zm20 0h4v2h-4zm16 0h4v2h-4zm16 0h4v2h-4zm4 0h4v2h-4zm56 0h4v2h-4zm-132 2h4v2h-4zm4 0h4v2h-4zm60 0h4v2h-4zm80 0h4v2h-4zm-124 2h4v2h-4zm4 0h4v2h-4zm60 0h4v2h-4zm108 0h4v2h-4zm-180 2h4v2h-4zm140 0h4v2h-4zm4 0h4v2h-4zm-216 2h4v2h-4zm80 0h4v2h-4zm8 0h4v2h-4zm48 0h4v2h-4zm80 0h4v2h-4zm-208 2h4v2h-4zm24 0h4v2h-4zm72 0h4v2h-4zm8 0h4v2h-4zm4 0h4v2h-4zm4 0h4v2h-4zm32 0h4v2h-4zm4 0h4v2h-4zm88 0h4v2h-4zm-240 2h4v2h-4zm156 0h4v2h-4zm4 0h4v2h-4zm-76 2h4v2h-4zm60 0h4v2h-4zm88 0h4v2h-4zm-200 2h4v2h-4zm4 0h4v2h-4zm48 0h4v2h-4zm44 0h4v2h-4zm-128 2h4v2h-4zm4 0h4v2h-4zm160 0h4v2h-4zm36 0h4v2h-4zm16 0h4v2h-4zm20 0h4v2h-4zm-196 2h4v2h-4zm72 0h4v2h-4zm8 0h4v2h-4zm120 0h4v2h-4zm4 0h4v2h-4zm4 0h4v2h-4zm-244 2h4v2h-4zm32 0h4v2h-4zm76 0h4v2h-4zm8 0h4v2h-4zm-96 2h4v2h-4zm48 0h4v2h-4zm24 0h4v2h-4zm4 0h4v2h-4zm12 0h4v2h-4zm12 0h4v2h-4zm24 0h4v2h-4zm4 0h4v2h-4zm48 0h4v2h-4zm36 0h4v2h-4zm-236 2h4v2h-4zm12 0h4v2h-4zm72 0h4v2h-4zm28 0h4v2h-4zm88 0h4v2h-4zm12 0h4v2h-4zm-188 2h4v2h-4zm16 0h4v2h-4zm48 0h4v2h-4zm32 0h4v2h-4zm60 0h4v2h-4zm60 0h4v2h-4zm-196 2h4v2h-4zm8 0h4v2h-4zm60 0h4v2h-4zm52 0h4v2h-4zm4 0h4v2h-4zm28 0h4v2h-4zm4 0h4v2h-4zm-164 2h4v2h-4zm8 0h4v2h-4zm140 0h4v2h-4zm40 0h4v2h-4zm4 0h4v2h-4zm8 0h4v2h-4zm-232 2h4v2h-4zm28 0h4v2h-4zm24 0h4v2h-4zm40 0h4v2h-4zm40 0h4v2h-4zm52 0h4v2h-4zm4 0h4v2h-4zm8 0h4v2h-4zm44 0h4v2h-4zm-216 2h4v2h-4zm24 0h4v2h-4zm40 0h4v2h-4zm4 0h4v2h-4zm32 0h4v2h-4zm40 0h4v2h-4zm32 0h4v2h-4zm24 0h4v2h-4zm-208 2h4v2h-4zm84 0h4v2h-4zm48 0h4v2h-4zm12 0h4v2h-4zm80 0h4v2h-4zm-224 2h4v2h-4zm92 0h4v2h-4zm36 0h4v2h-4zm20 0h4v2h-4zm12 0h4v2h-4zm72 0h4v2h-4zm-56 2h4v2h-4zm4 0h4v2h-4zm4 0h4v2h-4zm-196 2h4v2h-4zm32 0h4v2h-4zm20 0h4v2h-4zm-32 2h4v2h-4zm8 0h4v2h-4zm4 0h4v2h-4zm200 0h4v2h-4zm-236 2h4v2h-4zm56 0h4v2h-4zm52 0h4v2h-4zm88 0h4v2h-4zm8 0h4v2h-4zm12 0h4v2h-4zm-204 2h4v2h-4zm28 2h4v2h-4zm4 0h4v2h-4zm200 0h4v2h-4zm-176 2h4v2h-4zm40 0h4v2h-4zm-56 2h4v2h-4zm8 0h4v2h-4zm64 0h4v2h-4zm16 0h4v2h-4zm48 0h4v2h-4zm-184 2h4v2h-4zm4 0h4v2h-4zm8 0h4v2h-4zm20 0h4v2h-4zm176 0h4v2h-4zm20 0h4v2h-4zm-108 2h4v2h-4zm68 0h4v2h-4zm12 0h4v2h-4zm24 0h4v2h-4zm-160 2h4v2h-4zm60 0h4v2h-4zm32 0h4v2h-4zm24 0h4v2h-4zm36 0h4v2h-4zm24 0h4v2h-4zm-220 2h4v2h-4zm8 0h4v2h-4zm100 0h4v2h-4zm8 0h4v2h-4zm76 0h4v2h-4zm16 0h4v2h-4zm-236 2h4v2h-4zm16 0h4v2h-4zm132 0h4v2h-4zm80 0h4v2h-4zm-220 2h4v2h-4zm216 0h4v2h-4zm-80 2h4v2h-4zm60 0h4v2h-4zm16 0h4v2h-4zm12 0h4v2h-4zm-156 2h4v2h-4zm-60 2h4v2h-4zm136 0h4v2h-4zm-128 2h4v2h-4zm16 0h4v2h-4zm4 0h4v2h-4zm8 0h4v2h-4zm100 0h4v2h-4zm24 0h4v2h-4zm24 0h4v2h-4zm28 0h4v2h-4zm-224 2h4v2h-4zm24 0h4v2h-4zm44 0h4v2h-4zm100 0h4v2h-4zm64 0h4v2h-4zm12 0h4v2h-4zm-168 2h4v2h-4zm8 0h4v2h-4zm88 0h4v2h-4zm-128 2h4v2h-4zm116 0h4v2h-4zm-84 2h4v2h-4zm8 0h4v2h-4zm40 0h4v2h-4zm52 0h4v2h-4zm32 0h4v2h-4zm-208 2h4v2h-4zm12 0h4v2h-4zm60 0h4v2h-4zm112 0h4v2h-4zm12 0h4v2h-4zm24 0h4v2h-4zm-216 2h4v2h-4zm44 2h4v2h-4zm-48 2h4v2h-4zm44 0h4v2h-4zm44 0h4v2h-4zm48 0h4v2h-4zm64 0h4v2h-4zm36 0h4v2h-4zm-84 2h4v2h-4zm16 0h4v2h-4zm-152 2h4v2h-4zm8 0h4v2h-4zm28 0h4v2h-4zm104 0h4v2h-4zm52 0h4v2h-4zm24 0h4v2h-4zm-192 2h4v2h-4zm92 0h4v2h-4zm92 0h4v2h-4zm-216 2h4v2h-4zm16 0h4v2h-4zm16 0h4v2h-4zm52 0h4v2h-4zm48 0h4v2h-4zm40 0h4v2h-4zm4 0h4v2h-4zm4 0h4v2h-4zm-184 2h4v2h-4zm20 0h4v2h-4zm44 0h4v2h-4zm100 0h4v2h-4zm24 0h4v2h-4zm24 0h4v2h-4zm8 0h4v2h-4zm20 0h4v2h-4zm-84 2h4v2h-4zm8 0h4v2h-4zm28 0h4v2h-4zm32 0h4v2h-4zm-212 2h4v2h-4zm8 2h4v2h-4zm36 0h4v2h-4zm4 0h4v2h-4zm16 0h4v2h-4zm56 0h4v2h-4zm68 0h4v2h-4zm28 0h4v2h-4zm-188 2h4v2h-4zm20 0h4v2h-4zm4 0h4v2h-4zm28 0h4v2h-4zm40 0h4v2h-4zm28 0h4v2h-4zm36 0h4v2h-4zm32 0h4v2h-4zm4 0h4v2h-4zm-236 2h4v2h-4zm28 0h4v2h-4zm60 0h4v2h-4zm76 0h4v2h-4zm20 0h4v2h-4zm-80 2h4v2h-4zm24 0h4v2h-4zm12 0h4v2h-4zm36 0h4v2h-4zm4 0h4v2h-4zm8 0h4v2h-4zm20 0h4v2h-4zm-152 2h4v2h-4zm44 0h4v2h-4zm40 0h4v2h-4zm88 0h4v2h-4zm-220 2h4v2h-4zm124 0h4v2h-4zm60 0h4v2h-4zm20 0h4v2h-4z"/>
<path fill="#384db8" d="M0 0m164 0h4v2h-4zm20 0h4v2h-4zm8 0h4v2h-4zm-132 2h4v2h-4zm88 0h4v2h-4zm12 0h4v2h-4zm16 0h4v2h-4zm8 0h4v2h-4zm-172 2h4v2h-4zm92 0h4v2h-4zm72 0h4v2h-4zm4 0h4v2h-4zm20 0h4v2h-4zm-96 2h4v2h-4zm12 0h4v2h-4zm16 0h4v2h-4zm-64 2h4v2h-4zm16 0h4v2h-4zm8 0h4v2h-4zm52 0h4v2h-4zm16 0h4v2h-4zm12 0h4v2h-4zm-152 2h4v2h-4zm4 0h4v2h-4zm104 0h4v2h-4zm44 0h4v2h-4zm-72 2h4v2h-4zm124 0h4v2h-4zm16 0h4v2h-4zm-232 2h4v2h-4zm76 0h4v2h-4zm-72 2h4v2h-4zm0 2h4v2h-4zm64 0h4v2h-4zm4 0h4v2h-4zm12 0h4v2h-4zm36 0h4v2h-4zm24 0h4v2h-4zm-120 2h4v2h-4zm52 0h4v2h-4zm68 0h4v2h-4zm28 0h4v2h-4zm28 0h4v2h-4zm-196 2h4v2h-4zm8 0h4v2h-4zm4 0h4v2h-4zm104 0h4v2h-4zm8 0h4v2h-4zm44 0h4v2h-4zm-148 2h4v2h-4zm76 0h4v2h-4zm128 0h4v2h-4zm-124 2h4v2h-4zm8 0h4v2h-4zm52 0h4v2h-4zm-172 2h4v2h-4zm132 0h4v2h-4zm4 0h4v2h-4zm84 0h4v2h-4zm8 0h4v2h-4zm4 0h4v2h-4zm12 0h4v2h-4zm-196 2h4v2h-4zm40 0h4v2h-4zm60 0h4v2h-4zm12 0h4v2h-4zm-156 2h4v2h-4zm48 0h4v2h-4zm52 0h4v2h-4zm36 0h4v2h-4zm-112 2h4v2h-4zm48 0h4v2h-4zm20 0h4v2h-4zm4 0h4v2h-4zm116 0h4v2h-4zm-196 2h4v2h-4zm28 0h4v2h-4zm76 0h4v2h-4zm8 0h4v2h-4zm4 0h4v2h-4zm36 0h4v2h-4zm48 0h4v2h-4zm-176 2h4v2h-4zm104 0h4v2h-4zm40 0h4v2h-4zm44 0h4v2h-4zm-232 2h4v2h-4zm28 0h4v2h-4zm4 0h4v2h-4zm20 0h4v2h-4zm8 0h4v2h-4zm116 0h4v2h-4zm8 0h4v2h-4zm12 0h4v2h-4zm12 0h4v2h-4zm-192 2h4v2h-4zm28 0h4v2h-4zm8 0h4v2h-4zm108 0h4v2h-4zm-156 2h4v2h-4zm44 0h4v2h-4zm52 0h4v2h-4zm56 0h4v2h-4zm24 0h4v2h-4zm68 0h4v2h-4zm4 0h4v2h-4zm-216 2h4v2h-4zm76 0h4v2h-4zm72 0h4v2h-4zm24 0h4v2h-4zm-100 2h4v2h-4zm44 0h4v2h-4zm96 0h4v2h-4zm-248 2h4v2h-4zm116 0h4v2h-4zm8 0h4v2h-4zm44 0h4v2h-4zm-136 2h4v2h-4zm8 0h4v2h-4zm80 0h4v2h-4zm24 0h4v2h-4zm16 0h4v2h-4zm4 0h4v2h-4zm52 0h4v2h-4zm-152 2h4v2h-4zm100 0h4v2h-4zm88 0h4v2h-4zm-204 2h4v2h-4zm28 0h4v2h-4zm4 0h4v2h-4zm76 0h4v2h-4zm4 0h4v2h-4zm4 0h4v2h-4zm-144 2h4v2h-4zm8 0h4v2h-4zm20 0h4v2h-4zm60 0h4v2h-4zm8 0h4v2h-4zm4 0h4v2h-4zm12 0h4v2h-4zm64 0h4v2h-4zm32 0h4v2h-4zm-192 2h4v2h-4zm112 0h4v2h-4zm-104 2h4v2h-4zm108 0h4v2h-4zm40 0h4v2h-4zm8 0h4v2h-4zm-148 2h4v2h-4zm168 0h4v2h-4zm-196 2h4v2h-4zm8 0h4v2h-4zm52 0h4v2h-4zm56 0h4v2h-4zm8 0h4v2h-4zm56 0h4v2h-4zm12 0h4v2h-4zm-148 2h4v2h-4zm8 0h4v2h-4zm52 0h4v2h-4zm8 0h4v2h-4zm-64 2h4v2h-4zm4 0h4v2h-4zm12 0h4v2h-4zm60 0h4v2h-4zm80 0h4v2h-4zm-200 2h4v2h-4zm48 0h4v2h-4zm4 0h4v2h-4zm-64 2h4v2h-4zm72 0h4v2h-4zm40 0h4v2h-4zm-96 2h4v2h-4zm20 0h4v2h-4zm136 0h4v2h-4zm24 0h4v2h-4zm16 0h4v2h-4zm-180 2h4v2h-4zm76 0h4v2h-4zm48 0h4v2h-4zm-136 2h4v2h-4zm56 0h4v2h-4zm104 0h4v2h-4zm56 0h4v2h-4zm-104 2h4v2h-4zm48 0h4v2h-4zm36 0h4v2h-4zm16 0h4v2h-4zm-152 2h4v2h-4zm-84 4h4v2h-4zm40 0h4v2h-4zm8 0h4v2h-4zm104 0h4v2h-4zm20 0h4v2h-4zm-124 2h4v2h-4zm12 0h4v2h-4zm12 0h4v2h-4zm4 0h4v2h-4zm52 0h4v2h-4zm20 0h4v2h-4zm88 0h4v2h-4zm-232 2h4v2h-4zm8 0h4v2h-4zm104 0h4v2h-4zm76 0h4v2h-4zm4 0h4v2h-4zm-164 4h4v2h-4zm60 0h4v2h-4zm-68 4h4v2h-4zm28 0h4v2h-4zm88 0h4v2h-4zm24 0h4v2h-4zm-140 2h4v2h-4zm52 0h4v2h-4zm12 0h4v2h-4zm-56 2h4v2h-4zm16 0h4v2h-4zm4 0h4v2h-4zm16 0h4v2h-4zm96 0h4v2h-4zm8 0h4v2h-4zm16 0h4v2h-4zm4 0h4v2h-4zm12 0h4v2h-4zm-128 2h4v2h-4zm48 0h4v2h-4zm60 0h4v2h-4zm-136 2h4v2h-4zm84 0h4v2h-4zm4 0h4v2h-4zm96 0h4v2h-4zm4 0h4v2h-4zm-216 2h4v2h-4zm-8 2h4v2h-4zm16 0h4v2h-4zm-4 2h4v2h-4zm8 0h4v2h-4zm12 0h4v2h-4zm12 0h4v2h-4zm8 0h4v2h-4zm4 0h4v2h-4zm16 0h4v2h-4zm8 0h4v2h-4zm-72 2h4v2h-4zm68 0h4v2h-4zm12 2h4v2h-4zm20 0h4v2h-4zm84 0h4v2h-4zm-208 2h4v2h-4zm36 0h4v2h-4zm12 0h4v2h-4zm132 0h4v2h-4zm4 0h4v2h-4zm16 0h4v2h-4zm20 0h4v2h-4z"/>
<path fill="#3b55bc" d="M0 0m16 0h4v2h-4zm4 0h4v2h-4zm208 0h4v2h-4zm12 0h4v2h-4zm-232 2h4v2h-4zm12 0h4v2h-4zm124 0h4v2h-4zm44 0h4v2h-4zm-136 2h4v2h-4zm68 0h4v2h-4zm40 0h4v2h-4zm28 0h4v2h-4zm8 0h4v2h-4zm48 0h4v2h-4zm-108 2h4v2h-4zm44 0h4v2h-4zm8 0h4v2h-4zm-168 2h4v2h-4zm172 0h4v2h-4zm-160 2h4v2h-4zm-4 2h4v2h-4zm56 0h4v2h-4zm44 0h4v2h-4zm8 0h4v2h-4zm8 2h4v2h-4zm-104 2h4v2h-4zm28 0h4v2h-4zm84 0h4v2h-4zm8 0h4v2h-4zm40 0h4v2h-4zm28 0h4v2h-4zm-204 2h4v2h-4zm44 0h4v2h-4zm108 2h4v2h-4zm-108 2h4v2h-4zm20 0h4v2h-4zm20 0h4v2h-4zm44 0h4v2h-4zm-80 4h4v2h-4zm12 0h4v2h-4zm-36 2h4v2h-4zm80 0h4v2h-4zm-108 2h4v2h-4zm92 0h4v2h-4zm84 0h4v2h-4zm8 0h4v2h-4zm-180 2h4v2h-4zm76 0h4v2h-4zm108 0h4v2h-4zm-188 2h4v2h-4zm36 0h4v2h-4zm136 0h4v2h-4zm4 0h4v2h-4zm8 0h4v2h-4zm8 0h4v2h-4zm-200 2h4v2h-4zm20 0h4v2h-4zm52 0h4v2h-4zm116 0h4v2h-4zm-196 2h4v2h-4zm8 0h4v2h-4zm36 0h4v2h-4zm56 0h4v2h-4zm8 0h4v2h-4zm-100 2h4v2h-4zm4 0h4v2h-4zm140 0h4v2h-4zm36 0h4v2h-4zm-48 2h4v2h-4zm8 0h4v2h-4zm24 0h4v2h-4zm32 0h4v2h-4zm-192 2h4v2h-4zm136 0h4v2h-4zm-96 2h4v2h-4zm168 0h4v2h-4zm-212 2h4v2h-4zm4 0h4v2h-4zm4 0h4v2h-4zm12 0h4v2h-4zm24 0h4v2h-4zm48 0h4v2h-4zm44 0h4v2h-4zm20 0h4v2h-4zm-72 2h4v2h-4zm44 0h4v2h-4zm20 0h4v2h-4zm64 0h4v2h-4zm-156 2h4v2h-4zm-12 2h4v2h-4zm4 0h4v2h-4zm88 0h4v2h-4zm48 0h4v2h-4zm-160 2h4v2h-4zm72 0h4v2h-4zm12 0h4v2h-4zm12 0h4v2h-4zm48 0h4v2h-4zm-176 2h4v2h-4zm132 0h4v2h-4zm4 0h4v2h-4zm-72 2h4v2h-4zm124 0h4v2h-4zm20 0h4v2h-4zm28 0h4v2h-4zm-160 2h4v2h-4zm4 0h4v2h-4zm28 0h4v2h-4zm12 0h4v2h-4zm4 2h4v2h-4zm8 0h4v2h-4zm16 0h4v2h-4zm8 0h4v2h-4zm84 0h4v2h-4zm-196 2h4v2h-4zm24 0h4v2h-4zm52 0h4v2h-4zm120 0h4v2h-4zm-232 2h4v2h-4zm60 0h4v2h-4zm16 0h4v2h-4zm-60 2h4v2h-4zm-4 2h4v2h-4zm176 0h4v2h-4zm28 0h4v2h-4zm-228 2h4v2h-4zm84 0h4v2h-4zm88 0h4v2h-4zm4 0h4v2h-4zm20 0h4v2h-4zm-152 2h4v2h-4zm12 0h4v2h-4zm148 0h4v2h-4zm-188 2h4v2h-4zm196 0h4v2h-4zm28 0h4v2h-4zm-208 2h4v2h-4zm48 0h4v2h-4zm88 0h4v2h-4zm64 0h4v2h-4zm-188 2h4v2h-4zm8 0h4v2h-4zm4 0h4v2h-4zm172 0h4v2h-4zm-176 2h4v2h-4zm184 0h4v2h-4zm-228 2h4v2h-4zm48 0h4v2h-4zm28 0h4v2h-4zm56 0h4v2h-4zm24 0h4v2h-4zm-108 2h4v2h-4zm32 0h4v2h-4zm12 0h4v2h-4zm-96 2h4v2h-4zm8 0h4v2h-4zm44 0h4v2h-4zm76 0h4v2h-4zm16 0h4v2h-4zm60 0h4v2h-4zm-172 2h4v2h-4zm136 0h4v2h-4zm44 0h4v2h-4zm4 0h4v2h-4zm-192 2h4v2h-4zm120 0h4v2h-4zm-100 2h4v2h-4zm40 0h4v2h-4zm8 0h4v2h-4zm152 0h4v2h-4zm4 0h4v2h-4zm-28 2h4v2h-4zm4 0h4v2h-4zm-132 2h4v2h-4zm52 0h4v2h-4zm68 0h4v2h-4zm20 0h4v2h-4zm-216 2h4v2h-4zm32 2h4v2h-4zm44 0h4v2h-4zm84 0h4v2h-4zm12 0h4v2h-4zm-108 4h4v2h-4zm16 0h4v2h-4zm4 0h4v2h-4zm136 0h4v2h-4zm-216 2h4v2h-4zm12 0h4v2h-4zm4 0h4v2h-4zm56 0h4v2h-4zm12 0h4v2h-4zm112 0h4v2h-4zm-184 2h4v2h-4zm-36 2h4v2h-4zm52 0h4v2h-4zm96 0h4v2h-4zm80 0h4v2h-4zm-192 2h4v2h-4zm20 0h4v2h-4zm32 0h4v2h-4zm108 0h4v2h-4zm4 0h4v2h-4zm36 0h4v2h-4zm-120 2h4v2h-4zm8 0h4v2h-4zm52 0h4v2h-4zm12 0h4v2h-4zm64 0h4v2h-4zm-236 2h4v2h-4zm12 0h4v2h-4zm56 0h4v2h-4zm4 0h4v2h-4zm4 0h4v2h-4zm4 0h4v2h-4z"/>
<path fill="#405fbf" d="M0 0m44 0h4v2h-4zm-40 2h4v2h-4zm124 0h4v2h-4zm-72 2h4v2h-4zm116 0h4v2h-4zm-96 2h4v2h-4zm36 0h4v2h-4zm56 2h4v2h-4zm28 0h4v2h-4zm-48 2h4v2h-4zm-68 2h4v2h-4zm16 0h4v2h-4zm36 0h4v2h-4zm68 0h4v2h-4zm32 0h4v2h-4zm20 0h4v2h-4zm-240 2h4v2h-4zm8 0h4v2h-4zm60 0h4v2h-4zm12 0h4v2h-4zm40 0h4v2h-4zm-60 2h4v2h-4zm-40 2h4v2h-4zm12 0h4v2h-4zm28 0h4v2h-4zm-72 2h4v2h-4zm40 0h4v2h-4zm172 0h4v2h-4zm4 0h4v2h-4zm-188 2h4v2h-4zm52 0h4v2h-4zm4 0h4v2h-4zm36 0h4v2h-4zm36 0h4v2h-4zm12 0h4v2h-4zm-92 2h4v2h-4zm164 0h4v2h-4zm-108 2h4v2h-4zm60 0h4v2h-4zm-160 2h4v2h-4zm72 0h4v2h-4zm36 0h4v2h-4zm68 0h4v2h-4zm4 0h4v2h-4zm-160 2h4v2h-4zm28 0h4v2h-4zm4 0h4v2h-4zm104 0h4v2h-4zm20 0h4v2h-4zm-208 2h4v2h-4zm112 0h4v2h-4zm140 0h4v2h-4zm-228 2h4v2h-4zm64 0h4v2h-4zm16 0h4v2h-4zm-104 2h4v2h-4zm24 0h4v2h-4zm64 0h4v2h-4zm8 0h4v2h-4zm56 0h4v2h-4zm-68 2h4v2h-4zm-20 2h4v2h-4zm188 0h4v2h-4zm-240 4h4v2h-4zm180 0h4v2h-4zm-188 2h4v2h-4zm40 0h4v2h-4zm8 0h4v2h-4zm16 2h4v2h-4zm44 0h4v2h-4zm44 0h4v2h-4zm16 0h4v2h-4zm-108 2h4v2h-4zm40 0h4v2h-4zm40 0h4v2h-4zm4 0h4v2h-4zm32 0h4v2h-4zm36 0h4v2h-4zm-216 2h4v2h-4zm8 0h4v2h-4zm52 0h4v2h-4zm112 0h4v2h-4zm24 0h4v2h-4zm-124 2h4v2h-4zm56 2h4v2h-4zm44 0h4v2h-4zm-96 2h4v2h-4zm80 0h4v2h-4zm8 0h4v2h-4zm68 0h4v2h-4zm-96 2h4v2h-4zm16 0h4v2h-4zm44 0h4v2h-4zm-148 2h4v2h-4zm20 0h4v2h-4zm136 0h4v2h-4zm40 0h4v2h-4zm-96 2h4v2h-4zm-16 2h4v2h-4zm-96 2h4v2h-4zm28 0h4v2h-4zm16 0h4v2h-4zm4 0h4v2h-4zm40 0h4v2h-4zm20 0h4v2h-4zm-8 2h4v2h-4zm-8 2h4v2h-4zm4 0h4v2h-4zm104 0h4v2h-4zm16 0h4v2h-4zm-68 2h4v2h-4zm4 0h4v2h-4zm-176 2h4v2h-4zm36 0h4v2h-4zm28 0h4v2h-4zm8 0h4v2h-4zm8 0h4v2h-4zm52 0h4v2h-4zm64 0h4v2h-4zm28 0h4v2h-4zm-216 2h4v2h-4zm108 0h4v2h-4zm92 0h4v2h-4zm-212 2h4v2h-4zm80 0h4v2h-4zm48 0h4v2h-4zm68 0h4v2h-4zm-120 2h4v2h-4zm68 0h4v2h-4zm28 0h4v2h-4zm4 0h4v2h-4zm24 0h4v2h-4zm-132 2h4v2h-4zm8 0h4v2h-4zm4 0h4v2h-4zm64 0h4v2h-4zm-108 2h4v2h-4zm124 0h4v2h-4zm8 0h4v2h-4zm-112 2h4v2h-4zm8 0h4v2h-4zm8 0h4v2h-4zm12 0h4v2h-4zm44 0h4v2h-4zm60 0h4v2h-4zm-180 2h4v2h-4zm140 0h4v2h-4zm-116 2h4v2h-4zm36 0h4v2h-4zm4 0h4v2h-4zm12 0h4v2h-4zm-8 2h4v2h-4zm16 0h4v2h-4zm44 0h4v2h-4zm88 0h4v2h-4zm4 0h4v2h-4zm-176 2h4v2h-4zm12 0h4v2h-4zm28 2h4v2h-4zm20 0h4v2h-4zm44 0h4v2h-4zm28 0h4v2h-4zm40 0h4v2h-4zm-176 2h4v2h-4zm4 0h4v2h-4zm20 0h4v2h-4zm24 0h4v2h-4zm-12 2h4v2h-4zm160 0h4v2h-4zm-228 2h4v2h-4zm52 0h4v2h-4zm8 2h4v2h-4zm76 0h4v2h-4zm32 0h4v2h-4zm-140 2h4v2h-4zm176 0h4v2h-4zm-84 2h4v2h-4zm72 0h4v2h-4zm-40 2h4v2h-4zm-92 2h4v2h-4zm24 0h4v2h-4zm28 0h4v2h-4zm4 0h4v2h-4zm4 0h4v2h-4zm28 0h4v2h-4zm20 0h4v2h-4zm44 0h4v2h-4zm-132 2h4v2h-4zm44 0h4v2h-4zm28 0h4v2h-4zm12 0h4v2h-4zm16 0h4v2h-4zm-140 2h4v2h-4zm4 0h4v2h-4zm4 0h4v2h-4zm156 0h4v2h-4zm-208 2h4v2h-4zm88 0h4v2h-4zm4 0h4v2h-4z"/>
<path fill="#4468c3" d="M0 0m52 0h4v2h-4zm108 0h4v2h-4zm28 0h4v2h-4zm-144 2h4v2h-4zm4 0h4v2h-4zm4 0h4v2h-4zm-52 2h4v2h-4zm28 0h4v2h-4zm136 0h4v2h-4zm28 0h4v2h-4zm60 0h4v2h-4zm-208 2h4v2h-4zm4 0h4v2h-4zm16 0h4v2h-4zm76 0h4v2h-4zm36 0h4v2h-4zm0 2h4v2h-4zm-156 4h4v2h-4zm16 0h4v2h-4zm72 0h4v2h-4zm96 0h4v2h-4zm24 0h4v2h-4zm8 0h4v2h-4zm-208 2h4v2h-4zm216 0h4v2h-4zm4 0h4v2h-4zm-188 2h4v2h-4zm20 0h4v2h-4zm4 0h4v2h-4zm104 0h4v2h-4zm28 0h4v2h-4zm-196 2h4v2h-4zm136 0h4v2h-4zm-96 2h4v2h-4zm4 0h4v2h-4zm4 0h4v2h-4zm92 0h4v2h-4zm4 0h4v2h-4zm84 0h4v2h-4zm-232 2h4v2h-4zm160 0h4v2h-4zm-112 2h4v2h-4zm28 0h4v2h-4zm20 0h4v2h-4zm72 0h4v2h-4zm-132 2h4v2h-4zm28 2h4v2h-4zm112 2h4v2h-4zm8 0h4v2h-4zm-56 2h4v2h-4zm-108 2h4v2h-4zm8 0h4v2h-4zm8 0h4v2h-4zm-24 2h4v2h-4zm12 0h4v2h-4zm52 0h4v2h-4zm52 0h4v2h-4zm64 0h4v2h-4zm-144 2h4v2h-4zm28 0h4v2h-4zm152 0h4v2h-4zm-176 4h4v2h-4zm-36 4h4v2h-4zm36 0h4v2h-4zm32 0h4v2h-4zm88 0h4v2h-4zm4 0h4v2h-4zm4 0h4v2h-4zm8 0h4v2h-4zm-180 2h4v2h-4zm36 0h4v2h-4zm84 0h4v2h-4zm16 0h4v2h-4zm4 0h4v2h-4zm32 2h4v2h-4zm-124 2h4v2h-4zm44 0h4v2h-4zm72 0h4v2h-4zm-112 2h4v2h-4zm36 0h4v2h-4zm40 0h4v2h-4zm20 0h4v2h-4zm12 0h4v2h-4zm0 2h4v2h-4zm8 0h4v2h-4zm-168 2h4v2h-4zm88 0h4v2h-4zm92 0h4v2h-4zm4 0h4v2h-4zm8 0h4v2h-4zm28 0h4v2h-4zm-124 2h4v2h-4zm52 0h4v2h-4zm16 0h4v2h-4zm-40 2h4v2h-4zm-64 2h4v2h-4zm32 0h4v2h-4zm8 0h4v2h-4zm20 0h4v2h-4zm-104 2h4v2h-4zm4 0h4v2h-4zm36 0h4v2h-4zm40 0h4v2h-4zm60 0h4v2h-4zm48 0h4v2h-4zm4 0h4v2h-4zm-108 4h4v2h-4zm8 0h4v2h-4zm8 0h4v2h-4zm48 0h4v2h-4zm-168 2h4v2h-4zm128 0h4v2h-4zm76 0h4v2h-4zm-104 2h4v2h-4zm112 0h4v2h-4zm20 0h4v2h-4zm-252 2h4v2h-4zm24 0h4v2h-4zm4 0h4v2h-4zm32 0h4v2h-4zm68 0h4v2h-4zm104 0h4v2h-4zm-148 2h4v2h-4zm132 0h4v2h-4zm-140 2h4v2h-4zm80 0h4v2h-4zm-108 2h4v2h-4zm92 0h4v2h-4zm28 0h4v2h-4zm56 0h4v2h-4zm16 0h4v2h-4zm4 0h4v2h-4zm-148 6h4v2h-4zm36 0h4v2h-4zm16 0h4v2h-4zm8 0h4v2h-4zm-80 2h4v2h-4zm4 0h4v2h-4zm12 0h4v2h-4zm8 0h4v2h-4zm24 2h4v2h-4zm40 0h4v2h-4zm-164 2h4v2h-4zm80 0h4v2h-4zm8 0h4v2h-4zm-32 2h4v2h-4zm36 0h4v2h-4zm84 0h4v2h-4zm-84 2h4v2h-4zm4 0h4v2h-4zm36 0h4v2h-4zm4 0h4v2h-4zm4 0h4v2h-4zm-56 2h4v2h-4zm4 0h4v2h-4zm44 0h4v2h-4zm88 0h4v2h-4zm-188 2h4v2h-4zm72 0h4v2h-4zm-84 2h4v2h-4zm36 0h4v2h-4zm28 0h4v2h-4zm16 0h4v2h-4zm108 0h4v2h-4zm4 0h4v2h-4zm-68 2h4v2h-4zm8 0h4v2h-4zm4 0h4v2h-4zm-100 2h4v2h-4zm84 0h4v2h-4zm12 0h4v2h-4zm-20 2h4v2h-4zm92 0h4v2h-4zm-184 4h4v2h-4zm56 2h4v2h-4zm72 0h4v2h-4zm4 0h4v2h-4zm36 0h4v2h-4zm-80 2h4v2h-4zm12 0h4v2h-4zm-88 2h4v2h-4zm8 0h4v2h-4zm44 0h4v2h-4zm28 0h4v2h-4z"/>
<path fill="#4871c7" d="M0 0m48 0h4v2h-4zm16 0h4v2h-4zm-24 2h4v2h-4zm-36 2h4v2h-4zm16 0h4v2h-4zm4 0h4v2h-4zm144 0h4v2h-4zm-116 2h4v2h-4zm20 0h4v2h-4zm16 2h4v2h-4zm-36 2h4v2h-4zm72 2h4v2h-4zm-108 2h4v2h-4zm56 0h4v2h-4zm-48 2h4v2h-4zm200 0h4v2h-4zm-208 2h4v2h-4zm28 2h4v2h-4zm36 0h4v2h-4zm-24 2h4v2h-4zm92 0h4v2h-4zm16 0h4v2h-4zm8 0h4v2h-4zm-100 2h4v2h-4zm116 0h4v2h-4zm-128 2h4v2h-4zm8 0h4v2h-4zm-24 2h4v2h-4zm196 0h4v2h-4zm-92 4h4v2h-4zm48 0h4v2h-4zm-124 2h4v2h-4zm32 2h4v2h-4zm16 0h4v2h-4zm28 0h4v2h-4zm16 0h4v2h-4zm4 0h4v2h-4zm-32 2h4v2h-4zm48 0h4v2h-4zm28 2h4v2h-4zm-148 2h4v2h-4zm16 0h4v2h-4zm28 0h4v2h-4zm48 0h4v2h-4zm44 0h4v2h-4zm4 0h4v2h-4zm-196 2h4v2h-4zm88 2h4v2h-4zm8 0h4v2h-4zm56 0h4v2h-4zm40 0h4v2h-4zm-148 2h4v2h-4zm88 0h4v2h-4zm64 0h4v2h-4zm40 0h4v2h-4zm-172 2h4v2h-4zm104 0h4v2h-4zm12 0h4v2h-4zm-76 2h4v2h-4zm12 0h4v2h-4zm12 0h4v2h-4zm-96 4h4v2h-4zm112 2h4v2h-4zm-8 2h4v2h-4zm-92 2h4v2h-4zm136 0h4v2h-4zm52 0h4v2h-4zm-172 2h4v2h-4zm12 0h4v2h-4zm76 0h4v2h-4zm12 0h4v2h-4zm72 0h4v2h-4zm-112 2h4v2h-4zm24 0h4v2h-4zm-144 2h4v2h-4zm152 0h4v2h-4zm-160 4h4v2h-4zm116 0h4v2h-4zm60 0h4v2h-4zm-60 2h4v2h-4zm24 0h4v2h-4zm104 0h4v2h-4zm-164 2h4v2h-4zm8 0h4v2h-4zm84 0h4v2h-4zm76 2h4v2h-4zm4 0h4v2h-4zm-152 2h4v2h-4zm56 2h4v2h-4zm8 0h4v2h-4zm8 0h4v2h-4zm16 0h4v2h-4zm-56 2h4v2h-4zm12 0h4v2h-4zm108 0h4v2h-4zm-156 2h4v2h-4zm16 0h4v2h-4zm16 2h4v2h-4zm124 2h4v2h-4zm-204 2h4v2h-4zm100 4h4v2h-4zm-132 2h4v2h-4zm108 0h4v2h-4zm-72 2h4v2h-4zm48 0h4v2h-4zm44 0h4v2h-4zm80 0h4v2h-4zm-116 2h4v2h-4zm20 2h4v2h-4zm4 0h4v2h-4zm92 0h4v2h-4zm-128 4h4v2h-4zm60 0h4v2h-4zm-68 2h4v2h-4zm4 0h4v2h-4zm20 0h4v2h-4zm12 0h4v2h-4zm108 0h4v2h-4zm-96 2h4v2h-4zm60 2h4v2h-4zm-104 2h4v2h-4zm20 0h4v2h-4zm60 2h4v2h-4z"/>
<path fill="#4d7bca" d="M0 0m56 0h4v2h-4zm100 0h4v2h-4zm-120 2h4v2h-4zm104 0h4v2h-4zm108 2h4v2h-4zm-236 2h4v2h-4zm48 0h4v2h-4zm48 0h4v2h-4zm56 2h4v2h-4zm-88 2h4v2h-4zm-64 2h4v2h-4zm4 0h4v2h-4zm8 2h4v2h-4zm52 0h4v2h-4zm-40 2h4v2h-4zm12 2h4v2h-4zm-28 2h4v2h-4zm136 0h4v2h-4zm28 0h4v2h-4zm-152 2h4v2h-4zm16 0h4v2h-4zm92 0h4v2h-4zm-52 2h4v2h-4zm80 2h4v2h-4zm-128 2h4v2h-4zm72 0h4v2h-4zm124 0h4v2h-4zm-180 2h4v2h-4zm60 0h4v2h-4zm4 0h4v2h-4zm-88 4h4v2h-4zm176 0h4v2h-4zm-128 2h4v2h-4zm144 0h4v2h-4zm-184 2h4v2h-4zm36 0h4v2h-4zm68 0h4v2h-4zm108 0h4v2h-4zm-244 2h4v2h-4zm180 0h4v2h-4zm-16 2h4v2h-4zm-116 2h4v2h-4zm-8 2h4v2h-4zm128 0h4v2h-4zm0 2h4v2h-4zm4 0h4v2h-4zm8 0h4v2h-4zm4 0h4v2h-4zm8 0h4v2h-4zm-28 2h4v2h-4zm40 0h4v2h-4zm-80 2h4v2h-4zm8 0h4v2h-4zm36 0h4v2h-4zm8 0h4v2h-4zm-76 2h4v2h-4zm8 0h4v2h-4zm40 0h4v2h-4zm20 0h4v2h-4zm-132 2h4v2h-4zm60 0h4v2h-4zm-104 2h4v2h-4zm184 0h4v2h-4zm-112 2h4v2h-4zm36 0h4v2h-4zm60 2h4v2h-4zm68 0h4v2h-4zm-176 2h4v2h-4zm168 0h4v2h-4zm8 0h4v2h-4zm-152 6h4v2h-4zm-80 2h4v2h-4zm84 0h4v2h-4zm32 0h4v2h-4zm60 0h4v2h-4zm4 0h4v2h-4zm8 2h4v2h-4zm44 0h4v2h-4zm4 0h4v2h-4zm-236 2h4v2h-4zm4 0h4v2h-4zm100 2h4v2h-4zm36 0h4v2h-4zm24 0h4v2h-4zm56 0h4v2h-4zm-112 2h4v2h-4zm28 0h4v2h-4zm-8 2h4v2h-4zm12 0h4v2h-4zm48 0h4v2h-4zm-100 2h4v2h-4zm32 0h4v2h-4zm-72 2h4v2h-4zm84 0h4v2h-4zm8 0h4v2h-4zm28 0h4v2h-4zm-20 2h4v2h-4zm-88 8h4v2h-4zm88 0h4v2h-4zm-140 2h4v2h-4zm92 0h4v2h-4zm-56 2h4v2h-4zm92 4h4v2h-4zm112 0h4v2h-4zm-144 2h4v2h-4zm4 0h4v2h-4zm36 0h4v2h-4zm-60 2h4v2h-4zm40 0h4v2h-4zm32 2h4v2h-4zm-60 4h4v2h-4zm12 0h4v2h-4zm24 4h4v2h-4zm32 0h4v2h-4zm52 0h4v2h-4zm4 0h4v2h-4zm-200 2h4v2h-4zm76 0h4v2h-4z"/>
<path fill="#5385ce" d="M0 0m24 0h4v2h-4zm12 0h4v2h-4zm200 0h4v2h-4zm-228 4h4v2h-4zm8 2h4v2h-4zm52 0h4v2h-4zm-4 2h4v2h-4zm-8 6h4v2h-4zm12 0h4v2h-4zm72 0h4v2h-4zm-108 2h4v2h-4zm12 0h4v2h-4zm20 0h4v2h-4zm132 0h4v2h-4zm-168 4h4v2h-4zm132 2h4v2h-4zm-52 6h4v2h-4zm-84 2h4v2h-4zm36 2h4v2h-4zm28 0h4v2h-4zm20 0h4v2h-4zm76 0h4v2h-4zm-100 2h4v2h-4zm-20 2h4v2h-4zm96 0h4v2h-4zm-160 2h4v2h-4zm36 0h4v2h-4zm72 0h4v2h-4zm68 0h4v2h-4zm-172 2h4v2h-4zm188 2h4v2h-4zm-140 2h4v2h-4zm8 0h4v2h-4zm48 2h4v2h-4zm-64 2h4v2h-4zm20 0h4v2h-4zm8 0h4v2h-4zm28 2h4v2h-4zm-96 2h4v2h-4zm156 2h4v2h-4zm-36 2h4v2h-4zm44 0h4v2h-4zm12 2h4v2h-4zm20 0h4v2h-4zm12 0h4v2h-4zm-96 4h4v2h-4zm-52 2h4v2h-4zm48 0h4v2h-4zm72 0h4v2h-4zm-64 4h4v2h-4zm20 0h4v2h-4zm-20 2h4v2h-4zm8 0h4v2h-4zm28 0h4v2h-4zm28 0h4v2h-4zm-176 2h4v2h-4zm8 0h4v2h-4zm172 0h4v2h-4zm8 0h4v2h-4zm-104 2h4v2h-4zm44 0h4v2h-4zm112 0h4v2h-4zm-100 2h4v2h-4zm-28 2h4v2h-4zm12 0h4v2h-4zm0 2h4v2h-4zm16 0h4v2h-4zm-68 4h4v2h-4zm76 0h4v2h-4zm-64 2h4v2h-4zm12 2h4v2h-4zm16 2h4v2h-4zm-36 2h4v2h-4zm24 0h4v2h-4zm24 0h4v2h-4zm8 0h4v2h-4zm4 0h4v2h-4zm16 0h4v2h-4zm8 0h4v2h-4zm-36 10h4v2h-4zm4 0h4v2h-4zm-32 2h4v2h-4zm24 2h4v2h-4zm-36 2h4v2h-4zm16 0h4v2h-4zm120 2h4v2h-4zm-124 2h4v2h-4zm28 2h4v2h-4zm100 0h4v2h-4z"/>
<path fill="#6092d3" d="M0 0m24 8h4v2h-4zm36 2h4v2h-4zm4 2h4v2h-4zm72 2h4v2h-4zm-80 2h4v2h-4zm164 0h4v2h-4zm-168 2h4v2h-4zm8 0h4v2h-4zm0 4h4v2h-4zm12 0h4v2h-4zm72 0h4v2h-4zm-60 2h4v2h-4zm76 2h4v2h-4zm-96 6h4v2h-4zm128 0h4v2h-4zm-132 2h4v2h-4zm20 0h4v2h-4zm36 2h4v2h-4zm-28 2h4v2h-4zm4 2h4v2h-4zm8 0h4v2h-4zm148 0h4v2h-4zm-144 2h4v2h-4zm92 0h4v2h-4zm-12 2h4v2h-4zm-16 2h4v2h-4zm4 0h4v2h-4zm8 0h4v2h-4zm4 2h4v2h-4zm-28 2h4v2h-4zm-56 2h4v2h-4zm28 0h4v2h-4zm52 0h4v2h-4zm-84 2h4v2h-4zm96 0h4v2h-4zm-16 2h4v2h-4zm-28 2h4v2h-4zm12 0h4v2h-4zm12 0h4v2h-4zm16 0h4v2h-4zm52 0h4v2h-4zm-124 2h4v2h-4zm24 0h4v2h-4zm-68 2h4v2h-4zm28 0h4v2h-4zm20 0h4v2h-4zm40 0h4v2h-4zm-84 2h4v2h-4zm156 0h4v2h-4zm-68 2h4v2h-4zm-160 2h4v2h-4zm160 2h4v2h-4zm-52 2h4v2h-4zm12 0h4v2h-4zm16 0h4v2h-4zm32 0h4v2h-4zm20 0h4v2h-4zm-44 2h4v2h-4zm-24 2h4v2h-4zm16 0h4v2h-4zm-48 2h4v2h-4zm20 0h4v2h-4zm24 0h4v2h-4zm28 0h4v2h-4zm80 0h4v2h-4zm-148 2h4v2h-4zm48 0h4v2h-4zm-48 2h4v2h-4zm32 0h4v2h-4zm0 2h4v2h-4zm20 0h4v2h-4zm12 0h4v2h-4zm-36 2h4v2h-4zm36 0h4v2h-4zm-92 2h4v2h-4zm60 2h4v2h-4zm24 0h4v2h-4zm-32 4h4v2h-4zm4 0h4v2h-4zm-72 2h4v2h-4zm16 0h4v2h-4zm60 4h4v2h-4zm12 0h4v2h-4zm-32 4h4v2h-4zm28 4h4v2h-4zm-8 2h4v2h-4zm20 0h4v2h-4zm4 0h4v2h-4zm4 0h4v2h-4zm-48 2h4v2h-4zm-60 8h4v2h-4z"/>
<path fill="#6ea0d8" d="M0 0m44 4h4v2h-4zm-16 4h4v2h-4zm8 2h4v2h-4zm40 2h4v2h-4zm-44 2h4v2h-4zm20 0h4v2h-4zm12 0h4v2h-4zm12 6h4v2h-4zm-8 4h4v2h-4zm12 0h4v2h-4zm-44 4h4v2h-4zm40 0h4v2h-4zm-4 4h4v2h-4zm8 0h4v2h-4zm-4 4h4v2h-4zm80 0h4v2h-4zm24 2h4v2h-4zm-116 6h4v2h-4zm32 0h4v2h-4zm92 0h4v2h-4zm-116 2h4v2h-4zm92 0h4v2h-4zm-116 2h4v2h-4zm52 0h4v2h-4zm-16 2h4v2h-4zm8 2h4v2h-4zm4 0h4v2h-4zm12 0h4v2h-4zm72 2h4v2h-4zm8 2h4v2h-4zm-76 4h4v2h-4zm-56 4h4v2h-4zm-44 8h4v2h-4zm124 0h4v2h-4zm-12 2h4v2h-4zm8 2h4v2h-4zm-44 2h4v2h-4zm28 0h4v2h-4zm44 2h4v2h-4zm60 2h4v2h-4zm-172 4h4v2h-4zm104 0h4v2h-4zm-48 6h4v2h-4zm0 2h4v2h-4zm32 0h4v2h-4zm8 2h4v2h-4zm-20 4h4v2h-4z"/>
<path fill="#7badde" d="M0 0m60 0h4v2h-4zm172 0h4v2h-4zm-184 4h4v2h-4zm-24 2h4v2h-4zm44 6h4v2h-4zm4 0h4v2h-4zm-12 2h4v2h-4zm-32 2h4v2h-4zm36 2h4v2h-4zm-40 2h4v2h-4zm48 0h4v2h-4zm4 2h4v2h-4zm-20 4h4v2h-4zm108 0h4v2h-4zm-96 12h4v2h-4zm4 0h4v2h-4zm8 0h4v2h-4zm60 0h4v2h-4zm108 0h4v2h-4zm-172 2h4v2h-4zm8 0h4v2h-4zm-12 2h4v2h-4zm24 0h4v2h-4zm4 0h4v2h-4zm-16 6h4v2h-4zm12 0h4v2h-4zm-20 2h4v2h-4zm76 0h4v2h-4zm40 0h4v2h-4zm44 8h4v2h-4zm-68 2h4v2h-4zm-92 2h4v2h-4zm88 0h4v2h-4zm8 0h4v2h-4zm-52 2h4v2h-4zm60 4h4v2h-4zm0 2h4v2h-4zm-28 2h4v2h-4zm4 2h4v2h-4zm-36 2h4v2h-4zm40 0h4v2h-4zm-20 2h4v2h-4zm-12 2h4v2h-4zm-8 4h4v2h-4zm20 0h4v2h-4zm16 2h4v2h-4zm-36 2h4v2h-4zm4 0h4v2h-4zm20 0h4v2h-4zm-28 2h4v2h-4zm-72 2h4v2h-4zm44 0h4v2h-4zm44 4h4v2h-4zm-8 6h4v2h-4zm-4 4h4v2h-4zm12 0h4v2h-4zm-8 2h4v2h-4zm4 8h4v2h-4z"/>
<path fill="#89bbe3" d="M0 0m28 0h4v2h-4zm-4 2h4v2h-4zm8 0h4v2h-4zm0 2h4v2h-4zm-12 2h4v2h-4zm36 0h4v2h-4zm-24 2h4v2h-4zm24 2h4v2h-4zm8 0h4v2h-4zm8 0h4v2h-4zm-24 4h4v2h-4zm144 2h4v2h-4zm-164 2h4v2h-4zm8 4h4v2h-4zm4 0h4v2h-4zm8 2h4v2h-4zm4 0h4v2h-4zm0 4h4v2h-4zm16 0h4v2h-4zm16 4h4v2h-4zm104 0h4v2h-4zm-80 4h4v2h-4zm4 0h4v2h-4zm-24 8h4v2h-4zm4 0h4v2h-4zm76 10h4v2h-4zm-68 4h4v2h-4zm-24 2h4v2h-4zm28 0h4v2h-4zm52 0h4v2h-4zm-48 2h4v2h-4zm8 4h4v2h-4zm-4 4h4v2h-4zm48 2h4v2h-4zm-48 2h4v2h-4zm24 2h4v2h-4zm-16 4h4v2h-4zm4 0h4v2h-4zm28 0h4v2h-4zm12 0h4v2h-4zm52 2h4v2h-4zm-116 2h4v2h-4zm24 6h4v2h-4zm-8 2h4v2h-4zm20 0h4v2h-4zm20 0h4v2h-4zm-20 4h4v2h-4zm-28 4h4v2h-4zm28 4h4v2h-4zm-4 4h4v2h-4zm-16 2h4v2h-4zm-4 2h4v2h-4zm8 0h4v2h-4zm8 0h4v2h-4zm0 8h4v2h-4z"/>
<path fill="#96c8e8" d="M0 0m32 0h4v2h-4zm8 0h4v2h-4zm-12 2h4v2h-4zm12 8h4v2h-4zm4 2h4v2h-4zm-8 2h4v2h-4zm28 8h4v2h-4zm-8 2h4v2h-4zm8 4h4v2h-4zm8 0h4v2h-4zm4 2h4v2h-4zm-12 4h4v2h-4zm4 0h4v2h-4zm0 6h4v2h-4zm4 0h4v2h-4zm24 0h4v2h-4zm4 14h4v2h-4zm0 2h4v2h-4zm4 2h4v2h-4zm64 0h4v2h-4zm-12 4h4v2h-4zm28 0h4v2h-4zm-16 4h4v2h-4zm0 2h4v2h-4zm-16 2h4v2h-4zm8 0h4v2h-4zm-56 2h4v2h-4zm64 4h4v2h-4zm-8 6h4v2h-4zm52 0h4v2h-4zm-112 4h4v2h-4zm32 8h4v2h-4zm-4 2h4v2h-4zm12 0h4v2h-4zm-28 2h4v2h-4zm16 0h4v2h-4zm-8 2h4v2h-4zm8 2h4v2h-4zm4 10h4v2h-4zm-4 2h4v2h-4zm-12 6h4v2h-4z"/>
<path fill="#a7d2ea" d="M0 0m40 12h4v2h-4zm8 0h4v2h-4zm4 0h4v2h-4zm8 0h4v2h-4zm-8 4h4v2h-4zm12 10h4v2h-4zm-4 2h4v2h-4zm0 2h4v2h-4zm4 0h4v2h-4zm4 0h4v2h-4zm4 0h4v2h-4zm-4 2h4v2h-4zm12 8h4v2h-4zm8 0h4v2h-4zm-16 4h4v2h-4zm16 2h4v2h-4zm4 0h4v2h-4zm0 2h4v2h-4zm-4 2h4v2h-4zm100 4h4v2h-4zm-28 6h4v2h-4zm4 0h4v2h-4zm20 0h4v2h-4zm-68 10h4v2h-4zm48 2h4v2h-4zm-56 2h4v2h-4zm44 0h4v2h-4zm12 0h4v2h-4zm-48 2h4v2h-4zm-20 2h4v2h-4zm4 0h4v2h-4zm24 4h4v2h-4zm-16 2h4v2h-4zm8 2h4v2h-4zm36 6h4v2h-4zm-28 4h4v2h-4zm0 10h4v2h-4zm-4 4h4v2h-4zm-4 2h4v2h-4zm4 2h4v2h-4zm0 4h4v2h-4z"/>
<path fill="#b8dcec" d="M0 0m36 4h4v2h-4zm4 0h4v2h-4zm-12 2h4v2h-4zm16 8h4v2h-4zm4 2h4v2h-4zm12 8h4v2h-4zm-4 4h4v2h-4zm12 8h4v2h-4zm24 6h4v2h-4zm-16 10h4v2h-4zm4 8h4v2h-4zm16 4h4v2h-4zm76 4h4v2h-4zm-80 2h4v2h-4zm76 0h4v2h-4zm-12 2h4v2h-4zm-12 2h4v2h-4zm-40 8h4v2h-4zm4 4h4v2h-4zm12 0h4v2h-4zm20 2h4v2h-4zm-28 4h4v2h-4zm8 0h4v2h-4zm-12 6h4v2h-4zm16 18h4v2h-4z"/>
<path fill="#c9e5ed" d="M0 0m40 6h4v2h-4zm20 2h4v2h-4zm8 2h4v2h-4zm-12 2h4v2h-4zm-16 2h4v2h-4zm8 6h4v2h-4zm8 0h4v2h-4zm28 22h4v2h-4zm0 2h4v2h-4zm-8 2h4v2h-4zm120 2h4v2h-4zm-104 2h4v2h-4zm100 2h4v2h-4zm-100 2h4v2h-4zm0 2h4v2h-4zm4 2h4v2h-4zm-12 2h4v2h-4zm20 4h4v2h-4zm4 0h4v2h-4zm0 2h4v2h-4zm4 0h4v2h-4zm4 2h4v2h-4zm-12 8h4v2h-4zm60 0h4v2h-4zm-8 2h4v2h-4zm-56 4h4v2h-4zm12 8h4v2h-4zm12 14h4v2h-4zm-8 4h4v2h-4zm4 0h4v2h-4z"/>
<path fill="#daefef" d="M0 0m48 8h4v2h-4zm4 0h4v2h-4zm-8 2h4v2h-4zm32 32h4v2h-4zm12 0h4v2h-4zm-20 2h4v2h-4zm16 8h4v2h-4zm4 0h4v2h-4zm-8 2h4v2h-4zm96 6h4v2h-4zm4 0h4v2h-4zm-88 4h4v2h-4zm80 6h4v2h-4zm-76 6h4v2h-4zm16 0h4v2h-4zm4 4h4v2h-4zm-4 2h4v2h-4zm36 10h4v2h-4zm-40 2h4v2h-4zm4 0h4v2h-4zm4 2h4v2h-4zm4 0h4v2h-4zm-4 6h4v2h-4zm4 0h4v2h-4zm0 2h4v2h-4zm-8 4h4v2h-4zm4 6h4v2h-4zm0 2h4v2h-4z"/>
<path fill="#e6f2e3" d="M0 0m44 8h4v2h-4zm12 10h4v2h-4zm-4 4h4v2h-4zm24 10h4v2h-4zm0 16h4v2h-4zm28 4h4v2h-4zm-4 8h4v2h-4zm4 2h4v2h-4zm-16 4h4v2h-4zm84 0h4v2h-4zm-76 4h4v2h-4zm-4 2h4v2h-4zm76 0h4v2h-4zm-20 6h4v2h-4zm-32 4h4v2h-4zm-8 6h4v2h-4zm4 0h4v2h-4zm4 6h4v2h-4zm-8 2h4v2h-4zm4 4h4v2h-4zm4 4h4v2h-4zm4 16h4v2h-4z"/>
<path fill="#eff2cd" d="M0 0m56 8h4v2h-4zm-8 2h4v2h-4zm24 26h4v2h-4zm12 10h4v2h-4zm4 2h4v2h-4zm16 6h4v2h-4zm72 8h4v2h-4zm-68 6h4v2h-4zm-12 6h4v2h-4zm64 4h4v2h-4zm-48 6h4v2h-4zm16 10h4v2h-4zm-12 12h4v2h-4zm8 6h4v2h-4zm0 2h4v2h-4z"/>
<path fill="#f9f1b7" d="M0 0m32 6h4v2h-4zm20 14h4v2h-4zm24 24h4v2h-4zm4 0h4v2h-4zm4 10h4v2h-4zm4 2h4v2h-4zm8 0h4v2h-4zm-12 2h4v2h-4zm88 6h4v2h-4zm8 0h4v2h-4zm-68 4h4v2h-4zm-8 12h4v2h-4zm16 2h4v2h-4zm-4 2h4v2h-4zm32 2h4v2h-4zm-44 4h4v2h-4zm12 8h4v2h-4zm0 2h4v2h-4zm-4 2h4v2h-4z"/>
<path fill="#feeaa2" d="M0 0m88 60h4v2h-4zm0 4h4v2h-4zm16 2h4v2h-4zm72 0h4v2h-4zm-84 2h4v2h-4zm12 0h4v2h-4zm72 0h4v2h-4zm0 2h4v2h-4zm-72 8h4v2h-4zm0 8h4v2h-4zm4 4h4v2h-4zm4 14h4v2h-4z"/>
<path fill="#fdd990" d="M0 0m36 6h4v2h-4zm56 56h4v2h-4zm8 14h4v2h-4zm8 6h4v2h-4zm16 38h4v2h-4z"/>
<path fill="#fcc97d" d="M0 0m80 48h4v2h-4zm0 4h4v2h-4zm96 12h4v2h-4zm-16 2h4v2h-4zm-60 2h4v2h-4zm4 2h4v2h-4zm4 0h4v2h-4zm0 2h4v2h-4zm60 2h4v2h-4zm-64 10h4v2h-4z"/>
<path fill="#fbb96a" d="M0 0m36 8h4v2h-4zm52 50h4v2h-4zm8 8h4v2h-4zm60 0h4v2h-4zm-44 30h4v2h-4zm8 20h4v2h-4z"/>
<path fill="#f8a75b" d="M0 0m100 72h4v2h-4zm8 8h4v2h-4zm8 8h4v2h-4z"/>
<path fill="#f49352" d="M0 0m80 46h4v2h-4zm0 4h4v2h-4zm12 16h4v2h-4z"/>
<path fill="#f07f48" d="M0 0m40 8h4v2h-4zm48 46h4v2h-4zm92 8h4v2h-4zm-80 8h4v2h-4zm8 6h4v2h-4z"/>
<path fill="#ec6c3f" d="M0 0m84 56h4v2h-4z"/>
<path fill="#e85836" d="M0 0m88 62h4v2h-4zm8 6h4v2h-4zm4 6h4v2h-4z"/>
<path fill="#e04a30" d="M0 0m92 58h4v2h-4zm4 2h4v2h-4zm4 4h4v2h-4z"/>
<path fill="#d63f2e" d="M0 0m100 66h4v2h-4z"/>
<path fill="#c32928" d="M0 0m92 60h4v2h-4zm4 12h4v2h-4zm8 2h4v2h-4z"/>
<path fill="#b91f26" d="M0 0m96 62h4v2h-4z"/>
</g>
<line x1="426.5" y1="162.0" x2="426.5" y2="282.6" stroke="#fff" stroke-width="1"/>
<polyline points="562.3,191.6 560.1,191.8 557.9,192.0 555.7,192.3 553.5,192.6 551.3,192.9 549.1,193.3 547.0,193.7 544.9,194.2 542.7,194.7 540.6,195.2 538.5,195.7 536.4,196.3 534.4,196.9 532.3,197.6 530.3,198.3 528.2,199.0 526.2,199.7 524.2,200.5 522.2,201.3 520.3,202.1 518.3,203.0 516.4,203.9 514.4,204.8 512.5,205.8 510.6,206.7 508.7,207.7 506.9,208.8 505.0,209.8 503.2,210.9 501.3,212.0 499.5,213.1 497.7,214.3 495.9,215.5 494.2,216.7 492.4,217.9 490.7,219.2 488.9,220.4 487.2,221.7 485.5,223.0 483.8,224.4 482.2,225.7 480.5,227.1 478.9,228.5 477.3,229.9 475.7,231.4 474.1,232.8 472.5,234.3 470.9,235.8 469.4,237.3 467.9,238.8 466.4,240.4 464.9,241.9 463.4,243.5 461.9,245.1 460.5,246.7 459.0,248.3 457.6,250.0 456.2,251.6 454.8,253.3 453.4,255.0 452.1,256.7 450.7,258.4 449.4,260.1 448.1,261.8 446.8,263.5 445.5,265.3 444.3,267.1 443.0,268.8 441.8,270.6 440.6,272.4 439.4,274.2 438.2,276.0 437.1,277.8 435.9,279.6 434.8,281.4 433.7,283.3 432.6,285.1 431.5,286.9 430.4,288.8" fill="none" stroke="#a8a8b8" stroke-width="1.0" stroke-linejoin="round"/>
<polyline points="308.1,158.1 309.9,159.3 311.8,160.6 313.6,161.9 315.4,163.2 317.3,164.5 319.1,165.9 320.9,167.2 322.7,168.5 324.5,169.9 326.3,171.3 328.1,172.7 329.9,174.0 331.6,175.5 333.4,176.9 335.1,178.3 336.9,179.7 338.6,181.2 340.3,182.6 342.0,184.1 343.7,185.6 345.4,187.1 347.1,188.6 348.8,190.1 350.4,191.6 352.1,193.1 353.7,194.7 355.3,196.2 357.0,197.8 358.6,199.4 360.2,200.9 361.7,202.5 363.3,204.2 364.9,205.8 366.4,207.4 367.9,209.1 369.4,210.7 370.9,212.4 372.4,214.1 373.9,215.7 375.4,217.4 376.8,219.2 378.3,220.9 379.7,222.6 381.1,224.4 382.5,226.1 383.9,227.9 385.2,229.7 386.6,231.4 387.9,233.2 389.2,235.1 390.5,236.9 391.8,238.7 393.1,240.6 394.3,242.4 395.5,244.3 396.7,246.2 397.9,248.1 399.1,250.0 400.3,251.9 401.4,253.8 402.6,255.8 403.7,257.7 404.8,259.7 405.8,261.7 406.9,263.7 407.9,265.7 409.0,267.7 410.0,269.7 410.9,271.7 411.9,273.8 412.8,275.8 413.8,277.9 414.7,280.0 415.5,282.1 416.4,284.2 417.2,286.3 418.0,288.4 418.8,290.6 419.6,292.7" fill="none" stroke="#a8a8b8" stroke-width="1.0" stroke-linejoin="round"/>
<polyline points="290.2,168.5 292.3,169.4 294.4,170.4 296.5,171.4 298.7,172.4 300.8,173.4 302.9,174.4 304.9,175.5 307.0,176.5 309.1,177.6 311.2,178.7 313.3,179.8 315.3,180.9 317.4,182.0 319.4,183.1 321.4,184.3 323.5,185.5 325.5,186.6 327.5,187.8 329.5,189.0 331.5,190.3 333.5,191.5 335.4,192.8 337.4,194.0 339.3,195.3 341.3,196.6 343.2,197.9 345.1,199.3 347.0,200.6 348.9,202.0 350.8,203.3 352.7,204.7 354.5,206.1 356.4,207.6 358.2,209.0 360.0,210.5 361.8,211.9 363.6,213.4 365.3,214.9 367.1,216.4 368.8,218.0 370.6,219.5 372.3,221.1 373.9,222.7 375.6,224.3 377.3,225.9 378.9,227.5 380.5,229.2 382.1,230.9 383.7,232.5 385.3,234.2 386.8,236.0 388.4,237.7 389.9,239.5 391.4,241.2 392.8,243.0 394.3,244.8 395.7,246.6 397.1,248.5 398.5,250.3 399.9,252.2 401.2,254.1 402.6,256.0 403.9,258.0 405.1,259.9 406.4,261.9 407.6,263.9 408.8,265.9 410.0,267.9 411.2,269.9 412.3,272.0 413.4,274.1 414.5,276.1 415.6,278.3 416.6,280.4 417.6,282.5 418.6,284.7 419.6,286.9 420.5,289.1 421.4,291.3" fill="none" stroke="#16e6ee" stroke-width="1.8" stroke-linejoin="round"/>
<polyline points="562.3,169.4 560.0,170.1 557.8,170.9 555.5,171.7 553.3,172.5 551.1,173.4 548.9,174.3 546.7,175.2 544.6,176.1 542.4,177.0 540.3,178.0 538.2,179.0 536.0,180.0 533.9,181.1 531.9,182.2 529.8,183.2 527.7,184.4 525.7,185.5 523.7,186.7 521.7,187.8 519.7,189.0 517.7,190.3 515.7,191.5 513.8,192.8 511.8,194.1 509.9,195.4 508.0,196.7 506.1,198.1 504.2,199.5 502.3,200.8 500.5,202.3 498.7,203.7 496.9,205.1 495.1,206.6 493.3,208.1 491.5,209.6 489.7,211.1 488.0,212.7 486.3,214.2 484.6,215.8 482.9,217.4 481.2,219.0 479.6,220.7 477.9,222.3 476.3,224.0 474.7,225.7 473.1,227.4 471.5,229.1 470.0,230.8 468.4,232.6 466.9,234.3 465.4,236.1 463.9,237.9 462.4,239.7 461.0,241.5 459.5,243.4 458.1,245.2 456.7,247.1 455.3,249.0 454.0,250.9 452.6,252.8 451.3,254.7 450.0,256.6 448.7,258.6 447.4,260.5 446.1,262.5 444.9,264.5 443.7,266.5 442.4,268.5 441.3,270.5 440.1,272.5 438.9,274.6 437.8,276.6 436.7,278.7 435.6,280.7 434.5,282.8 433.4,284.9 432.4,287.0 431.4,289.1 430.4,291.2" fill="none" stroke="#16e6ee" stroke-width="1.8" stroke-linejoin="round"/>
<polyline points="310.1,157.5 311.9,158.7 313.8,160.0 315.6,161.3 317.4,162.6 319.3,163.9 321.1,165.3 322.9,166.6 324.7,167.9 326.5,169.3 328.3,170.7 330.1,172.1 331.9,173.4 333.6,174.9 335.4,176.3 337.1,177.7 338.9,179.1 340.6,180.6 342.3,182.0 344.0,183.5 345.7,185.0 347.4,186.5 349.1,188.0 350.8,189.5 352.4,191.0 354.1,192.5 355.7,194.1 357.3,195.6 359.0,197.2 360.6,198.8 362.2,200.3 363.7,201.9 365.3,203.6 366.9,205.2 368.4,206.8 369.9,208.5 371.4,210.1 372.9,211.8 374.4,213.5 375.9,215.1 377.4,216.8 378.8,218.6 380.3,220.3 381.7,222.0 383.1,223.8 384.5,225.5 385.9,227.3 387.2,229.1 388.6,230.8 389.9,232.6 391.2,234.5 392.5,236.3 393.8,238.1 395.1,240.0 396.3,241.8 397.5,243.7 398.7,245.6 399.9,247.5 401.1,249.4 402.3,251.3 403.4,253.2 404.6,255.2 405.7,257.1 406.8,259.1 407.8,261.1 408.9,263.1 409.9,265.1 411.0,267.1 412.0,269.1 412.9,271.1 413.9,273.2 414.8,275.2 415.8,277.3 416.7,279.4 417.5,281.5 418.4,283.6 419.2,285.7 420.0,287.8 420.8,290.0 421.6,292.1" fill="none" stroke="#111" stroke-width="2.0" stroke-linejoin="round"/>
<polyline points="562.9,193.6 560.7,193.8 558.5,194.0 556.3,194.3 554.1,194.6 551.9,194.9 549.7,195.3 547.6,195.7 545.5,196.2 543.3,196.7 541.2,197.2 539.1,197.7 537.0,198.3 535.0,198.9 532.9,199.6 530.9,200.3 528.8,201.0 526.8,201.7 524.8,202.5 522.8,203.3 520.9,204.1 518.9,205.0 517.0,205.9 515.0,206.8 513.1,207.8 511.2,208.7 509.3,209.7 507.5,210.8 505.6,211.8 503.8,212.9 501.9,214.0 500.1,215.1 498.3,216.3 496.5,217.5 494.8,218.7 493.0,219.9 491.3,221.2 489.5,222.4 487.8,223.7 486.1,225.0 484.4,226.4 482.8,227.7 481.1,229.1 479.5,230.5 477.9,231.9 476.3,233.4 474.7,234.8 473.1,236.3 471.5,237.8 470.0,239.3 468.5,240.8 467.0,242.4 465.5,243.9 464.0,245.5 462.5,247.1 461.1,248.7 459.6,250.3 458.2,252.0 456.8,253.6 455.4,255.3 454.0,257.0 452.7,258.7 451.3,260.4 450.0,262.1 448.7,263.8 447.4,265.5 446.1,267.3 444.9,269.1 443.6,270.8 442.4,272.6 441.2,274.4 440.0,276.2 438.8,278.0 437.7,279.8 436.5,281.6 435.4,283.4 434.3,285.3 433.2,287.1 432.1,288.9 431.0,290.8" fill="none" stroke="#111" stroke-width="2.0" stroke-linejoin="round"/>
<text x="426.50" y="176.40" font-size="11.2" fill="#fff" text-anchor="middle" font-weight="normal" font-style="normal" stroke="#fff" stroke-width="0.3">9/13 16:40 -- 16:50</text>
<text x="426.00" y="190.00" font-size="11" fill="#fff" text-anchor="middle" font-weight="normal" font-style="normal" stroke="#fff" stroke-width="0.3">Segment 2</text>
<text x="303.50" y="274.50" font-size="10.5" fill="#fff" text-anchor="start" font-weight="normal" font-style="normal" stroke="#fff" stroke-width="0.3">c)</text>
</g>
<rect x="298.5" y="34.0" width="255.5" height="121.0" fill="none" stroke="#222" stroke-width="1.2"/>
<line x1="298.5" y1="34.0" x2="298.5" y2="31.0" stroke="#222" stroke-width="1"/>
<line x1="330.5" y1="34.0" x2="330.5" y2="31.0" stroke="#222" stroke-width="1"/>
<line x1="362.5" y1="34.0" x2="362.5" y2="31.0" stroke="#222" stroke-width="1"/>
<line x1="394.5" y1="34.0" x2="394.5" y2="31.0" stroke="#222" stroke-width="1"/>
<line x1="426.5" y1="34.0" x2="426.5" y2="31.0" stroke="#222" stroke-width="1"/>
<line x1="458.5" y1="34.0" x2="458.5" y2="31.0" stroke="#222" stroke-width="1"/>
<line x1="490.5" y1="34.0" x2="490.5" y2="31.0" stroke="#222" stroke-width="1"/>
<line x1="522.5" y1="34.0" x2="522.5" y2="31.0" stroke="#222" stroke-width="1"/>
<line x1="554.0" y1="34.0" x2="554.0" y2="31.0" stroke="#222" stroke-width="1"/>
<rect x="298.5" y="162.0" width="255.5" height="120.60000000000002" fill="none" stroke="#222" stroke-width="1.2"/>
<line x1="298.5" y1="162.0" x2="298.5" y2="159.0" stroke="#222" stroke-width="1"/>
<line x1="330.5" y1="162.0" x2="330.5" y2="159.0" stroke="#222" stroke-width="1"/>
<line x1="362.5" y1="162.0" x2="362.5" y2="159.0" stroke="#222" stroke-width="1"/>
<line x1="394.5" y1="162.0" x2="394.5" y2="159.0" stroke="#222" stroke-width="1"/>
<line x1="426.5" y1="162.0" x2="426.5" y2="159.0" stroke="#222" stroke-width="1"/>
<line x1="458.5" y1="162.0" x2="458.5" y2="159.0" stroke="#222" stroke-width="1"/>
<line x1="490.5" y1="162.0" x2="490.5" y2="159.0" stroke="#222" stroke-width="1"/>
<line x1="522.5" y1="162.0" x2="522.5" y2="159.0" stroke="#222" stroke-width="1"/>
<line x1="554.0" y1="162.0" x2="554.0" y2="159.0" stroke="#222" stroke-width="1"/>
<text x="330.50" y="28.50" font-size="9.5" fill="#333" text-anchor="middle" font-weight="normal" font-style="normal" stroke="#333" stroke-width="0.22">−0.06</text>
<text x="394.50" y="28.50" font-size="9.5" fill="#333" text-anchor="middle" font-weight="normal" font-style="normal" stroke="#333" stroke-width="0.22">−0.02</text>
<text x="458.50" y="28.50" font-size="9.5" fill="#333" text-anchor="middle" font-weight="normal" font-style="normal" stroke="#333" stroke-width="0.22">0.02</text>
<text x="522.50" y="28.50" font-size="9.5" fill="#333" text-anchor="middle" font-weight="normal" font-style="normal" stroke="#333" stroke-width="0.22">0.06</text>
<text x="426.00" y="13.40" font-size="11" fill="#333" text-anchor="middle" font-weight="normal" font-style="normal" stroke="#333" stroke-width="0.22">Wavenumber (m<tspan font-size="6.5" dy="-4">−1</tspan><tspan dy="4">)</tspan></text>
<line x1="554.0" y1="136.40" x2="557.0" y2="136.40" stroke="#222" stroke-width="1"/>
<text x="560.50" y="139.80" font-size="9.6" fill="#333" text-anchor="start" font-weight="normal" font-style="normal" stroke="#333" stroke-width="0.22">0.1</text>
<line x1="554.0" y1="118.40" x2="557.0" y2="118.40" stroke="#222" stroke-width="1"/>
<line x1="554.0" y1="100.40" x2="557.0" y2="100.40" stroke="#222" stroke-width="1"/>
<text x="560.50" y="103.80" font-size="9.6" fill="#333" text-anchor="start" font-weight="normal" font-style="normal" stroke="#333" stroke-width="0.22">0.2</text>
<line x1="554.0" y1="82.40" x2="557.0" y2="82.40" stroke="#222" stroke-width="1"/>
<line x1="554.0" y1="64.40" x2="557.0" y2="64.40" stroke="#222" stroke-width="1"/>
<text x="560.50" y="67.80" font-size="9.6" fill="#333" text-anchor="start" font-weight="normal" font-style="normal" stroke="#333" stroke-width="0.22">0.3</text>
<line x1="554.0" y1="46.40" x2="557.0" y2="46.40" stroke="#222" stroke-width="1"/>
<line x1="554.0" y1="263.90" x2="557.0" y2="263.90" stroke="#222" stroke-width="1"/>
<text x="560.50" y="267.30" font-size="9.6" fill="#333" text-anchor="start" font-weight="normal" font-style="normal" stroke="#333" stroke-width="0.22">0.1</text>
<line x1="554.0" y1="245.70" x2="557.0" y2="245.70" stroke="#222" stroke-width="1"/>
<line x1="554.0" y1="227.50" x2="557.0" y2="227.50" stroke="#222" stroke-width="1"/>
<text x="560.50" y="230.90" font-size="9.6" fill="#333" text-anchor="start" font-weight="normal" font-style="normal" stroke="#333" stroke-width="0.22">0.2</text>
<line x1="554.0" y1="209.30" x2="557.0" y2="209.30" stroke="#222" stroke-width="1"/>
<line x1="554.0" y1="191.10" x2="557.0" y2="191.10" stroke="#222" stroke-width="1"/>
<text x="560.50" y="194.50" font-size="9.6" fill="#333" text-anchor="start" font-weight="normal" font-style="normal" stroke="#333" stroke-width="0.22">0.3</text>
<line x1="554.0" y1="172.90" x2="557.0" y2="172.90" stroke="#222" stroke-width="1"/>
<g transform="translate(590,95.3) rotate(-90)">
<text x="0.00" y="0.00" font-size="11.2" fill="#333" text-anchor="middle" font-weight="normal" font-style="normal" stroke="#333" stroke-width="0.22">Frequency (Hz)</text>
</g>
<g transform="translate(590,223.5) rotate(-90)">
<text x="0.00" y="0.00" font-size="11.2" fill="#333" text-anchor="middle" font-weight="normal" font-style="normal" stroke="#333" stroke-width="0.22">Frequency (Hz)</text>
</g>
<text x="325.00" y="260.40" font-size="10.3" fill="#fff" text-anchor="start" font-weight="normal" font-style="italic" stroke="#fff" stroke-width="0.3">θ</text>
<text x="344.20" y="260.40" font-size="10.3" fill="#fff" text-anchor="start" font-weight="normal" font-style="normal" stroke="#fff" stroke-width="0.3">240</text>
<text x="363.80" y="257.50" font-size="7.5" fill="#fff" text-anchor="start" font-weight="normal" font-style="normal" stroke="#fff" stroke-width="0.2">°</text>
<text x="324.20" y="274.30" font-size="10.3" fill="#fff" text-anchor="start" font-weight="normal" font-style="italic" stroke="#fff" stroke-width="0.3">U</text>
<text x="344.20" y="274.30" font-size="10.3" fill="#fff" text-anchor="start" font-weight="normal" font-style="normal" stroke="#fff" stroke-width="0.3">0.7</text>
<text x="362.40" y="274.30" font-size="10.3" fill="#fff" text-anchor="start" font-weight="normal" font-style="normal" stroke="#fff" stroke-width="0.3">m</text>
<text x="373.20" y="274.30" font-size="10.3" fill="#fff" text-anchor="start" font-weight="normal" font-style="normal" stroke="#fff" stroke-width="0.3">s</text>
<text x="379.00" y="269.60" font-size="5.8" fill="#fff" text-anchor="start" font-weight="normal" font-style="normal" stroke="#fff" stroke-width="0.15">−1</text>
<path d="M334.3,255.1 q1.85,-1.7 3.7,0 t3.7,0" fill="none" stroke="#fff" stroke-width="1.15"/>
<path d="M334.3,257.7 q1.85,-1.7 3.7,0 t3.7,0" fill="none" stroke="#fff" stroke-width="1.15"/>
<path d="M334.3,269.0 q1.85,-1.7 3.7,0 t3.7,0" fill="none" stroke="#fff" stroke-width="1.15"/>
<path d="M334.3,271.6 q1.85,-1.7 3.7,0 t3.7,0" fill="none" stroke="#fff" stroke-width="1.15"/>
<rect x="476.7" y="238.5" width="73.5" height="40" rx="3" fill="rgba(225,228,240,0.82)"/>
<defs><linearGradient id="gSpec" x1="0" x2="1" y1="0" y2="0"><stop offset="0" stop-color="rgb(47, 53, 160)"/><stop offset="0.18" stop-color="rgb(56, 78, 185)"/><stop offset="0.32" stop-color="rgb(80, 130, 205)"/><stop offset="0.45" stop-color="rgb(150, 200, 232)"/><stop offset="0.56" stop-color="rgb(225, 243, 240)"/><stop offset="0.64" stop-color="rgb(254, 240, 170)"/><stop offset="0.74" stop-color="rgb(250, 175, 95)"/><stop offset="0.86" stop-color="rgb(230, 80, 50)"/><stop offset="1.0" stop-color="rgb(175, 20, 35)"/></linearGradient></defs>
<rect x="480.5" y="255.3" width="63.5" height="6.5" fill="url(#gSpec)"/>
<line x1="500.8" y1="261.8" x2="500.8" y2="264.5" stroke="#333" stroke-width="1.1"/>
<line x1="521.5" y1="261.8" x2="521.5" y2="264.5" stroke="#333" stroke-width="1.1"/>
<line x1="542.1" y1="261.8" x2="542.1" y2="264.5" stroke="#333" stroke-width="1.1"/>
<text x="500.80" y="274.40" font-size="8.4" fill="#333" text-anchor="middle" font-weight="normal" font-style="normal" stroke-width="0.1" stroke="#333">−90</text>
<text x="521.50" y="274.40" font-size="8.4" fill="#333" text-anchor="middle" font-weight="normal" font-style="normal" stroke-width="0.1" stroke="#333">−80</text>
<text x="542.10" y="274.40" font-size="8.4" fill="#333" text-anchor="middle" font-weight="normal" font-style="normal" stroke-width="0.1" stroke="#333">−70</text>
<text x="512.80" y="250.00" font-size="7.8" fill="#333" text-anchor="middle" font-weight="normal" font-style="normal" stroke="#333" stroke-width="0.22">dB [20log<tspan font-size="5.5" dy="2">10</tspan><tspan dy="-2">(ε s</tspan><tspan font-size="5.5" dy="-3.5">−1</tspan><tspan dy="3.5">)]</tspan></text>
<g clip-path="url(#clipD)">
<polyline points="38.5,295.01 41.5,295.48 44.5,296.63 47.5,298.41 50.5,300.76 53.5,303.58 56.5,306.76 59.5,310.17 62.5,313.67 65.5,317.12 68.5,320.39 71.5,323.35 74.5,325.86 77.5,327.85 80.5,329.21 83.5,329.91 86.5,329.91 89.5,329.21 92.5,327.85 95.5,325.86 98.5,323.35 101.5,320.39 104.5,317.12 107.5,313.67 110.5,310.17 113.5,306.76 116.5,303.58 119.5,300.76 122.5,298.41 125.5,296.63 128.5,295.48 131.5,295.01 134.5,295.24 137.5,296.17 140.5,297.75 143.5,299.92 146.5,302.60 149.5,305.67 152.5,309.01 155.5,312.50 158.5,315.99 161.5,319.33 164.5,322.40 167.5,325.08 170.5,327.25 173.5,328.83 176.5,329.76 179.5,329.99 182.5,329.52 185.5,328.37 188.5,326.59 191.5,324.24 194.5,321.42 197.5,318.24 200.5,314.83 203.5,311.33 206.5,307.88 209.5,304.61 212.5,301.65 215.5,299.14 218.5,297.15 221.5,295.79 224.5,295.09 227.5,295.09 230.5,295.79 233.5,297.15 236.5,299.14 239.5,301.65 242.5,304.61 245.5,307.88 248.5,311.33 251.5,314.83 254.5,318.24 257.5,321.42 260.5,324.24 263.5,326.59 266.5,328.37 269.5,329.52 272.5,329.99 275.5,329.76 278.5,328.83 281.5,327.25 284.5,325.08 287.5,322.40 290.5,319.33 293.5,315.99 296.5,312.50 299.5,309.01 302.5,305.71 305.5,302.71 308.5,300.12 311.5,298.04 314.5,296.55 317.5,295.72 320.5,295.57 323.5,296.11 326.5,297.32 329.5,299.13 332.5,301.49 335.5,304.29 338.5,307.41 341.5,310.74 344.5,314.15 347.5,317.49 350.5,320.63 353.5,323.46 356.5,325.85 359.5,327.73 362.5,329.01 365.5,329.66 368.5,329.65 371.5,328.98 374.5,327.70 377.5,325.85 380.5,323.51 383.5,320.79 386.5,317.79 389.5,314.63 392.5,311.45 395.5,308.38 398.5,305.54 401.5,303.03 404.5,300.97 407.5,299.43 410.5,298.47 413.5,298.14 416.5,298.43 419.5,299.34 422.5,300.82 425.5,302.82 428.5,305.26 431.5,308.03 434.5,311.02 437.5,314.12 440.5,317.20 443.5,320.14 446.5,322.83 449.5,325.15 452.5,327.03 455.5,328.38 458.5,329.17 461.5,329.36 464.5,328.95 467.5,327.96 470.5,326.44 473.5,324.46 476.5,322.09 479.5,319.43 482.5,316.60 485.5,313.72 488.5,310.89 491.5,308.23 494.5,305.85 497.5,303.84 500.5,302.29 503.5,301.25 506.5,300.76 509.5,300.84 512.5,301.49 515.5,302.67 518.5,304.34 521.5,306.43 524.5,308.85 527.5,311.51 530.5,314.30 533.5,317.10 536.5,319.81 539.5,322.32 542.5,324.54 545.5,326.38 548.5,327.76 551.5,328.64 554.5,328.99 557.5,328.80" fill="none" stroke="#a5b6ca" stroke-width="2.2" stroke-linejoin="round"/>
<polyline points="38.5,324.54 41.5,324.01 44.5,324.28 47.5,325.34 50.5,327.14 53.5,329.62 56.5,332.68 59.5,336.19 62.5,340.02 65.5,344.00 68.5,347.98 71.5,351.81 74.5,355.32 77.5,358.38 80.5,360.86 83.5,362.66 86.5,363.72 89.5,363.99 92.5,363.46 95.5,362.14 98.5,360.10 101.5,357.42 104.5,354.19 107.5,350.56 110.5,346.67 113.5,342.66 116.5,338.72 119.5,334.98 122.5,331.61 125.5,328.73 128.5,326.46 131.5,324.90 134.5,324.10 137.5,324.10 140.5,324.90 143.5,326.46 146.5,328.73 149.5,331.61 152.5,334.98 155.5,338.72 158.5,342.66 161.5,346.67 164.5,350.56 167.5,354.19 170.5,357.42 173.5,360.10 176.5,362.14 179.5,363.46 182.5,363.99 185.5,363.72 188.5,362.66 191.5,360.86 194.5,358.38 197.5,355.32 200.5,351.81 203.5,347.98 206.5,344.00 209.5,340.02 212.5,336.19 215.5,332.68 218.5,329.62 221.5,327.14 224.5,325.34 227.5,324.28 230.5,324.01 233.5,324.54 236.5,325.86 239.5,327.90 242.5,330.58 245.5,333.81 248.5,337.44 251.5,341.33 254.5,345.34 257.5,349.28 260.5,353.02 263.5,356.39 266.5,359.27 269.5,361.54 272.5,363.10 275.5,363.90 278.5,363.90 281.5,363.10 284.5,361.54 287.5,359.27 290.5,356.39 293.5,353.02 296.5,349.28 299.5,345.34 302.5,341.35 305.5,337.49 308.5,333.91 311.5,330.74 314.5,328.12 317.5,326.15 320.5,324.90 323.5,324.43 326.5,324.74 329.5,325.84 332.5,327.66 335.5,330.13 338.5,333.17 341.5,336.63 344.5,340.38 347.5,344.28 350.5,348.16 353.5,351.88 356.5,355.27 359.5,358.22 362.5,360.60 365.5,362.33 368.5,363.33 371.5,363.57 374.5,363.04 377.5,361.77 380.5,359.81 383.5,357.25 386.5,354.18 389.5,350.74 392.5,347.07 395.5,343.30 398.5,339.61 401.5,336.12 404.5,332.99 407.5,330.33 410.5,328.26 413.5,326.85 416.5,326.16 419.5,326.21 422.5,327.00 425.5,328.50 428.5,330.64 431.5,333.34 434.5,336.49 437.5,339.96 440.5,343.60 443.5,347.29 446.5,350.86 449.5,354.18 452.5,357.11 455.5,359.54 458.5,361.38 461.5,362.55 464.5,363.02 467.5,362.76 470.5,361.79 473.5,360.16 476.5,357.92 479.5,355.18 482.5,352.04 485.5,348.64 488.5,345.11 491.5,341.60 494.5,338.24 497.5,335.17 500.5,332.51 503.5,330.37 506.5,328.83 509.5,327.96 512.5,327.77 515.5,328.29 518.5,329.49 521.5,331.31 524.5,333.69 527.5,336.52 530.5,339.69 533.5,343.08 536.5,346.55 539.5,349.95 542.5,353.16 545.5,356.05 548.5,358.50 551.5,360.42 554.5,361.73 557.5,362.39" fill="none" stroke="#a5b6ca" stroke-width="2.2" stroke-dasharray="6,4.5" stroke-linejoin="round"/>
<line x1="38.5" y1="330.5" x2="554.0" y2="330.5" stroke="#f4e0c6" stroke-width="1.3"/>
<path d="M38.5,330.5L42.7,329.3" stroke="#efd2b0" stroke-width="1.2"/>
<path d="M41.5,330.5L46.8,329.4" stroke="#efd2b0" stroke-width="1.2"/>
<path d="M44.5,330.5L51.4,329.7" stroke="#efd2b0" stroke-width="1.2"/>
<path d="M47.5,330.5L53.0,330.4" stroke="#efd2b0" stroke-width="1.2"/>
<path d="M50.5,330.5L55.3,329.8" stroke="#efd2b0" stroke-width="1.2"/>
<path d="M53.5,330.5L59.5,329.3" stroke="#efd2b0" stroke-width="1.2"/>
<path d="M56.5,330.5L61.6,330.4" stroke="#efd2b0" stroke-width="1.2"/>
<path d="M59.5,330.5L64.4,329.1" stroke="#efd2b0" stroke-width="1.2"/>
<path d="M62.5,330.5L67.1,329.8" stroke="#efd2b0" stroke-width="1.2"/>
<path d="M65.5,330.5L72.3,330.5" stroke="#efd2b0" stroke-width="1.2"/>
<path d="M68.5,330.5L74.3,329.1" stroke="#efd2b0" stroke-width="1.2"/>
<path d="M71.5,330.5L76.2,329.7" stroke="#efd2b0" stroke-width="1.2"/>
<path d="M74.5,330.5L81.2,330.3" stroke="#efd2b0" stroke-width="1.2"/>
<path d="M77.5,330.5L83.1,329.4" stroke="#efd2b0" stroke-width="1.2"/>
<path d="M80.5,330.5L86.5,329.8" stroke="#efd2b0" stroke-width="1.2"/>
<path d="M83.5,330.5L88.1,329.8" stroke="#efd2b0" stroke-width="1.2"/>
<path d="M86.5,330.5L91.6,329.8" stroke="#efd2b0" stroke-width="1.2"/>
<path d="M89.5,330.5L94.6,329.2" stroke="#efd2b0" stroke-width="1.2"/>
<path d="M92.5,330.5L98.8,330.0" stroke="#efd2b0" stroke-width="1.2"/>
<path d="M95.5,330.5L101.2,330.1" stroke="#efd2b0" stroke-width="1.2"/>
<path d="M98.5,330.5L103.9,330.0" stroke="#efd2b0" stroke-width="1.2"/>
<path d="M101.5,330.5L107.5,329.9" stroke="#efd2b0" stroke-width="1.2"/>
<path d="M104.5,330.5L109.9,329.4" stroke="#efd2b0" stroke-width="1.2"/>
<path d="M107.5,330.5L112.7,329.1" stroke="#efd2b0" stroke-width="1.2"/>
<path d="M110.5,330.5L115.0,329.4" stroke="#efd2b0" stroke-width="1.2"/>
<path d="M113.5,330.5L118.8,329.9" stroke="#efd2b0" stroke-width="1.2"/>
<path d="M116.5,330.5L122.4,329.7" stroke="#efd2b0" stroke-width="1.2"/>
<path d="M119.5,330.5L124.7,330.5" stroke="#efd2b0" stroke-width="1.2"/>
<path d="M122.5,330.5L126.8,329.4" stroke="#efd2b0" stroke-width="1.2"/>
<path d="M125.5,330.5L131.1,329.5" stroke="#efd2b0" stroke-width="1.2"/>
<path d="M128.5,330.5L135.4,329.5" stroke="#efd2b0" stroke-width="1.2"/>
<path d="M131.5,330.5L135.7,330.0" stroke="#efd2b0" stroke-width="1.2"/>
<path d="M134.5,330.5L140.3,330.1" stroke="#efd2b0" stroke-width="1.2"/>
<path d="M137.5,330.5L144.4,329.1" stroke="#efd2b0" stroke-width="1.2"/>
<path d="M140.5,330.5L147.0,329.8" stroke="#efd2b0" stroke-width="1.2"/>
<path d="M143.5,330.5L150.0,330.3" stroke="#efd2b0" stroke-width="1.2"/>
<path d="M146.5,330.5L151.4,329.8" stroke="#efd2b0" stroke-width="1.2"/>
<path d="M149.5,330.5L155.7,329.8" stroke="#efd2b0" stroke-width="1.2"/>
<path d="M152.5,330.5L156.9,330.0" stroke="#efd2b0" stroke-width="1.2"/>
<path d="M155.5,330.5L160.5,330.0" stroke="#efd2b0" stroke-width="1.2"/>
<path d="M158.5,330.5L163.0,329.9" stroke="#efd2b0" stroke-width="1.2"/>
<path d="M161.5,330.5L166.8,329.3" stroke="#efd2b0" stroke-width="1.2"/>
<path d="M164.5,330.5L170.9,329.7" stroke="#efd2b0" stroke-width="1.2"/>
<path d="M167.5,330.5L172.9,329.3" stroke="#efd2b0" stroke-width="1.2"/>
<path d="M170.5,330.5L177.2,329.5" stroke="#efd2b0" stroke-width="1.2"/>
<path d="M173.5,330.5L179.9,329.1" stroke="#efd2b0" stroke-width="1.2"/>
<path d="M176.5,330.5L180.6,329.2" stroke="#efd2b0" stroke-width="1.2"/>
<path d="M179.5,330.5L184.3,329.8" stroke="#efd2b0" stroke-width="1.2"/>
<path d="M182.5,330.5L188.9,329.4" stroke="#efd2b0" stroke-width="1.2"/>
<path d="M185.5,330.5L189.9,329.5" stroke="#efd2b0" stroke-width="1.2"/>
<path d="M188.5,330.5L192.7,330.0" stroke="#efd2b0" stroke-width="1.2"/>
<path d="M191.5,330.5L197.9,329.9" stroke="#efd2b0" stroke-width="1.2"/>
<path d="M194.5,330.5L200.3,329.4" stroke="#efd2b0" stroke-width="1.2"/>
<path d="M197.5,330.5L204.0,329.4" stroke="#efd2b0" stroke-width="1.2"/>
<path d="M200.5,330.5L204.5,329.9" stroke="#efd2b0" stroke-width="1.2"/>
<path d="M203.5,330.5L208.9,330.4" stroke="#efd2b0" stroke-width="1.2"/>
<path d="M206.5,330.5L212.1,329.6" stroke="#efd2b0" stroke-width="1.2"/>
<path d="M209.5,330.5L216.0,329.1" stroke="#efd2b0" stroke-width="1.2"/>
<path d="M212.5,330.5L216.9,330.2" stroke="#efd2b0" stroke-width="1.2"/>
<path d="M215.5,330.5L221.5,330.3" stroke="#efd2b0" stroke-width="1.2"/>
<path d="M218.5,330.5L223.2,329.6" stroke="#efd2b0" stroke-width="1.2"/>
<path d="M221.5,330.5L226.0,329.3" stroke="#efd2b0" stroke-width="1.2"/>
<path d="M224.5,330.5L231.1,330.4" stroke="#efd2b0" stroke-width="1.2"/>
<path d="M227.5,330.5L233.1,329.3" stroke="#efd2b0" stroke-width="1.2"/>
<path d="M230.5,330.5L237.4,330.1" stroke="#efd2b0" stroke-width="1.2"/>
<path d="M233.5,330.5L238.0,329.2" stroke="#efd2b0" stroke-width="1.2"/>
<path d="M236.5,330.5L243.2,330.2" stroke="#efd2b0" stroke-width="1.2"/>
<path d="M239.5,330.5L244.8,329.4" stroke="#efd2b0" stroke-width="1.2"/>
<path d="M242.5,330.5L249.0,330.2" stroke="#efd2b0" stroke-width="1.2"/>
<path d="M245.5,330.5L251.5,329.3" stroke="#efd2b0" stroke-width="1.2"/>
<path d="M248.5,330.5L254.1,330.3" stroke="#efd2b0" stroke-width="1.2"/>
<path d="M251.5,330.5L255.6,330.1" stroke="#efd2b0" stroke-width="1.2"/>
<path d="M254.5,330.5L260.9,330.4" stroke="#efd2b0" stroke-width="1.2"/>
<path d="M257.5,330.5L261.5,330.0" stroke="#efd2b0" stroke-width="1.2"/>
<path d="M260.5,330.5L264.7,330.3" stroke="#efd2b0" stroke-width="1.2"/>
<path d="M263.5,330.5L267.6,329.7" stroke="#efd2b0" stroke-width="1.2"/>
<path d="M266.5,330.5L272.6,329.9" stroke="#efd2b0" stroke-width="1.2"/>
<path d="M269.5,330.5L273.9,330.0" stroke="#efd2b0" stroke-width="1.2"/>
<path d="M272.5,330.5L278.3,329.1" stroke="#efd2b0" stroke-width="1.2"/>
<path d="M275.5,330.5L282.5,330.1" stroke="#efd2b0" stroke-width="1.2"/>
<path d="M278.5,330.5L282.5,329.3" stroke="#efd2b0" stroke-width="1.2"/>
<path d="M281.5,330.5L288.3,329.8" stroke="#efd2b0" stroke-width="1.2"/>
<path d="M284.5,330.5L290.8,329.2" stroke="#efd2b0" stroke-width="1.2"/>
<path d="M287.5,330.5L293.3,329.2" stroke="#efd2b0" stroke-width="1.2"/>
<path d="M290.5,330.5L294.6,330.1" stroke="#efd2b0" stroke-width="1.2"/>
<path d="M293.5,330.5L298.3,330.3" stroke="#efd2b0" stroke-width="1.2"/>
<path d="M296.5,330.5L303.2,330.5" stroke="#efd2b0" stroke-width="1.2"/>
<path d="M299.5,330.5L305.5,330.4" stroke="#efd2b0" stroke-width="1.2"/>
<path d="M302.5,330.5L307.6,329.9" stroke="#efd2b0" stroke-width="1.2"/>
<path d="M305.5,330.5L310.0,329.7" stroke="#efd2b0" stroke-width="1.2"/>
<path d="M308.5,330.5L314.1,330.0" stroke="#efd2b0" stroke-width="1.2"/>
<path d="M311.5,330.5L317.7,330.3" stroke="#efd2b0" stroke-width="1.2"/>
<path d="M314.5,330.5L319.1,330.0" stroke="#efd2b0" stroke-width="1.2"/>
<path d="M317.5,330.5L322.6,330.2" stroke="#efd2b0" stroke-width="1.2"/>
<path d="M320.5,330.5L327.3,329.3" stroke="#efd2b0" stroke-width="1.2"/>
<path d="M323.5,330.5L327.8,329.9" stroke="#efd2b0" stroke-width="1.2"/>
<path d="M326.5,330.5L331.2,329.8" stroke="#efd2b0" stroke-width="1.2"/>
<path d="M329.5,330.5L334.3,329.7" stroke="#efd2b0" stroke-width="1.2"/>
<path d="M332.5,330.5L339.3,329.9" stroke="#efd2b0" stroke-width="1.2"/>
<path d="M335.5,330.5L341.5,329.6" stroke="#efd2b0" stroke-width="1.2"/>
<path d="M338.5,330.5L344.8,330.4" stroke="#efd2b0" stroke-width="1.2"/>
<path d="M341.5,330.5L347.7,329.1" stroke="#efd2b0" stroke-width="1.2"/>
<path d="M344.5,330.5L350.3,330.1" stroke="#efd2b0" stroke-width="1.2"/>
<path d="M347.5,330.5L353.5,329.4" stroke="#efd2b0" stroke-width="1.2"/>
<path d="M350.5,330.5L356.5,330.3" stroke="#efd2b0" stroke-width="1.2"/>
<path d="M353.5,330.5L360.4,329.1" stroke="#efd2b0" stroke-width="1.2"/>
<path d="M356.5,330.5L361.8,329.6" stroke="#efd2b0" stroke-width="1.2"/>
<path d="M359.5,330.5L363.6,329.0" stroke="#efd2b0" stroke-width="1.2"/>
<path d="M362.5,330.5L369.0,329.5" stroke="#efd2b0" stroke-width="1.2"/>
<path d="M365.5,330.5L371.8,330.2" stroke="#efd2b0" stroke-width="1.2"/>
<path d="M368.5,330.5L373.4,330.1" stroke="#efd2b0" stroke-width="1.2"/>
<path d="M371.5,330.5L377.3,330.4" stroke="#efd2b0" stroke-width="1.2"/>
<path d="M374.5,330.5L381.2,329.8" stroke="#efd2b0" stroke-width="1.2"/>
<path d="M377.5,330.5L382.8,330.3" stroke="#efd2b0" stroke-width="1.2"/>
<path d="M380.5,330.5L386.6,329.3" stroke="#efd2b0" stroke-width="1.2"/>
<path d="M383.5,330.5L389.4,330.1" stroke="#efd2b0" stroke-width="1.2"/>
<path d="M386.5,330.5L392.9,330.3" stroke="#efd2b0" stroke-width="1.2"/>
<path d="M389.5,330.5L396.0,329.6" stroke="#efd2b0" stroke-width="1.2"/>
<path d="M392.5,330.5L397.4,329.7" stroke="#efd2b0" stroke-width="1.2"/>
<path d="M395.5,330.5L401.4,330.1" stroke="#efd2b0" stroke-width="1.2"/>
<path d="M398.5,330.5L405.0,329.9" stroke="#efd2b0" stroke-width="1.2"/>
<path d="M401.5,330.5L408.2,329.2" stroke="#efd2b0" stroke-width="1.2"/>
<path d="M404.5,330.5L408.8,329.5" stroke="#efd2b0" stroke-width="1.2"/>
<path d="M407.5,330.5L412.4,329.4" stroke="#efd2b0" stroke-width="1.2"/>
<path d="M410.5,330.5L416.1,329.8" stroke="#efd2b0" stroke-width="1.2"/>
<path d="M413.5,330.5L420.2,330.4" stroke="#efd2b0" stroke-width="1.2"/>
<path d="M416.5,330.5L422.2,330.0" stroke="#efd2b0" stroke-width="1.2"/>
<path d="M419.5,330.5L423.6,329.4" stroke="#efd2b0" stroke-width="1.2"/>
<path d="M422.5,330.5L428.2,329.2" stroke="#efd2b0" stroke-width="1.2"/>
<path d="M425.5,330.5L431.3,330.0" stroke="#efd2b0" stroke-width="1.2"/>
<path d="M428.5,330.5L435.5,330.3" stroke="#efd2b0" stroke-width="1.2"/>
<path d="M431.5,330.5L435.7,329.4" stroke="#efd2b0" stroke-width="1.2"/>
<path d="M434.5,330.5L439.6,330.0" stroke="#efd2b0" stroke-width="1.2"/>
<path d="M437.5,330.5L444.1,330.0" stroke="#efd2b0" stroke-width="1.2"/>
<path d="M440.5,330.5L447.2,329.5" stroke="#efd2b0" stroke-width="1.2"/>
<path d="M443.5,330.5L448.5,330.4" stroke="#efd2b0" stroke-width="1.2"/>
<path d="M446.5,330.5L451.2,329.0" stroke="#efd2b0" stroke-width="1.2"/>
<path d="M449.5,330.5L454.7,330.3" stroke="#efd2b0" stroke-width="1.2"/>
<path d="M452.5,330.5L457.4,329.2" stroke="#efd2b0" stroke-width="1.2"/>
<path d="M455.5,330.5L460.0,329.3" stroke="#efd2b0" stroke-width="1.2"/>
<path d="M458.5,330.5L462.9,329.1" stroke="#efd2b0" stroke-width="1.2"/>
<path d="M461.5,330.5L467.1,330.4" stroke="#efd2b0" stroke-width="1.2"/>
<path d="M464.5,330.5L471.3,330.0" stroke="#efd2b0" stroke-width="1.2"/>
<path d="M467.5,330.5L473.7,329.7" stroke="#efd2b0" stroke-width="1.2"/>
<path d="M470.5,330.5L474.8,330.3" stroke="#efd2b0" stroke-width="1.2"/>
<path d="M473.5,330.5L477.9,330.3" stroke="#efd2b0" stroke-width="1.2"/>
<path d="M476.5,330.5L480.7,330.4" stroke="#efd2b0" stroke-width="1.2"/>
<path d="M479.5,330.5L486.3,330.4" stroke="#efd2b0" stroke-width="1.2"/>
<path d="M482.5,330.5L488.0,330.3" stroke="#efd2b0" stroke-width="1.2"/>
<path d="M485.5,330.5L490.1,329.4" stroke="#efd2b0" stroke-width="1.2"/>
<path d="M488.5,330.5L495.3,329.8" stroke="#efd2b0" stroke-width="1.2"/>
<path d="M491.5,330.5L495.5,329.0" stroke="#efd2b0" stroke-width="1.2"/>
<path d="M494.5,330.5L498.6,329.9" stroke="#efd2b0" stroke-width="1.2"/>
<path d="M497.5,330.5L503.1,329.2" stroke="#efd2b0" stroke-width="1.2"/>
<path d="M500.5,330.5L507.0,329.6" stroke="#efd2b0" stroke-width="1.2"/>
<path d="M503.5,330.5L508.7,329.2" stroke="#efd2b0" stroke-width="1.2"/>
<path d="M506.5,330.5L513.1,329.2" stroke="#efd2b0" stroke-width="1.2"/>
<path d="M509.5,330.5L515.7,330.4" stroke="#efd2b0" stroke-width="1.2"/>
<path d="M512.5,330.5L517.4,329.8" stroke="#efd2b0" stroke-width="1.2"/>
<path d="M515.5,330.5L521.0,329.3" stroke="#efd2b0" stroke-width="1.2"/>
<path d="M518.5,330.5L523.2,329.5" stroke="#efd2b0" stroke-width="1.2"/>
<path d="M521.5,330.5L526.6,329.3" stroke="#efd2b0" stroke-width="1.2"/>
<path d="M524.5,330.5L529.1,329.8" stroke="#efd2b0" stroke-width="1.2"/>
<path d="M527.5,330.5L531.8,330.2" stroke="#efd2b0" stroke-width="1.2"/>
<path d="M530.5,330.5L537.3,330.0" stroke="#efd2b0" stroke-width="1.2"/>
<path d="M533.5,330.5L540.2,329.7" stroke="#efd2b0" stroke-width="1.2"/>
<path d="M536.5,330.5L540.6,329.3" stroke="#efd2b0" stroke-width="1.2"/>
<path d="M539.5,330.5L543.7,329.3" stroke="#efd2b0" stroke-width="1.2"/>
<path d="M542.5,330.5L546.5,329.5" stroke="#efd2b0" stroke-width="1.2"/>
<path d="M545.5,330.5L550.0,330.0" stroke="#efd2b0" stroke-width="1.2"/>
<path d="M548.5,330.5L555.4,329.8" stroke="#efd2b0" stroke-width="1.2"/>
<path d="M551.5,330.5L557.5,329.4" stroke="#efd2b0" stroke-width="1.2"/>
<path d="M66.0,330.5L90.8,322.7" stroke="#dd6c7b" stroke-width="1.1" fill="none"/><path d="M93.7,321.8L91.3,324.4L90.3,321.1Z" fill="#dd6c7b"/>
<path d="M69.7,330.5L94.0,322.3" stroke="#d55e7a" stroke-width="1.1" fill="none"/><path d="M96.8,321.4L94.5,323.9L93.4,320.7Z" fill="#d55e7a"/>
<path d="M73.3,330.5L94.6,322.7" stroke="#da667b" stroke-width="1.1" fill="none"/><path d="M97.4,321.7L95.2,324.3L94.0,321.1Z" fill="#da667b"/>
<path d="M77.0,330.5L93.2,324.0" stroke="#db687b" stroke-width="1.1" fill="none"/><path d="M95.9,322.9L93.8,325.6L92.5,322.4Z" fill="#db687b"/>
<path d="M80.7,330.5L99.0,322.2" stroke="#d9627a" stroke-width="1.1" fill="none"/><path d="M101.8,321.0L99.7,323.8L98.3,320.7Z" fill="#d9627a"/>
<path d="M84.3,330.5L98.7,323.1" stroke="#e1787c" stroke-width="1.1" fill="none"/><path d="M101.4,321.7L99.5,324.6L97.9,321.6Z" fill="#e1787c"/>
<path d="M88.0,330.5L100.0,323.2" stroke="#db677b" stroke-width="1.1" fill="none"/><path d="M102.6,321.6L100.9,324.6L99.2,321.7Z" fill="#db677b"/>
<path d="M118.0,330.5L74.5,334.9" stroke="#c6527b" stroke-width="1.1" fill="none"/><path d="M71.5,335.2L74.3,333.2L74.6,336.6Z" fill="#c6527b"/>
<path d="M119.6,330.5L78.2,335.3" stroke="#d45d7a" stroke-width="1.1" fill="none"/><path d="M75.2,335.6L78.0,333.6L78.4,337.0Z" fill="#d45d7a"/>
<path d="M121.2,330.5L76.0,336.3" stroke="#d45d7a" stroke-width="1.1" fill="none"/><path d="M73.0,336.7L75.8,334.6L76.2,338.0Z" fill="#d45d7a"/>
<path d="M122.8,330.5L71.8,337.8" stroke="#c6527b" stroke-width="1.1" fill="none"/><path d="M68.9,338.2L71.6,336.1L72.1,339.4Z" fill="#c6527b"/>
<path d="M124.4,330.5L79.2,337.6" stroke="#d35d7a" stroke-width="1.1" fill="none"/><path d="M76.2,338.0L78.9,335.9L79.4,339.2Z" fill="#d35d7a"/>
<path d="M126.0,330.5L84.0,337.6" stroke="#d9637a" stroke-width="1.1" fill="none"/><path d="M81.1,338.1L83.7,336.0L84.3,339.3Z" fill="#d9637a"/>
<path d="M127.6,330.5L77.8,339.6" stroke="#d05a7a" stroke-width="1.1" fill="none"/><path d="M74.9,340.2L77.5,338.0L78.2,341.3Z" fill="#d05a7a"/>
<path d="M129.2,330.5L88.3,338.6" stroke="#d45d7a" stroke-width="1.1" fill="none"/><path d="M85.3,339.2L87.9,336.9L88.6,340.3Z" fill="#d45d7a"/>
<path d="M130.8,330.5L85.5,340.1" stroke="#cd577a" stroke-width="1.1" fill="none"/><path d="M82.6,340.7L85.2,338.4L85.9,341.8Z" fill="#cd577a"/>
<path d="M132.4,330.5L83.2,341.6" stroke="#d45d7a" stroke-width="1.1" fill="none"/><path d="M80.2,342.3L82.8,340.0L83.5,343.3Z" fill="#d45d7a"/>
<path d="M134.0,330.5L87.1,341.8" stroke="#cd587a" stroke-width="1.1" fill="none"/><path d="M84.2,342.5L86.7,340.1L87.5,343.4Z" fill="#cd587a"/>
<path d="M124.0,330.5L92.5,347.2" stroke="#d65e7a" stroke-width="1.1" fill="none"/><path d="M89.9,348.6L91.7,345.7L93.3,348.7Z" fill="#d65e7a"/>
<path d="M126.0,330.5L101.0,343.7" stroke="#d05a7a" stroke-width="1.1" fill="none"/><path d="M98.4,345.1L100.3,342.2L101.8,345.2Z" fill="#d05a7a"/>
<path d="M128.0,330.5L105.0,342.6" stroke="#db687b" stroke-width="1.1" fill="none"/><path d="M102.3,344.0L104.2,341.1L105.7,344.1Z" fill="#db687b"/>
<path d="M130.0,330.5L107.4,342.3" stroke="#de6f7c" stroke-width="1.1" fill="none"/><path d="M104.8,343.6L106.6,340.7L108.2,343.8Z" fill="#de6f7c"/>
<path d="M132.0,330.5L110.0,341.9" stroke="#e0767c" stroke-width="1.1" fill="none"/><path d="M107.3,343.3L109.2,340.4L110.7,343.4Z" fill="#e0767c"/>
<path d="M134.0,330.5L107.3,344.2" stroke="#dc6b7b" stroke-width="1.1" fill="none"/><path d="M104.6,345.6L106.5,342.7L108.1,345.7Z" fill="#dc6b7b"/>
<path d="M136.0,330.5L109.9,343.8" stroke="#e27a7d" stroke-width="1.1" fill="none"/><path d="M107.2,345.1L109.1,342.3L110.7,345.3Z" fill="#e27a7d"/>
<path d="M138.0,330.5L113.8,342.7" stroke="#e6857e" stroke-width="1.1" fill="none"/><path d="M111.1,344.1L113.0,341.2L114.5,344.2Z" fill="#e6857e"/>
<path d="M140.0,330.5L119.4,340.8" stroke="#e7887e" stroke-width="1.1" fill="none"/><path d="M116.7,342.1L118.6,339.3L120.2,342.3Z" fill="#e7887e"/>
<path d="M160.0,330.5L179.9,311.5" stroke="#dc6b7b" stroke-width="1.1" fill="none"/><path d="M182.1,309.4L181.1,312.7L178.7,310.3Z" fill="#dc6b7b"/>
<path d="M162.7,330.5L178.7,316.1" stroke="#d8617a" stroke-width="1.1" fill="none"/><path d="M180.9,314.1L179.8,317.3L177.5,314.8Z" fill="#d8617a"/>
<path d="M165.3,330.5L182.9,315.6" stroke="#dc6b7b" stroke-width="1.1" fill="none"/><path d="M185.2,313.6L184.0,316.9L181.8,314.3Z" fill="#dc6b7b"/>
<path d="M168.0,330.5L188.0,314.6" stroke="#dd6d7b" stroke-width="1.1" fill="none"/><path d="M190.3,312.7L189.0,315.9L186.9,313.2Z" fill="#dd6d7b"/>
<path d="M170.7,330.5L188.8,317.0" stroke="#e6847e" stroke-width="1.1" fill="none"/><path d="M191.2,315.2L189.8,318.3L187.8,315.6Z" fill="#e6847e"/>
<path d="M173.3,330.5L193.8,316.3" stroke="#e5817d" stroke-width="1.1" fill="none"/><path d="M196.2,314.6L194.7,317.7L192.8,314.9Z" fill="#e5817d"/>
<path d="M176.0,330.5L195.6,317.9" stroke="#e7887e" stroke-width="1.1" fill="none"/><path d="M198.1,316.2L196.5,319.3L194.7,316.4Z" fill="#e7887e"/>
<path d="M206.0,330.5L186.4,333.5" stroke="#be4d7b" stroke-width="1.1" fill="none"/><path d="M183.4,333.9L186.2,331.8L186.7,335.2Z" fill="#be4d7b"/>
<path d="M209.4,330.5L190.2,334.0" stroke="#ca567b" stroke-width="1.1" fill="none"/><path d="M187.2,334.6L189.9,332.4L190.5,335.7Z" fill="#ca567b"/>
<path d="M212.8,330.5L188.1,335.7" stroke="#d9637a" stroke-width="1.1" fill="none"/><path d="M185.2,336.3L187.7,334.0L188.4,337.4Z" fill="#d9637a"/>
<path d="M216.2,330.5L192.2,336.1" stroke="#db697b" stroke-width="1.1" fill="none"/><path d="M189.3,336.8L191.8,334.5L192.6,337.8Z" fill="#db697b"/>
<path d="M219.7,330.5L195.1,336.8" stroke="#e1787c" stroke-width="1.1" fill="none"/><path d="M192.2,337.5L194.7,335.1L195.6,338.4Z" fill="#e1787c"/>
<path d="M223.1,330.5L200.5,336.7" stroke="#dd6d7b" stroke-width="1.1" fill="none"/><path d="M197.6,337.5L200.0,335.1L200.9,338.4Z" fill="#dd6d7b"/>
<path d="M226.5,330.5L199.1,338.5" stroke="#e1787d" stroke-width="1.1" fill="none"/><path d="M196.2,339.4L198.6,336.9L199.5,340.2Z" fill="#e1787d"/>
<path d="M229.9,330.5L198.5,340.2" stroke="#e6857e" stroke-width="1.1" fill="none"/><path d="M195.7,341.1L198.0,338.5L199.0,341.8Z" fill="#e6857e"/>
<path d="M233.3,330.5L203.7,340.1" stroke="#eb927f" stroke-width="1.1" fill="none"/><path d="M200.8,341.0L203.1,338.4L204.2,341.7Z" fill="#eb927f"/>
<path d="M236.8,330.5L201.7,342.3" stroke="#e7897e" stroke-width="1.1" fill="none"/><path d="M198.8,343.2L201.1,340.7L202.2,343.9Z" fill="#e7897e"/>
<path d="M240.2,330.5L204.0,343.1" stroke="#ea8f7f" stroke-width="1.1" fill="none"/><path d="M201.2,344.0L203.5,341.5L204.6,344.7Z" fill="#ea8f7f"/>
<path d="M243.6,330.5L206.7,343.7" stroke="#ee9a80" stroke-width="1.1" fill="none"/><path d="M203.9,344.7L206.1,342.1L207.3,345.3Z" fill="#ee9a80"/>
<path d="M247.0,330.5L213.3,342.9" stroke="#ef9f83" stroke-width="1.1" fill="none"/><path d="M210.5,344.0L212.8,341.3L213.9,344.5Z" fill="#ef9f83"/>
<path d="M250.0,330.5L270.6,325.0" stroke="#f2ae8b" stroke-width="1.1" fill="none"/><path d="M273.5,324.2L271.0,326.6L270.2,323.3Z" fill="#f2ae8b"/>
<path d="M254.0,330.5L271.5,325.3" stroke="#f2b08b" stroke-width="1.1" fill="none"/><path d="M274.4,324.5L272.0,327.0L271.0,323.7Z" fill="#f2b08b"/>
<path d="M258.0,330.5L274.2,325.2" stroke="#f3b48e" stroke-width="1.1" fill="none"/><path d="M277.0,324.3L274.7,326.8L273.7,323.6Z" fill="#f3b48e"/>
<path d="M262.0,330.5L273.6,326.2" stroke="#f5c194" stroke-width="1.1" fill="none"/><path d="M276.4,325.1L274.2,327.7L273.0,324.6Z" fill="#f5c194"/>
<path d="M282.0,330.5L233.5,360.9" stroke="#1c0e32" stroke-width="1.1" fill="none"/><path d="M231.0,362.5L232.6,359.4L234.4,362.3Z" fill="#1c0e32"/>
<path d="M283.4,330.5L240.1,356.2" stroke="#351549" stroke-width="1.1" fill="none"/><path d="M237.5,357.8L239.2,354.8L240.9,357.7Z" fill="#351549"/>
<path d="M284.8,330.5L243.3,353.8" stroke="#461a59" stroke-width="1.1" fill="none"/><path d="M240.7,355.3L242.4,352.3L244.1,355.3Z" fill="#461a59"/>
<path d="M286.2,330.5L244.3,352.7" stroke="#401853" stroke-width="1.1" fill="none"/><path d="M241.6,354.1L243.5,351.2L245.1,354.2Z" fill="#401853"/>
<path d="M287.5,330.5L238.1,355.1" stroke="#541d66" stroke-width="1.1" fill="none"/><path d="M235.4,356.4L237.3,353.6L238.8,356.6Z" fill="#541d66"/>
<path d="M288.9,330.5L248.2,349.4" stroke="#642271" stroke-width="1.1" fill="none"/><path d="M245.5,350.7L247.5,347.9L248.9,350.9Z" fill="#642271"/>
<path d="M290.3,330.5L245.4,349.9" stroke="#6e2673" stroke-width="1.1" fill="none"/><path d="M242.6,351.1L244.7,348.3L246.1,351.5Z" fill="#6e2673"/>
<path d="M291.7,330.5L248.1,347.9" stroke="#7c2b75" stroke-width="1.1" fill="none"/><path d="M245.3,349.0L247.4,346.3L248.7,349.5Z" fill="#7c2b75"/>
<path d="M293.1,330.5L251.0,345.9" stroke="#a53b7b" stroke-width="1.1" fill="none"/><path d="M248.2,346.9L250.4,344.3L251.6,347.5Z" fill="#a53b7b"/>
<path d="M294.5,330.5L251.3,344.9" stroke="#9e387a" stroke-width="1.1" fill="none"/><path d="M248.4,345.8L250.7,343.2L251.8,346.5Z" fill="#9e387a"/>
<path d="M295.8,330.5L250.3,344.1" stroke="#b7477b" stroke-width="1.1" fill="none"/><path d="M247.5,345.0L249.8,342.5L250.8,345.7Z" fill="#b7477b"/>
<path d="M297.2,330.5L254.6,341.8" stroke="#be4d7b" stroke-width="1.1" fill="none"/><path d="M251.7,342.6L254.1,340.2L255.0,343.5Z" fill="#be4d7b"/>
<path d="M298.6,330.5L256.7,340.2" stroke="#cc577b" stroke-width="1.1" fill="none"/><path d="M253.8,340.9L256.3,338.6L257.1,341.9Z" fill="#cc577b"/>
<path d="M300.0,330.5L251.9,340.0" stroke="#ce587a" stroke-width="1.1" fill="none"/><path d="M249.0,340.6L251.6,338.3L252.3,341.7Z" fill="#ce587a"/>
<path d="M292.0,330.5L240.1,355.5" stroke="#bd4c7b" stroke-width="1.1" fill="none"/><path d="M237.4,356.8L239.4,353.9L240.8,357.0Z" fill="#bd4c7b"/>
<path d="M294.0,330.5L247.9,352.4" stroke="#c5527b" stroke-width="1.1" fill="none"/><path d="M245.2,353.7L247.2,350.9L248.7,354.0Z" fill="#c5527b"/>
<path d="M296.0,330.5L247.7,353.3" stroke="#d45d7a" stroke-width="1.1" fill="none"/><path d="M244.9,354.5L246.9,351.7L248.4,354.8Z" fill="#d45d7a"/>
<path d="M298.0,330.5L251.7,352.0" stroke="#dd6c7b" stroke-width="1.1" fill="none"/><path d="M249.0,353.3L251.0,350.5L252.4,353.6Z" fill="#dd6c7b"/>
<path d="M300.0,330.5L261.6,348.1" stroke="#db687b" stroke-width="1.1" fill="none"/><path d="M258.9,349.3L260.9,346.5L262.3,349.6Z" fill="#db687b"/>
<path d="M302.0,330.5L263.8,347.7" stroke="#e1787c" stroke-width="1.1" fill="none"/><path d="M261.0,349.0L263.1,346.2L264.5,349.3Z" fill="#e1787c"/>
<path d="M304.0,330.5L268.4,346.3" stroke="#ee9980" stroke-width="1.1" fill="none"/><path d="M265.7,347.5L267.7,344.7L269.1,347.8Z" fill="#ee9980"/>
<path d="M306.0,330.5L270.8,345.8" stroke="#ef9f83" stroke-width="1.1" fill="none"/><path d="M268.1,347.0L270.1,344.2L271.5,347.3Z" fill="#ef9f83"/>
<path d="M300.0,330.5L314.3,324.6" stroke="#d25b7a" stroke-width="1.1" fill="none"/><path d="M317.0,323.4L314.9,326.1L313.6,323.0Z" fill="#d25b7a"/>
<path d="M304.3,330.5L315.4,325.1" stroke="#c14f7b" stroke-width="1.1" fill="none"/><path d="M318.1,323.8L316.1,326.7L314.7,323.6Z" fill="#c14f7b"/>
<path d="M308.6,330.5L321.1,323.4" stroke="#c2507b" stroke-width="1.1" fill="none"/><path d="M323.7,322.0L321.9,324.9L320.3,321.9Z" fill="#c2507b"/>
<path d="M312.9,330.5L321.7,324.6" stroke="#d9637a" stroke-width="1.1" fill="none"/><path d="M324.2,322.9L322.6,326.0L320.7,323.2Z" fill="#d9637a"/>
<path d="M317.1,330.5L325.0,324.1" stroke="#cc577b" stroke-width="1.1" fill="none"/><path d="M327.3,322.2L326.0,325.4L323.9,322.8Z" fill="#cc577b"/>
<path d="M321.4,330.5L327.9,323.9" stroke="#db677b" stroke-width="1.1" fill="none"/><path d="M330.0,321.7L329.1,325.1L326.7,322.7Z" fill="#db677b"/>
<path d="M325.7,330.5L329.9,324.8" stroke="#d15b7a" stroke-width="1.1" fill="none"/><path d="M331.7,322.4L331.3,325.8L328.6,323.8Z" fill="#d15b7a"/>
<path d="M330.0,330.5L332.8,325.2" stroke="#d05a7a" stroke-width="1.1" fill="none"/><path d="M334.2,322.6L334.3,326.0L331.3,324.4Z" fill="#d05a7a"/>
<path d="M306.0,330.5L357.7,308.2" stroke="#c04e7b" stroke-width="1.1" fill="none"/><path d="M360.4,307.0L358.3,309.8L357.0,306.6Z" fill="#c04e7b"/>
<path d="M308.9,330.5L346.5,313.5" stroke="#ae417c" stroke-width="1.1" fill="none"/><path d="M349.2,312.2L347.2,315.0L345.8,311.9Z" fill="#ae417c"/>
<path d="M311.9,330.5L355.4,309.7" stroke="#bb4a7b" stroke-width="1.1" fill="none"/><path d="M358.1,308.4L356.1,311.2L354.6,308.1Z" fill="#bb4a7b"/>
<path d="M314.8,330.5L352.5,311.4" stroke="#b0427c" stroke-width="1.1" fill="none"/><path d="M355.2,310.0L353.3,312.9L351.8,309.9Z" fill="#b0427c"/>
<path d="M317.7,330.5L351.8,312.2" stroke="#c5527b" stroke-width="1.1" fill="none"/><path d="M354.4,310.7L352.6,313.7L350.9,310.7Z" fill="#c5527b"/>
<path d="M320.7,330.5L354.7,310.9" stroke="#be4d7b" stroke-width="1.1" fill="none"/><path d="M357.3,309.4L355.6,312.4L353.9,309.4Z" fill="#be4d7b"/>
<path d="M323.6,330.5L355.7,310.7" stroke="#af417c" stroke-width="1.1" fill="none"/><path d="M358.3,309.1L356.6,312.1L354.8,309.2Z" fill="#af417c"/>
<path d="M326.5,330.5L353.5,312.6" stroke="#c04e7b" stroke-width="1.1" fill="none"/><path d="M356.0,310.9L354.4,314.0L352.5,311.1Z" fill="#c04e7b"/>
<path d="M329.5,330.5L351.8,314.4" stroke="#b2447c" stroke-width="1.1" fill="none"/><path d="M354.2,312.6L352.8,315.7L350.8,313.0Z" fill="#b2447c"/>
<path d="M332.4,330.5L352.7,314.4" stroke="#af417c" stroke-width="1.1" fill="none"/><path d="M355.1,312.5L353.8,315.7L351.7,313.1Z" fill="#af417c"/>
<path d="M335.3,330.5L357.3,311.2" stroke="#b0427c" stroke-width="1.1" fill="none"/><path d="M359.6,309.2L358.4,312.5L356.2,309.9Z" fill="#b0427c"/>
<path d="M338.3,330.5L358.3,310.8" stroke="#c14f7b" stroke-width="1.1" fill="none"/><path d="M360.4,308.7L359.5,312.0L357.1,309.6Z" fill="#c14f7b"/>
<path d="M341.2,330.5L355.6,314.4" stroke="#af417c" stroke-width="1.1" fill="none"/><path d="M357.6,312.2L356.9,315.6L354.3,313.3Z" fill="#af417c"/>
<path d="M344.1,330.5L356.9,314.0" stroke="#b3447c" stroke-width="1.1" fill="none"/><path d="M358.7,311.6L358.2,315.0L355.5,313.0Z" fill="#b3447c"/>
<path d="M347.1,330.5L357.2,314.8" stroke="#bf4d7b" stroke-width="1.1" fill="none"/><path d="M358.9,312.3L358.7,315.8L355.8,313.9Z" fill="#bf4d7b"/>
<path d="M350.0,330.5L359.5,312.4" stroke="#c04e7b" stroke-width="1.1" fill="none"/><path d="M360.9,309.7L361.0,313.2L358.0,311.6Z" fill="#c04e7b"/>
<path d="M350.0,330.5L375.9,308.7" stroke="#c04e7b" stroke-width="1.1" fill="none"/><path d="M378.2,306.8L377.0,310.0L374.8,307.4Z" fill="#c04e7b"/>
<path d="M352.9,330.5L374.0,312.0" stroke="#d7607a" stroke-width="1.1" fill="none"/><path d="M376.2,310.0L375.1,313.3L372.9,310.7Z" fill="#d7607a"/>
<path d="M355.8,330.5L373.3,314.3" stroke="#da667b" stroke-width="1.1" fill="none"/><path d="M375.5,312.3L374.5,315.6L372.2,313.1Z" fill="#da667b"/>
<path d="M358.7,330.5L374.8,314.8" stroke="#dd6d7b" stroke-width="1.1" fill="none"/><path d="M376.9,312.7L375.9,316.0L373.6,313.6Z" fill="#dd6d7b"/>
<path d="M361.6,330.5L379.0,312.2" stroke="#e1777c" stroke-width="1.1" fill="none"/><path d="M381.1,310.1L380.3,313.4L377.8,311.1Z" fill="#e1777c"/>
<path d="M364.5,330.5L379.6,313.5" stroke="#e4817d" stroke-width="1.1" fill="none"/><path d="M381.6,311.2L380.9,314.6L378.3,312.3Z" fill="#e4817d"/>
<path d="M367.5,330.5L381.7,312.8" stroke="#e98d7f" stroke-width="1.1" fill="none"/><path d="M383.6,310.5L383.1,313.9L380.4,311.8Z" fill="#e98d7f"/>
<path d="M370.4,330.5L382.4,313.9" stroke="#ee9b81" stroke-width="1.1" fill="none"/><path d="M384.2,311.4L383.8,314.9L381.1,312.9Z" fill="#ee9b81"/>
<path d="M373.3,330.5L381.3,317.9" stroke="#f0a787" stroke-width="1.1" fill="none"/><path d="M382.9,315.4L382.7,318.8L379.9,317.0Z" fill="#f0a787"/>
<path d="M376.2,330.5L384.1,315.9" stroke="#f2af8b" stroke-width="1.1" fill="none"/><path d="M385.5,313.2L385.6,316.7L382.6,315.1Z" fill="#f2af8b"/>
<path d="M379.1,330.5L385.1,316.8" stroke="#f1a988" stroke-width="1.1" fill="none"/><path d="M386.3,314.1L386.6,317.5L383.5,316.1Z" fill="#f1a988"/>
<path d="M382.0,330.5L385.9,318.5" stroke="#f5c295" stroke-width="1.1" fill="none"/><path d="M386.8,315.7L387.5,319.1L384.2,318.0Z" fill="#f5c295"/>
<path d="M395.0,330.5L375.7,341.2" stroke="#df737c" stroke-width="1.1" fill="none"/><path d="M373.0,342.7L374.8,339.8L376.5,342.7Z" fill="#df737c"/>
<path d="M398.6,330.5L377.3,341.2" stroke="#e4807d" stroke-width="1.1" fill="none"/><path d="M374.6,342.5L376.6,339.7L378.1,342.7Z" fill="#e4807d"/>
<path d="M402.1,330.5L384.5,338.5" stroke="#e5837e" stroke-width="1.1" fill="none"/><path d="M381.7,339.7L383.8,336.9L385.2,340.0Z" fill="#e5837e"/>
<path d="M405.7,330.5L386.3,338.3" stroke="#ec947f" stroke-width="1.1" fill="none"/><path d="M383.5,339.5L385.6,336.8L386.9,339.9Z" fill="#ec947f"/>
<path d="M409.3,330.5L390.3,337.3" stroke="#ea917f" stroke-width="1.1" fill="none"/><path d="M387.4,338.3L389.7,335.7L390.8,338.9Z" fill="#ea917f"/>
<path d="M412.9,330.5L393.0,336.6" stroke="#f0a787" stroke-width="1.1" fill="none"/><path d="M390.1,337.5L392.5,335.0L393.5,338.3Z" fill="#f0a787"/>
<path d="M416.4,330.5L396.6,335.7" stroke="#f0a787" stroke-width="1.1" fill="none"/><path d="M393.7,336.5L396.1,334.1L397.0,337.4Z" fill="#f0a787"/>
<path d="M420.0,330.5L399.6,335.0" stroke="#f3b78f" stroke-width="1.1" fill="none"/><path d="M396.7,335.6L399.3,333.3L400.0,336.6Z" fill="#f3b78f"/>
<path d="M422.0,330.5L446.2,324.2" stroke="#e27b7d" stroke-width="1.1" fill="none"/><path d="M449.1,323.4L446.6,325.8L445.8,322.5Z" fill="#e27b7d"/>
<path d="M424.0,330.5L451.0,323.0" stroke="#e5827d" stroke-width="1.1" fill="none"/><path d="M453.9,322.2L451.5,324.6L450.6,321.3Z" fill="#e5827d"/>
<path d="M426.0,330.5L450.4,323.3" stroke="#ec9580" stroke-width="1.1" fill="none"/><path d="M453.3,322.4L450.9,324.9L449.9,321.6Z" fill="#ec9580"/>
<path d="M428.0,330.5L451.8,323.0" stroke="#ef9e82" stroke-width="1.1" fill="none"/><path d="M454.6,322.1L452.3,324.6L451.2,321.4Z" fill="#ef9e82"/>
<path d="M430.0,330.5L449.9,323.7" stroke="#ef9e82" stroke-width="1.1" fill="none"/><path d="M452.8,322.8L450.5,325.3L449.4,322.1Z" fill="#ef9e82"/>
<path d="M444.0,330.5L472.8,319.5" stroke="#da667b" stroke-width="1.1" fill="none"/><path d="M475.6,318.4L473.4,321.1L472.2,317.9Z" fill="#da667b"/>
<path d="M445.4,330.5L471.9,320.3" stroke="#d8617a" stroke-width="1.1" fill="none"/><path d="M474.7,319.2L472.5,321.8L471.3,318.7Z" fill="#d8617a"/>
<path d="M446.9,330.5L471.6,320.8" stroke="#dd6d7b" stroke-width="1.1" fill="none"/><path d="M474.4,319.7L472.2,322.4L470.9,319.2Z" fill="#dd6d7b"/>
<path d="M448.3,330.5L472.1,321.0" stroke="#df727c" stroke-width="1.1" fill="none"/><path d="M474.9,319.9L472.7,322.6L471.5,319.5Z" fill="#df727c"/>
<path d="M449.7,330.5L475.4,320.1" stroke="#df717c" stroke-width="1.1" fill="none"/><path d="M478.2,319.0L476.0,321.7L474.8,318.6Z" fill="#df717c"/>
<path d="M451.1,330.5L469.9,322.8" stroke="#de717c" stroke-width="1.1" fill="none"/><path d="M472.7,321.6L470.6,324.4L469.3,321.2Z" fill="#de717c"/>
<path d="M452.6,330.5L473.0,321.9" stroke="#e0747c" stroke-width="1.1" fill="none"/><path d="M475.8,320.8L473.7,323.5L472.4,320.4Z" fill="#e0747c"/>
<path d="M454.0,330.5L472.9,322.4" stroke="#e6857e" stroke-width="1.1" fill="none"/><path d="M475.7,321.2L473.6,324.0L472.3,320.8Z" fill="#e6857e"/>
<path d="M455.4,330.5L474.7,322.0" stroke="#e98d7f" stroke-width="1.1" fill="none"/><path d="M477.5,320.8L475.4,323.6L474.1,320.5Z" fill="#e98d7f"/>
<path d="M456.9,330.5L471.8,323.8" stroke="#e88a7e" stroke-width="1.1" fill="none"/><path d="M474.5,322.6L472.5,325.3L471.1,322.2Z" fill="#e88a7e"/>
<path d="M458.3,330.5L474.5,323.0" stroke="#ed9880" stroke-width="1.1" fill="none"/><path d="M477.2,321.7L475.2,324.5L473.8,321.4Z" fill="#ed9880"/>
<path d="M459.7,330.5L472.1,324.5" stroke="#eb927f" stroke-width="1.1" fill="none"/><path d="M474.8,323.2L472.9,326.1L471.4,323.0Z" fill="#eb927f"/>
<path d="M461.1,330.5L473.4,324.3" stroke="#efa083" stroke-width="1.1" fill="none"/><path d="M476.1,323.0L474.2,325.9L472.7,322.8Z" fill="#efa083"/>
<path d="M462.6,330.5L473.6,324.7" stroke="#ee9a80" stroke-width="1.1" fill="none"/><path d="M476.3,323.3L474.4,326.2L472.8,323.2Z" fill="#ee9a80"/>
<path d="M464.0,330.5L472.8,325.6" stroke="#efa284" stroke-width="1.1" fill="none"/><path d="M475.4,324.2L473.6,327.1L471.9,324.1Z" fill="#efa284"/>
<path d="M465.4,330.5L472.2,326.5" stroke="#ee9b80" stroke-width="1.1" fill="none"/><path d="M474.8,324.9L473.1,327.9L471.4,325.0Z" fill="#ee9b80"/>
<path d="M466.9,330.5L473.8,326.0" stroke="#f2ae8b" stroke-width="1.1" fill="none"/><path d="M476.3,324.3L474.7,327.4L472.9,324.6Z" fill="#f2ae8b"/>
<path d="M468.3,330.5L472.2,327.6" stroke="#f0a787" stroke-width="1.1" fill="none"/><path d="M474.6,325.9L473.2,329.0L471.2,326.3Z" fill="#f0a787"/>
<path d="M469.7,330.5L473.2,327.5" stroke="#f0a887" stroke-width="1.1" fill="none"/><path d="M475.5,325.6L474.3,328.8L472.1,326.2Z" fill="#f0a887"/>
<path d="M471.1,330.5L472.8,328.7" stroke="#f3b990" stroke-width="1.1" fill="none"/><path d="M474.9,326.6L474.0,329.9L471.6,327.6Z" fill="#f3b990"/>
<path d="M472.6,330.5L473.1,329.7" stroke="#f3b990" stroke-width="1.1" fill="none"/><path d="M474.7,327.2L474.5,330.6L471.7,328.8Z" fill="#f3b990"/>
<path d="M474.0,330.5L474.1,330.0" stroke="#f2b28d" stroke-width="1.1" fill="none"/><path d="M475.0,327.1L475.8,330.5L472.5,329.6Z" fill="#f2b28d"/>
<path d="M478.0,330.5L474.5,333.5" stroke="#f3b990" stroke-width="1.1" fill="none"/><path d="M472.2,335.5L473.4,332.2L475.6,334.8Z" fill="#f3b990"/>
<path d="M479.8,330.5L474.9,334.4" stroke="#f1ae8a" stroke-width="1.1" fill="none"/><path d="M472.5,336.2L473.8,333.0L476.0,335.7Z" fill="#f1ae8a"/>
<path d="M481.6,330.5L477.4,333.6" stroke="#f4bc92" stroke-width="1.1" fill="none"/><path d="M475.0,335.3L476.4,332.2L478.4,334.9Z" fill="#f4bc92"/>
<path d="M483.4,330.5L479.1,333.4" stroke="#f2b28c" stroke-width="1.1" fill="none"/><path d="M476.7,335.1L478.2,332.0L480.1,334.8Z" fill="#f2b28c"/>
<path d="M485.2,330.5L480.2,333.7" stroke="#f4bc92" stroke-width="1.1" fill="none"/><path d="M477.6,335.3L479.2,332.2L481.1,335.1Z" fill="#f4bc92"/>
<path d="M486.9,330.5L480.8,334.1" stroke="#f5c094" stroke-width="1.1" fill="none"/><path d="M478.2,335.6L479.9,332.7L481.7,335.6Z" fill="#f5c094"/>
<path d="M488.7,330.5L482.6,333.9" stroke="#f5c395" stroke-width="1.1" fill="none"/><path d="M479.9,335.3L481.8,332.4L483.4,335.4Z" fill="#f5c395"/>
<path d="M490.5,330.5L485.2,333.2" stroke="#f3b890" stroke-width="1.1" fill="none"/><path d="M482.5,334.6L484.4,331.7L486.0,334.7Z" fill="#f3b890"/>
<path d="M492.3,330.5L484.9,334.0" stroke="#f4be93" stroke-width="1.1" fill="none"/><path d="M482.2,335.3L484.2,332.5L485.6,335.6Z" fill="#f4be93"/>
<path d="M494.1,330.5L487.4,333.5" stroke="#f4bb91" stroke-width="1.1" fill="none"/><path d="M484.6,334.7L486.7,331.9L488.0,335.1Z" fill="#f4bb91"/>
<path d="M495.9,330.5L489.7,333.1" stroke="#f6c697" stroke-width="1.1" fill="none"/><path d="M486.9,334.2L489.1,331.5L490.4,334.6Z" fill="#f6c697"/>
<path d="M497.7,330.5L488.9,333.9" stroke="#f3b990" stroke-width="1.1" fill="none"/><path d="M486.1,335.0L488.3,332.3L489.5,335.5Z" fill="#f3b990"/>
<path d="M499.5,330.5L492.8,332.9" stroke="#f7cea1" stroke-width="1.1" fill="none"/><path d="M490.0,333.9L492.2,331.3L493.4,334.5Z" fill="#f7cea1"/>
<path d="M501.3,330.5L492.2,333.5" stroke="#f6c797" stroke-width="1.1" fill="none"/><path d="M489.3,334.5L491.6,331.9L492.7,335.2Z" fill="#f6c797"/>
<path d="M503.1,330.5L493.6,333.4" stroke="#f5c496" stroke-width="1.1" fill="none"/><path d="M490.8,334.3L493.1,331.8L494.1,335.1Z" fill="#f5c496"/>
<path d="M504.8,330.5L496.0,333.0" stroke="#f5c596" stroke-width="1.1" fill="none"/><path d="M493.2,333.9L495.6,331.4L496.5,334.7Z" fill="#f5c596"/>
<path d="M506.6,330.5L497.0,333.1" stroke="#f8d4a9" stroke-width="1.1" fill="none"/><path d="M494.1,333.9L496.6,331.5L497.4,334.7Z" fill="#f8d4a9"/>
<path d="M508.4,330.5L498.9,332.9" stroke="#f5c496" stroke-width="1.1" fill="none"/><path d="M496.0,333.6L498.5,331.2L499.3,334.5Z" fill="#f5c496"/>
<path d="M510.2,330.5L499.3,333.0" stroke="#f6cb9c" stroke-width="1.1" fill="none"/><path d="M496.4,333.7L498.9,331.4L499.7,334.7Z" fill="#f6cb9c"/>
<path d="M512.0,330.5L501.3,332.8" stroke="#f6c99a" stroke-width="1.1" fill="none"/><path d="M498.3,333.4L500.9,331.1L501.6,334.5Z" fill="#f6c99a"/>
<path d="M514.0,330.5L537.0,324.2" stroke="#e37d7d" stroke-width="1.1" fill="none"/><path d="M539.9,323.4L537.5,325.8L536.5,322.5Z" fill="#e37d7d"/>
<path d="M516.0,330.5L539.4,323.8" stroke="#e1777c" stroke-width="1.1" fill="none"/><path d="M542.3,323.0L539.9,325.4L539.0,322.2Z" fill="#e1777c"/>
<path d="M518.0,330.5L537.5,324.7" stroke="#e98e7f" stroke-width="1.1" fill="none"/><path d="M540.3,323.9L538.0,326.4L537.0,323.1Z" fill="#e98e7f"/>
<path d="M520.0,330.5L537.3,325.1" stroke="#e98d7f" stroke-width="1.1" fill="none"/><path d="M540.2,324.2L537.8,326.8L536.8,323.5Z" fill="#e98d7f"/>
<path d="M522.0,330.5L536.6,325.7" stroke="#e98e7f" stroke-width="1.1" fill="none"/><path d="M539.4,324.8L537.1,327.4L536.1,324.1Z" fill="#e98e7f"/>
<path d="M524.0,330.5L540.5,324.8" stroke="#ee9b80" stroke-width="1.1" fill="none"/><path d="M543.4,323.8L541.1,326.4L540.0,323.2Z" fill="#ee9b80"/>
<path d="M526.0,330.5L540.6,325.1" stroke="#ef9e82" stroke-width="1.1" fill="none"/><path d="M543.4,324.0L541.2,326.7L540.0,323.5Z" fill="#ef9e82"/>
<path d="M528.0,330.5L538.9,326.1" stroke="#ed9680" stroke-width="1.1" fill="none"/><path d="M541.7,325.0L539.6,327.7L538.3,324.5Z" fill="#ed9680"/>
<path d="M530.0,330.5L539.5,326.3" stroke="#f0a686" stroke-width="1.1" fill="none"/><path d="M542.2,325.1L540.2,327.8L538.8,324.7Z" fill="#f0a686"/>
<path d="M532.0,330.5L539.6,326.7" stroke="#f1ac89" stroke-width="1.1" fill="none"/><path d="M542.3,325.3L540.4,328.2L538.8,325.2Z" fill="#f1ac89"/>
<path d="M534.0,330.5L539.5,327.2" stroke="#f3b68f" stroke-width="1.1" fill="none"/><path d="M542.1,325.7L540.4,328.7L538.6,325.8Z" fill="#f3b68f"/>
<path d="M536.0,330.5L538.6,328.5" stroke="#f2b38d" stroke-width="1.1" fill="none"/><path d="M541.0,326.7L539.7,329.9L537.6,327.2Z" fill="#f2b38d"/>
</g>
<path d="M554.0,291.5 L38.5,291.5 L38.5,369.5 L554.0,369.5" fill="none" stroke="#333" stroke-width="1.3"/>
<line x1="554.0" y1="291.5" x2="554.0" y2="369.5" stroke="#a9bcd2" stroke-width="1.3"/>
<line x1="95.2" y1="369.5" x2="95.2" y2="372.5" stroke="#333" stroke-width="1"/>
<line x1="186.9" y1="369.5" x2="186.9" y2="372.5" stroke="#333" stroke-width="1"/>
<line x1="278.6" y1="369.5" x2="278.6" y2="372.5" stroke="#333" stroke-width="1"/>
<line x1="370.3" y1="369.5" x2="370.3" y2="372.5" stroke="#333" stroke-width="1"/>
<line x1="462.0" y1="369.5" x2="462.0" y2="372.5" stroke="#333" stroke-width="1"/>
<line x1="553.7" y1="369.5" x2="553.7" y2="372.5" stroke="#333" stroke-width="1"/>
<line x1="554.0" y1="319.0" x2="557.0" y2="319.0" stroke="#a9bcd2" stroke-width="1"/>
<text x="558.50" y="322.40" font-size="9.6" fill="#a9bcd2" text-anchor="start" font-weight="normal" font-style="normal" stroke="#a9bcd2" stroke-width="0.22">7.5</text>
<line x1="554.0" y1="355.7" x2="557.0" y2="355.7" stroke="#a9bcd2" stroke-width="1"/>
<text x="558.50" y="359.10" font-size="9.6" fill="#a9bcd2" text-anchor="start" font-weight="normal" font-style="normal" stroke="#a9bcd2" stroke-width="0.22">5</text>
<g transform="translate(589.5,331) rotate(-90)">
<text x="0.00" y="0.00" font-size="11" fill="#b3c4d8" text-anchor="middle" font-weight="normal" font-style="normal" stroke="#b3c4d8" stroke-width="0.22">Water depth (m)</text>
</g>
<text x="41.30" y="361.50" font-size="11" fill="#333" text-anchor="start" font-weight="bold" font-style="normal" >d)</text>
<g transform="translate(17.6,330.5) rotate(-90)">
<text x="0.00" y="0.00" font-size="11.2" fill="#333" text-anchor="middle" font-weight="normal" font-style="normal" stroke="#333" stroke-width="0.22">Ocean current</text>
</g>
<g transform="translate(29.2,330.5) rotate(-90)">
<text x="0.00" y="0.00" font-size="11.2" fill="#333" text-anchor="middle" font-weight="normal" font-style="normal" stroke="#333" stroke-width="0.22">variation</text>
</g>
<defs><linearGradient id="gMag" x1="0" x2="1" y1="0" y2="0"><stop offset="0.0" stop-color="#fbeccb"/><stop offset="0.15" stop-color="#f6c898"/><stop offset="0.32" stop-color="#ee9a80"/><stop offset="0.5" stop-color="#d8607a"/><stop offset="0.66" stop-color="#a83c7c"/><stop offset="0.82" stop-color="#5e2070"/><stop offset="1.0" stop-color="#0c0a22"/></linearGradient></defs>
<rect x="475.5" y="345.5" width="62.5" height="7" fill="url(#gMag)"/>
<line x1="493.7" y1="352.5" x2="493.7" y2="354.5" stroke="#333" stroke-width="0.8"/>
<line x1="512.0" y1="352.5" x2="512.0" y2="354.5" stroke="#333" stroke-width="0.8"/>
<line x1="530.3" y1="352.5" x2="530.3" y2="354.5" stroke="#333" stroke-width="0.8"/>
<text x="493.70" y="365.80" font-size="9" fill="#333" text-anchor="middle" font-weight="normal" font-style="normal" stroke-width="0">0.5</text>
<text x="512.00" y="365.80" font-size="9" fill="#333" text-anchor="middle" font-weight="normal" font-style="normal" stroke-width="0">1</text>
<text x="525.00" y="365.80" font-size="9" fill="#333" text-anchor="start" font-weight="normal" font-style="normal" stroke-width="0">1.5<tspan dx="1.5">m</tspan><tspan dx="0.8">s</tspan><tspan font-size="5.5" dy="-4">−1</tspan></text>
<g clip-path="url(#clipE)">
<path d="M41.5,416.7L34.7,426.2" stroke="#3d90a8" stroke-width="1.7" fill="none"/><path d="M31.5,430.7L32.3,424.5L37.1,428.0Z" fill="#3d90a8"/>
<path d="M49.2,416.7L41.3,428.2" stroke="#409ca8" stroke-width="1.7" fill="none"/><path d="M38.2,432.7L38.8,426.5L43.8,429.9Z" fill="#409ca8"/>
<path d="M56.9,416.7L49.8,428.0" stroke="#409ca8" stroke-width="1.7" fill="none"/><path d="M46.9,432.7L47.2,426.4L52.3,429.6Z" fill="#409ca8"/>
<path d="M64.5,416.7L56.8,427.3" stroke="#409ca8" stroke-width="1.7" fill="none"/><path d="M53.5,431.7L54.4,425.5L59.2,429.0Z" fill="#409ca8"/>
<path d="M72.2,416.7L66.3,425.2" stroke="#4caeaa" stroke-width="1.7" fill="none"/><path d="M63.2,429.7L63.9,423.5L68.8,426.9Z" fill="#4caeaa"/>
<path d="M79.9,416.7L67.3,432.4" stroke="#387fa8" stroke-width="1.7" fill="none"/><path d="M63.9,436.7L65.0,430.5L69.6,434.3Z" fill="#387fa8"/>
<path d="M87.5,416.7L75.9,431.4" stroke="#3a84a8" stroke-width="1.7" fill="none"/><path d="M72.5,435.7L73.6,429.5L78.3,433.2Z" fill="#3a84a8"/>
<path d="M95.2,416.7L87.6,426.4" stroke="#3f97a8" stroke-width="1.7" fill="none"/><path d="M84.2,430.7L85.2,424.5L90.0,428.2Z" fill="#3f97a8"/>
<path d="M102.9,416.7L94.3,427.4" stroke="#3d90a8" stroke-width="1.7" fill="none"/><path d="M90.9,431.7L92.0,425.5L96.6,429.3Z" fill="#3d90a8"/>
<path d="M110.5,416.7L103.9,425.3" stroke="#44a8a8" stroke-width="1.7" fill="none"/><path d="M100.5,429.7L101.5,423.5L106.3,427.2Z" fill="#44a8a8"/>
<path d="M118.2,416.7L111.6,425.3" stroke="#4caeaa" stroke-width="1.7" fill="none"/><path d="M108.2,429.7L109.2,423.5L113.9,427.2Z" fill="#4caeaa"/>
<path d="M125.9,416.7L120.2,424.3" stroke="#57b5ac" stroke-width="1.7" fill="none"/><path d="M116.9,428.7L117.8,422.5L122.6,426.1Z" fill="#57b5ac"/>
<path d="M133.6,416.7L127.9,424.3" stroke="#5cb9ae" stroke-width="1.7" fill="none"/><path d="M124.6,428.7L125.5,422.5L130.2,426.1Z" fill="#5cb9ae"/>
<path d="M141.2,416.7L136.3,424.1" stroke="#5fbbae" stroke-width="1.7" fill="none"/><path d="M133.2,428.7L133.8,422.5L138.8,425.8Z" fill="#5fbbae"/>
<path d="M148.9,416.7L144.1,423.3" stroke="#62bdaf" stroke-width="1.7" fill="none"/><path d="M140.9,427.7L141.7,421.5L146.6,425.0Z" fill="#62bdaf"/>
<path d="M156.6,416.7L152.5,423.1" stroke="#65bfb0" stroke-width="1.7" fill="none"/><path d="M149.6,427.7L150.0,421.4L155.0,424.7Z" fill="#65bfb0"/>
<path d="M164.2,416.7L162.1,422.5" stroke="#6dc5b2" stroke-width="1.7" fill="none"/><path d="M160.2,427.7L159.3,421.5L164.9,423.6Z" fill="#6dc5b2"/>
<path d="M171.9,416.7L168.5,422.9" stroke="#67c1b0" stroke-width="1.7" fill="none"/><path d="M165.9,427.7L165.9,421.4L171.2,424.3Z" fill="#67c1b0"/>
<path d="M179.6,416.7L174.6,424.1" stroke="#5fbbae" stroke-width="1.7" fill="none"/><path d="M171.6,428.7L172.1,422.5L177.1,425.8Z" fill="#5fbbae"/>
<path d="M187.2,416.7L186.7,423.2" stroke="#6dc5b2" stroke-width="1.7" fill="none"/><path d="M186.2,428.7L183.7,423.0L189.7,423.5Z" fill="#6dc5b2"/>
<path d="M194.9,416.7L193.4,422.4" stroke="#6dc5b2" stroke-width="1.7" fill="none"/><path d="M191.9,427.7L190.5,421.6L196.3,423.2Z" fill="#6dc5b2"/>
<path d="M202.6,416.7L200.2,424.4" stroke="#5cb9ae" stroke-width="1.7" fill="none"/><path d="M198.6,429.7L197.3,423.6L203.1,425.3Z" fill="#5cb9ae"/>
<path d="M210.2,416.7L204.1,427.0" stroke="#4caeaa" stroke-width="1.7" fill="none"/><path d="M201.2,431.7L201.5,425.4L206.7,428.5Z" fill="#4caeaa"/>
<path d="M217.9,416.7L210.8,428.0" stroke="#47aaa9" stroke-width="1.7" fill="none"/><path d="M207.9,432.7L208.3,426.4L213.4,429.6Z" fill="#47aaa9"/>
<path d="M225.6,416.7L216.1,428.4" stroke="#43a6a8" stroke-width="1.7" fill="none"/><path d="M212.6,432.7L213.7,426.5L218.4,430.3Z" fill="#43a6a8"/>
<path d="M233.3,416.7L219.9,431.6" stroke="#3c8ea8" stroke-width="1.7" fill="none"/><path d="M216.3,435.7L217.7,429.6L222.2,433.6Z" fill="#3c8ea8"/>
<path d="M240.9,416.7L232.9,429.1" stroke="#42a1a8" stroke-width="1.7" fill="none"/><path d="M229.9,433.7L230.4,427.5L235.4,430.7Z" fill="#42a1a8"/>
<path d="M248.6,416.7L240.5,430.0" stroke="#3f97a8" stroke-width="1.7" fill="none"/><path d="M237.6,434.7L237.9,428.4L243.0,431.6Z" fill="#3f97a8"/>
<path d="M256.3,416.7L247.6,435.7" stroke="#387fa8" stroke-width="1.7" fill="none"/><path d="M245.3,440.7L244.8,434.5L250.3,437.0Z" fill="#387fa8"/>
<path d="M263.9,416.7L243.5,430.6" stroke="#377aa8" stroke-width="1.7" fill="none"/><path d="M238.9,433.7L241.8,428.1L245.2,433.1Z" fill="#377aa8"/>
<path d="M271.6,416.7L257.0,435.4" stroke="#3675a6" stroke-width="1.7" fill="none"/><path d="M253.6,439.7L254.6,433.5L259.4,437.2Z" fill="#3675a6"/>
<path d="M279.3,416.7L263.4,439.2" stroke="#3569a0" stroke-width="1.7" fill="none"/><path d="M260.3,443.7L261.0,437.5L265.9,440.9Z" fill="#3569a0"/>
<path d="M286.9,416.7L272.2,448.7" stroke="#2f3d7f" stroke-width="1.7" fill="none"/><path d="M269.9,453.7L269.5,447.4L275.0,450.0Z" fill="#2f3d7f"/>
<path d="M294.6,416.7L293.9,428.2" stroke="#52b2ab" stroke-width="1.7" fill="none"/><path d="M293.6,433.7L290.9,428.0L296.9,428.4Z" fill="#52b2ab"/>
<path d="M302.3,416.7L314.8,417.7" stroke="#57b5ac" stroke-width="1.7" fill="none"/><path d="M320.3,418.2L314.6,420.7L315.1,414.8Z" fill="#57b5ac"/>
<path d="M310.0,416.7L350.3,391.9" stroke="#191c41" stroke-width="1.7" fill="none"/><path d="M355.0,389.0L351.8,394.4L348.7,389.3Z" fill="#191c41"/>
<path d="M317.6,416.7L352.9,395.8" stroke="#222a5b" stroke-width="1.7" fill="none"/><path d="M357.6,393.0L354.4,398.4L351.4,393.2Z" fill="#222a5b"/>
<path d="M325.3,416.7L352.1,393.6" stroke="#304084" stroke-width="1.7" fill="none"/><path d="M356.3,390.0L354.1,395.9L350.2,391.3Z" fill="#304084"/>
<path d="M333.0,416.7L358.9,393.7" stroke="#345194" stroke-width="1.7" fill="none"/><path d="M363.0,390.0L360.9,395.9L356.9,391.4Z" fill="#345194"/>
<path d="M340.6,416.7L363.4,397.5" stroke="#3569a0" stroke-width="1.7" fill="none"/><path d="M367.6,394.0L365.4,399.8L361.5,395.2Z" fill="#3569a0"/>
<path d="M348.3,416.7L367.0,401.5" stroke="#377aa8" stroke-width="1.7" fill="none"/><path d="M371.3,398.0L368.9,403.8L365.1,399.1Z" fill="#377aa8"/>
<path d="M356.0,416.7L372.0,401.8" stroke="#3b89a8" stroke-width="1.7" fill="none"/><path d="M376.0,398.0L374.0,403.9L369.9,399.6Z" fill="#3b89a8"/>
<path d="M363.6,416.7L373.4,403.4" stroke="#409ca8" stroke-width="1.7" fill="none"/><path d="M376.6,399.0L375.8,405.2L371.0,401.7Z" fill="#409ca8"/>
<path d="M371.3,416.7L380.1,404.5" stroke="#44a8a8" stroke-width="1.7" fill="none"/><path d="M383.3,400.0L382.5,406.2L377.7,402.7Z" fill="#44a8a8"/>
<path d="M379.0,416.7L384.2,411.0" stroke="#6dc5b2" stroke-width="1.7" fill="none"/><path d="M388.0,407.0L386.4,413.1L382.0,409.0Z" fill="#6dc5b2"/>
<path d="M386.7,416.7L390.2,412.3" stroke="#7aceb5" stroke-width="1.7" fill="none"/><path d="M393.7,408.0L392.5,414.2L387.9,410.4Z" fill="#7aceb5"/>
<path d="M394.3,416.7L398.1,413.5" stroke="#88d8b8" stroke-width="1.7" fill="none"/><path d="M402.3,410.0L400.0,415.8L396.2,411.2Z" fill="#88d8b8"/>
<path d="M402.0,416.7L405.5,414.2" stroke="#90dbbb" stroke-width="1.7" fill="none"/><path d="M410.0,411.0L407.3,416.6L403.8,411.7Z" fill="#90dbbb"/>
<path d="M409.7,416.7L411.6,415.9" stroke="#9cdec0" stroke-width="1.7" fill="none"/><path d="M416.7,413.7L412.8,418.6L410.4,413.1Z" fill="#9cdec0"/>
<path d="M414.5,415.1 L420.2,413.8 L418.9,419.6 Z" fill="#aadfc6"/>
<path d="M423.0,415.6 L427.0,414.7 L426.1,418.7 Z" fill="#aadfc6"/>
<path d="M430.1,415.3 L435.3,414.1 L434.1,419.3 Z" fill="#aadfc6"/>
<path d="M438.6,415.8 L442.1,415.0 L441.3,418.4 Z" fill="#aadfc6"/>
<path d="M445.7,415.4 L450.3,414.4 L449.3,419.0 Z" fill="#aadfc6"/>
<path d="M452.8,415.1 L458.6,413.8 L457.3,419.6 Z" fill="#aadfc6"/>
<path d="M461.4,415.6 L465.4,414.7 L464.5,418.7 Z" fill="#aadfc6"/>
<path d="M468.4,415.3 L473.6,414.1 L472.5,419.3 Z" fill="#aadfc6"/>
<path d="M477.0,415.8 L480.4,415.0 L479.6,418.4 Z" fill="#aadfc6"/>
<path d="M484.1,415.4 L488.7,414.4 L487.6,419.0 Z" fill="#aadfc6"/>
<path d="M491.2,415.1 L496.9,413.8 L495.6,419.6 Z" fill="#aadfc6"/>
<path d="M499.7,415.6 L503.7,414.7 L502.8,418.7 Z" fill="#aadfc6"/>
<path d="M506.8,415.3 L512.0,414.1 L510.8,419.3 Z" fill="#aadfc6"/>
<path d="M515.3,415.8 L518.8,415.0 L518.0,418.4 Z" fill="#aadfc6"/>
<path d="M522.4,415.4 L527.0,414.4 L526.0,419.0 Z" fill="#aadfc6"/>
<path d="M529.5,415.1 L535.3,413.8 L534.0,419.6 Z" fill="#aadfc6"/>
<path d="M538.1,415.6 L542.1,414.7 L541.2,418.7 Z" fill="#aadfc6"/>
<path d="M545.1,415.3 L550.3,414.1 L549.2,419.3 Z" fill="#aadfc6"/>
</g>
<rect x="38.5" y="377.5" width="515.5" height="78.0" fill="none" stroke="#333" stroke-width="1.3"/>
<line x1="95.2" y1="455.5" x2="95.2" y2="458.5" stroke="#333" stroke-width="1"/>
<line x1="186.9" y1="455.5" x2="186.9" y2="458.5" stroke="#333" stroke-width="1"/>
<line x1="278.6" y1="455.5" x2="278.6" y2="458.5" stroke="#333" stroke-width="1"/>
<line x1="370.3" y1="455.5" x2="370.3" y2="458.5" stroke="#333" stroke-width="1"/>
<line x1="462.0" y1="455.5" x2="462.0" y2="458.5" stroke="#333" stroke-width="1"/>
<line x1="553.7" y1="455.5" x2="553.7" y2="458.5" stroke="#333" stroke-width="1"/>
<text x="69.00" y="469.90" font-size="9.8" fill="#333" text-anchor="middle" font-weight="normal" font-style="normal" stroke="#333" stroke-width="0.1">9/13</text>
<text x="95.80" y="469.90" font-size="9.8" fill="#333" text-anchor="middle" font-weight="normal" font-style="normal" stroke="#333" stroke-width="0.1">12:00</text>
<text x="187.00" y="469.90" font-size="9.8" fill="#333" text-anchor="middle" font-weight="normal" font-style="normal" stroke="#333" stroke-width="0.1">9/14</text>
<text x="278.60" y="469.90" font-size="9.8" fill="#333" text-anchor="middle" font-weight="normal" font-style="normal" stroke="#333" stroke-width="0.1">12:00</text>
<text x="370.30" y="469.90" font-size="9.8" fill="#333" text-anchor="middle" font-weight="normal" font-style="normal" stroke="#333" stroke-width="0.1">9/15</text>
<text x="462.30" y="469.90" font-size="9.8" fill="#333" text-anchor="middle" font-weight="normal" font-style="normal" stroke="#333" stroke-width="0.1">12:00</text>
<text x="551.00" y="469.90" font-size="9.8" fill="#333" text-anchor="middle" font-weight="normal" font-style="normal" stroke="#333" stroke-width="0.1">9/16</text>
<text x="41.30" y="392.60" font-size="11" fill="#333" text-anchor="start" font-weight="bold" font-style="normal" >e)</text>
<g transform="translate(17.0,415) rotate(-90)">
<text x="0.00" y="0.00" font-size="11.2" fill="#333" text-anchor="middle" font-weight="normal" font-style="normal" stroke="#333" stroke-width="0.22">Wind</text>
</g>
<g transform="translate(29.2,417) rotate(-90)">
<text x="0.00" y="0.00" font-size="11.2" fill="#333" text-anchor="middle" font-weight="normal" font-style="normal" stroke="#333" stroke-width="0.22">variation</text>
</g>
<defs><linearGradient id="gMako" x1="0" x2="1" y1="0" y2="0"><stop offset="0.0" stop-color="#d8f2d8"/><stop offset="0.2" stop-color="#88d8b8"/><stop offset="0.45" stop-color="#44a8a8"/><stop offset="0.65" stop-color="#3678a8"/><stop offset="0.82" stop-color="#34458e"/><stop offset="1.0" stop-color="#141432"/></linearGradient></defs>
<rect x="475.7" y="432.1" width="62.3" height="6.8" fill="url(#gMako)"/>
<line x1="493.0" y1="438.9" x2="493.0" y2="440.9" stroke="#333" stroke-width="0.8"/>
<line x1="510.6" y1="438.9" x2="510.6" y2="440.9" stroke="#333" stroke-width="0.8"/>
<line x1="528.2" y1="438.9" x2="528.2" y2="440.9" stroke="#333" stroke-width="0.8"/>
<text x="493.00" y="452.20" font-size="9" fill="#333" text-anchor="middle" font-weight="normal" font-style="normal" stroke="#333" stroke-width="0.22">5</text>
<text x="510.60" y="452.20" font-size="9" fill="#333" text-anchor="middle" font-weight="normal" font-style="normal" stroke="#333" stroke-width="0.22">10</text>
<text x="523.50" y="452.20" font-size="9" fill="#333" text-anchor="start" font-weight="normal" font-style="normal" stroke="#333" stroke-width="0.22">15<tspan dx="1.5">m</tspan><tspan dx="0.8">s</tspan><tspan font-size="5.5" dy="-4">−1</tspan></text>
</svg></body></html>
